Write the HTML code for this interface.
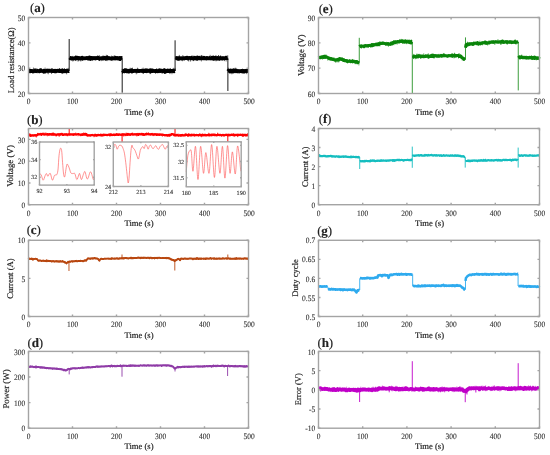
<!DOCTYPE html>
<html><head><meta charset="utf-8"><style>
html,body{margin:0;padding:0;background:#fff;}
svg{display:block;}
text{text-rendering:geometricPrecision;}
</style></head><body>
<svg width="550" height="455" viewBox="0 0 550 455">
<rect width="550" height="455" fill="#fff" stroke="none"/>
<path d="M28.50 71.12 29.00 71.29 29.50 71.12 30.00 70.54 30.50 71.32 31.00 71.16 31.50 70.81 32.00 71.20 32.50 71.13 33.00 71.10 33.50 71.01 34.00 71.19 34.50 70.74 35.00 70.94 35.50 70.83 36.00 71.21 36.50 71.01 37.00 70.90 37.50 70.73 38.00 70.91 38.50 71.00 39.00 70.90 39.50 71.45 40.00 71.35 40.50 70.05 41.00 70.34 41.50 70.94 42.00 70.85 42.50 71.07 43.00 71.08 43.50 71.74 44.00 70.61 44.50 70.87 45.00 71.71 45.50 71.23 46.00 71.23 46.50 70.82 47.00 70.42 47.50 71.06 48.00 71.04 48.50 70.57 49.00 70.76 49.50 70.97 50.00 70.67 50.50 70.97 51.00 71.03 51.50 71.01 52.00 70.82 52.50 71.21 53.00 71.31 53.50 71.11 54.00 70.71 54.50 71.26 55.00 70.82 55.50 71.31 56.00 70.62 56.50 71.32 57.00 70.99 57.50 70.56 58.00 70.89 58.50 71.02 59.00 71.10 59.50 70.66 60.00 70.61 60.50 71.07 61.00 70.84 61.50 71.08 62.00 71.27 62.50 70.42 63.00 71.09 63.50 71.43 64.00 70.90 64.50 70.72 65.00 71.26 65.50 71.09 66.00 71.31 66.50 70.88 67.00 70.48 67.50 70.96 68.00 70.84 68.50 71.27 69.00 71.07M69.50 57.63 70.00 57.78 70.50 58.51 71.00 58.44 71.50 57.98 72.00 58.20 72.50 58.36 73.00 58.36 73.50 58.51 74.00 58.29 74.50 58.17 75.00 58.11 75.50 58.57 76.00 57.41 76.50 58.15 77.00 58.21 77.50 57.70 78.00 58.32 78.50 57.97 79.00 58.50 79.50 58.16 80.00 58.43 80.50 58.63 81.00 58.33 81.50 57.89 82.00 57.67 82.50 58.81 83.00 58.16 83.50 57.96 84.00 58.25 84.50 58.13 85.00 58.50 85.50 58.21 86.00 58.20 86.50 57.95 87.00 58.36 87.50 57.84 88.00 58.43 88.50 58.73 89.00 57.67 89.50 57.34 90.00 58.42 90.50 59.09 91.00 57.85 91.50 57.76 92.00 58.41 92.50 57.91 93.00 58.02 93.50 58.08 94.00 58.39 94.50 58.06 95.00 58.30 95.50 58.14 96.00 57.90 96.50 58.09 97.00 57.87 97.50 58.20 98.00 57.81 98.50 57.82 99.00 58.71 99.50 58.18 100.00 58.18 100.50 58.38 101.00 58.05 101.50 58.12 102.00 58.35 102.50 58.30 103.00 57.79 103.50 58.49 104.00 57.99 104.50 57.83 105.00 57.88 105.50 58.06 106.00 58.77 106.50 57.79 107.00 58.26 107.50 57.45 108.00 58.20 108.50 58.51 109.00 58.12 109.50 57.98 110.00 58.28 110.50 58.45 111.00 58.43 111.50 58.89 112.00 58.27 112.50 57.99 113.00 58.16 113.50 58.17 114.00 58.24 114.50 58.19 115.00 58.26 115.50 57.62 116.00 58.49 116.50 58.00 117.00 57.79 117.50 58.42 118.00 58.66 118.50 58.37 119.00 58.26 119.50 57.87 120.00 59.21 120.50 58.51 121.00 57.80 121.50 57.93 122.00 58.23M122.50 70.46 123.00 71.06 123.50 70.84 124.00 71.43 124.50 71.34 125.00 70.05 125.50 71.01 126.00 70.43 126.50 71.39 127.00 71.06 127.50 71.19 128.00 70.63 128.50 71.64 129.00 71.71 129.50 70.63 130.00 71.13 130.50 70.76 131.00 70.99 131.50 70.56 132.00 71.65 132.50 70.66 133.00 70.90 133.50 71.18 134.00 70.77 134.50 70.92 135.00 70.80 135.50 70.95 136.00 70.59 136.50 70.85 137.00 70.93 137.50 70.88 138.00 71.02 138.50 70.90 139.00 71.26 139.50 70.89 140.00 70.95 140.50 70.77 141.00 70.82 141.50 70.56 142.00 71.18 142.50 70.60 143.00 70.74 143.50 71.13 144.00 71.14 144.50 70.86 145.00 70.29 145.50 71.15 146.00 71.09 146.50 70.51 147.00 71.27 147.50 70.75 148.00 70.61 148.50 71.03 149.00 70.94 149.50 71.07 150.00 70.44 150.50 71.63 151.00 70.79 151.50 70.46 152.00 71.22 152.50 70.88 153.00 71.11 153.50 70.88 154.00 70.98 154.50 71.09 155.00 70.74 155.50 71.24 156.00 70.84 156.50 70.70 157.00 71.03 157.50 71.16 158.00 70.92 158.50 70.70 159.00 71.22 159.50 70.38 160.00 70.64 160.50 71.01 161.00 70.52 161.50 71.01 162.00 70.98 162.50 71.31 163.00 70.68 163.50 70.78 164.00 71.12 164.50 70.14 165.00 72.09 165.50 70.76 166.00 70.74 166.50 71.30 167.00 70.99 167.50 70.38 168.00 71.22 168.50 71.30 169.00 70.84 169.50 70.90 170.00 71.17 170.50 70.68 171.00 71.15 171.50 71.07 172.00 70.76 172.50 70.51 173.00 70.92 173.50 70.69 174.00 71.35 174.50 71.05 175.00 71.27M175.50 58.25 176.00 58.29 176.50 57.93 177.00 58.43 177.50 58.82 178.00 58.09 178.50 57.99 179.00 58.14 179.50 58.03 180.00 57.95 180.50 58.25 181.00 58.10 181.50 58.70 182.00 58.20 182.50 58.31 183.00 58.53 183.50 58.09 184.00 58.70 184.50 57.98 185.00 57.92 185.50 58.07 186.00 58.16 186.50 57.71 187.00 58.19 187.50 57.62 188.00 58.69 188.50 58.17 189.00 57.98 189.50 57.88 190.00 58.07 190.50 58.12 191.00 57.83 191.50 57.88 192.00 58.13 192.50 58.02 193.00 58.53 193.50 58.60 194.00 58.21 194.50 58.37 195.00 57.73 195.50 58.42 196.00 58.19 196.50 58.37 197.00 58.76 197.50 57.40 198.00 58.29 198.50 57.82 199.00 58.41 199.50 57.74 200.00 58.03 200.50 58.27 201.00 58.41 201.50 58.23 202.00 57.92 202.50 58.01 203.00 58.51 203.50 58.20 204.00 57.61 204.50 58.50 205.00 58.35 205.50 58.51 206.00 58.08 206.50 58.49 207.00 57.83 207.50 58.40 208.00 58.03 208.50 58.44 209.00 58.55 209.50 57.94 210.00 58.18 210.50 58.21 211.00 58.62 211.50 58.45 212.00 57.77 212.50 58.36 213.00 58.46 213.50 58.94 214.00 57.61 214.50 58.01 215.00 58.67 215.50 57.73 216.00 57.78 216.50 58.38 217.00 58.56 217.50 57.97 218.00 58.39 218.50 58.24 219.00 58.73 219.50 58.20 220.00 58.55 220.50 57.88 221.00 58.14 221.50 58.17 222.00 58.60 222.50 58.40 223.00 57.94 223.50 58.44 224.00 58.47 224.50 58.16 225.00 58.11 225.50 58.13 226.00 57.61 226.50 58.27 227.00 58.28 227.50 57.90M228.00 71.26 228.50 70.52 229.00 70.81 229.50 70.83 230.00 71.70 230.50 70.44 231.00 71.20 231.50 71.33 232.00 71.13 232.50 71.41 233.00 70.65 233.50 70.20 234.00 71.27 234.50 70.58 235.00 70.89 235.50 70.59 236.00 71.37 236.50 71.30 237.00 70.75 237.50 71.32 238.00 71.04 238.50 70.95 239.00 71.02 239.50 70.93 240.00 71.22 240.50 71.11 241.00 70.88 241.50 71.35 242.00 70.79 242.50 71.10 243.00 71.15 243.50 71.52 244.00 70.82 244.50 71.61 245.00 71.06 245.50 70.93 246.00 70.76 246.50 71.21 247.00 71.02 247.50 70.61 248.00 70.61 248.50 70.81" fill="none" stroke="#000" stroke-width="3.6" stroke-linejoin="round"/>
<path d="M28.50 72.50 28.80 72.28 29.10 70.00 29.40 69.80 29.70 72.50 30.00 69.77 30.30 71.93 30.60 70.33 30.90 70.50 31.20 71.19 31.50 72.53 31.80 69.21 32.10 69.78 32.40 71.79 32.70 70.62 33.00 70.24 33.30 72.67 33.60 70.15 33.90 71.77 34.20 72.67 34.50 71.95 34.80 71.75 35.10 71.80 35.40 72.10 35.70 70.18 36.00 71.46 36.30 72.09 36.60 72.40 36.90 72.46 37.20 72.45 37.50 69.55 37.80 70.56 38.10 70.84 38.40 72.41 38.70 70.71 39.00 70.15 39.30 69.27 39.60 70.24 39.90 72.01 40.20 69.27 40.50 69.79 40.80 70.32 41.10 71.12 41.40 70.51 41.70 72.38 42.00 69.95 42.30 71.22 42.60 72.00 42.90 72.55 43.20 72.34 43.50 69.69 43.80 72.05 44.10 71.63 44.40 70.72 44.70 69.29 45.00 69.80 45.30 71.90 45.60 69.50 45.90 70.33 46.20 70.12 46.50 71.89 46.80 70.49 47.10 69.51 47.40 70.53 47.70 70.38 48.00 71.78 48.30 70.35 48.60 71.70 48.90 71.14 49.20 72.40 49.50 71.84 49.80 70.67 50.10 70.95 50.40 70.90 50.70 72.34 51.00 69.70 51.30 70.73 51.60 71.13 51.90 70.77 52.20 71.35 52.50 71.00 52.80 70.69 53.10 71.67 53.40 70.39 53.70 71.38 54.00 71.82 54.30 69.67 54.60 70.38 54.90 72.60 55.20 72.68 55.50 72.77 55.80 69.35 56.10 72.18 56.40 72.57 56.70 72.45 57.00 71.77 57.30 71.63 57.60 71.79 57.90 71.27 58.20 72.04 58.50 71.01 58.80 70.01 59.10 69.54 59.40 72.47 59.70 71.92 60.00 69.84 60.30 72.16 60.60 70.28 60.90 71.49 61.20 70.48 61.50 69.97 61.80 69.83 62.10 69.46 62.40 69.47 62.70 69.45 63.00 69.52 63.30 72.20 63.60 71.06 63.90 69.66 64.20 71.09 64.50 71.15 64.80 70.99 65.10 69.94 65.40 70.76 65.70 72.34 66.00 70.58 66.30 71.01 66.60 72.55 66.90 70.04 67.20 71.81 67.50 70.94 67.80 72.03 68.10 70.49 68.40 71.15 68.70 70.53 69.00 72.32M69.30 59.69 69.60 58.67 69.90 59.93 70.20 59.04 70.50 59.39 70.80 59.62 71.10 57.38 71.40 59.95 71.70 57.81 72.00 58.19 72.30 57.05 72.60 59.36 72.90 57.61 73.20 58.88 73.50 57.19 73.80 57.66 74.10 57.78 74.40 57.25 74.70 56.53 75.00 59.17 75.30 59.82 75.60 57.21 75.90 56.99 76.20 57.65 76.50 56.70 76.80 58.74 77.10 57.73 77.40 58.42 77.70 59.66 78.00 59.50 78.30 59.72 78.60 59.77 78.90 58.52 79.20 58.21 79.50 56.54 79.80 56.77 80.10 58.29 80.40 59.48 80.70 57.96 81.00 56.41 81.30 57.16 81.60 59.14 81.90 56.97 82.20 57.12 82.50 57.43 82.80 58.59 83.10 59.41 83.40 57.19 83.70 58.56 84.00 58.31 84.30 58.00 84.60 58.49 84.90 59.33 85.20 57.18 85.50 58.19 85.80 56.75 86.10 58.25 86.40 59.25 86.70 59.99 87.00 58.11 87.30 57.47 87.60 58.49 87.90 57.74 88.20 56.82 88.50 58.29 88.80 59.28 89.10 59.61 89.40 59.92 89.70 57.72 90.00 57.31 90.30 56.80 90.60 57.97 90.90 59.31 91.20 57.24 91.50 59.46 91.80 58.96 92.10 57.12 92.40 58.67 92.70 59.35 93.00 59.76 93.30 56.98 93.60 59.36 93.90 59.19 94.20 57.28 94.50 57.46 94.80 59.85 95.10 57.70 95.40 57.44 95.70 58.99 96.00 56.88 96.30 58.14 96.60 57.69 96.90 58.36 97.20 58.57 97.50 58.70 97.80 57.96 98.10 59.59 98.40 59.41 98.70 59.76 99.00 58.01 99.30 59.03 99.60 57.95 99.90 57.40 100.20 58.75 100.50 59.81 100.80 59.30 101.10 57.43 101.40 57.22 101.70 59.18 102.00 58.94 102.30 59.51 102.60 56.93 102.90 59.50 103.20 57.96 103.50 57.38 103.80 57.64 104.10 59.98 104.40 59.84 104.70 56.70 105.00 57.53 105.30 58.99 105.60 56.53 105.90 56.53 106.20 56.56 106.50 59.53 106.80 57.60 107.10 57.55 107.40 59.26 107.70 57.55 108.00 59.06 108.30 57.73 108.60 57.47 108.90 57.79 109.20 57.00 109.50 56.67 109.80 59.54 110.10 59.53 110.40 58.06 110.70 58.88 111.00 59.51 111.30 57.81 111.60 58.96 111.90 59.12 112.20 56.68 112.50 56.90 112.80 59.10 113.10 58.94 113.40 57.07 113.70 59.38 114.00 59.28 114.30 57.60 114.60 57.63 114.90 56.80 115.20 58.00 115.50 56.80 115.80 58.36 116.10 58.65 116.40 58.49 116.70 56.66 117.00 58.64 117.30 59.11 117.60 56.91 117.90 58.54 118.20 59.35 118.50 57.10 118.80 59.69 119.10 59.90 119.40 58.96 119.70 59.54 120.00 57.38 120.30 58.79 120.60 59.73 120.90 56.56 121.20 59.35 121.50 57.25 121.80 59.28 122.10 58.71M122.40 72.09 122.70 70.64 123.00 70.82 123.30 72.53 123.60 69.46 123.90 69.76 124.20 72.70 124.50 72.49 124.80 69.73 125.10 72.70 125.40 70.16 125.70 72.41 126.00 72.46 126.30 69.29 126.60 69.23 126.90 70.38 127.20 72.55 127.50 72.05 127.80 70.59 128.10 72.29 128.40 70.31 128.70 70.45 129.00 69.89 129.30 72.65 129.60 72.09 129.90 70.86 130.20 70.15 130.50 72.68 130.80 70.63 131.10 69.96 131.40 70.73 131.70 71.79 132.00 71.97 132.30 69.59 132.60 72.61 132.90 71.63 133.20 69.42 133.50 72.21 133.80 72.70 134.10 72.22 134.40 69.24 134.70 70.90 135.00 71.32 135.30 72.40 135.60 71.01 135.90 69.48 136.20 72.56 136.50 72.63 136.80 70.95 137.10 69.39 137.40 72.22 137.70 71.87 138.00 72.70 138.30 69.23 138.60 70.77 138.90 70.22 139.20 69.59 139.50 71.85 139.80 70.43 140.10 69.34 140.40 69.68 140.70 72.10 141.00 71.38 141.30 69.97 141.60 71.71 141.90 69.67 142.20 71.62 142.50 71.56 142.80 69.22 143.10 71.04 143.40 71.81 143.70 71.93 144.00 71.74 144.30 72.39 144.60 71.92 144.90 72.52 145.20 70.69 145.50 69.32 145.80 69.85 146.10 70.24 146.40 69.35 146.70 69.59 147.00 71.07 147.30 70.11 147.60 70.23 147.90 71.87 148.20 72.28 148.50 72.30 148.80 70.53 149.10 71.75 149.40 72.27 149.70 69.74 150.00 69.92 150.30 71.53 150.60 70.16 150.90 69.89 151.20 70.52 151.50 69.26 151.80 70.78 152.10 69.37 152.40 70.08 152.70 69.98 153.00 70.39 153.30 69.65 153.60 70.90 153.90 71.68 154.20 70.42 154.50 72.54 154.80 72.30 155.10 70.30 155.40 69.34 155.70 71.97 156.00 70.06 156.30 70.40 156.60 71.29 156.90 72.80 157.20 70.28 157.50 70.89 157.80 71.46 158.10 71.66 158.40 69.96 158.70 71.34 159.00 71.16 159.30 71.57 159.60 69.61 159.90 69.65 160.20 72.71 160.50 72.16 160.80 72.18 161.10 72.56 161.40 72.66 161.70 70.62 162.00 71.91 162.30 71.51 162.60 71.22 162.90 71.65 163.20 70.35 163.50 72.30 163.80 70.67 164.10 69.73 164.40 69.24 164.70 71.50 165.00 70.03 165.30 72.64 165.60 69.90 165.90 70.34 166.20 72.74 166.50 71.07 166.80 72.52 167.10 72.01 167.40 69.63 167.70 69.98 168.00 70.59 168.30 72.37 168.60 70.40 168.90 70.87 169.20 70.93 169.50 70.37 169.80 72.03 170.10 69.40 170.40 70.01 170.70 72.17 171.00 71.42 171.30 71.04 171.60 70.53 171.90 69.67 172.20 70.84 172.50 72.75 172.80 71.34 173.10 71.28 173.40 72.76 173.70 72.39 174.00 72.80 174.30 72.63 174.60 71.60 174.90 70.30M175.20 58.66 175.50 57.65 175.80 59.32 176.10 56.89 176.40 58.07 176.70 59.43 177.00 58.04 177.30 58.56 177.60 56.75 177.90 57.43 178.20 59.84 178.50 58.76 178.80 57.71 179.10 58.26 179.40 59.19 179.70 59.23 180.00 59.38 180.30 57.44 180.60 57.26 180.90 58.70 181.20 58.30 181.50 58.43 181.80 57.17 182.10 57.55 182.40 59.11 182.70 57.69 183.00 59.13 183.30 56.57 183.60 59.82 183.90 57.15 184.20 58.12 184.50 59.72 184.80 57.31 185.10 57.22 185.40 59.95 185.70 59.66 186.00 58.32 186.30 56.62 186.60 58.58 186.90 57.31 187.20 57.17 187.50 59.76 187.80 58.63 188.10 58.00 188.40 56.63 188.70 57.74 189.00 59.51 189.30 57.49 189.60 57.56 189.90 58.58 190.20 57.31 190.50 58.40 190.80 59.17 191.10 57.43 191.40 58.10 191.70 58.47 192.00 57.71 192.30 57.21 192.60 56.81 192.90 58.44 193.20 59.77 193.50 56.47 193.80 59.52 194.10 59.86 194.40 58.35 194.70 59.88 195.00 58.94 195.30 58.36 195.60 58.07 195.90 58.08 196.20 58.86 196.50 57.24 196.80 58.98 197.10 58.17 197.40 58.83 197.70 59.79 198.00 57.24 198.30 57.85 198.60 57.39 198.90 56.59 199.20 58.64 199.50 58.66 199.80 60.00 200.10 58.56 200.40 57.83 200.70 59.64 201.00 56.46 201.30 57.49 201.60 59.11 201.90 56.98 202.20 57.70 202.50 59.46 202.80 57.64 203.10 57.27 203.40 59.61 203.70 56.68 204.00 59.48 204.30 57.54 204.60 57.15 204.90 58.16 205.20 58.14 205.50 59.87 205.80 59.11 206.10 58.06 206.40 58.41 206.70 57.55 207.00 59.94 207.30 57.79 207.60 59.59 207.90 58.76 208.20 59.70 208.50 57.68 208.80 57.90 209.10 57.73 209.40 59.38 209.70 59.83 210.00 59.37 210.30 58.03 210.60 59.38 210.90 59.03 211.20 58.27 211.50 57.06 211.80 57.26 212.10 58.93 212.40 57.12 212.70 58.42 213.00 59.30 213.30 58.75 213.60 58.60 213.90 57.33 214.20 56.83 214.50 56.52 214.80 56.57 215.10 57.23 215.40 58.41 215.70 57.93 216.00 57.13 216.30 57.49 216.60 58.06 216.90 59.28 217.20 58.76 217.50 56.55 217.80 58.13 218.10 57.07 218.40 59.48 218.70 59.59 219.00 58.40 219.30 59.05 219.60 58.87 219.90 59.34 220.20 57.40 220.50 57.23 220.80 59.09 221.10 59.85 221.40 57.23 221.70 58.44 222.00 58.36 222.30 57.74 222.60 59.10 222.90 56.87 223.20 57.74 223.50 57.95 223.80 59.83 224.10 58.86 224.40 58.96 224.70 60.00 225.00 57.22 225.30 58.57 225.60 56.79 225.90 56.98 226.20 58.91 226.50 59.37 226.80 58.69 227.10 58.49 227.40 59.25 227.70 59.84M228.00 72.53 228.30 72.11 228.60 70.76 228.90 71.96 229.20 70.04 229.50 72.45 229.80 70.21 230.10 72.73 230.40 70.29 230.70 70.15 231.00 70.41 231.30 70.95 231.60 69.92 231.90 70.15 232.20 72.38 232.50 72.55 232.80 69.76 233.10 70.79 233.40 70.71 233.70 72.18 234.00 71.58 234.30 70.67 234.60 72.04 234.90 71.38 235.20 69.95 235.50 72.05 235.80 70.88 236.10 72.39 236.40 71.59 236.70 69.74 237.00 71.92 237.30 71.29 237.60 71.15 237.90 70.71 238.20 71.59 238.50 69.43 238.80 71.01 239.10 72.57 239.40 69.94 239.70 69.69 240.00 70.68 240.30 71.07 240.60 70.56 240.90 70.94 241.20 71.63 241.50 72.05 241.80 69.39 242.10 70.57 242.40 71.43 242.70 69.28 243.00 72.62 243.30 71.51 243.60 70.95 243.90 70.81 244.20 69.73 244.50 69.44 244.80 71.65 245.10 72.53 245.40 72.05 245.70 69.28 246.00 69.34 246.30 71.05 246.60 71.26 246.90 71.38 247.20 72.35 247.50 72.43 247.80 72.76 248.10 70.40 248.40 70.89" fill="none" stroke="#000" stroke-width="0.5" stroke-linejoin="round"/>
<path d="M246.60 71.00v-2.24M182.38 58.20v3.02M41.58 71.00v-2.37M228.19 71.00v-3.33M164.05 71.00v-2.75M71.42 58.20v2.69M105.15 58.20v2.42M155.51 71.00v2.79M171.96 71.00v3.22M118.95 58.20v-2.19M192.01 58.20v-2.96M145.69 71.00v-2.29M242.47 71.00v-2.39M215.92 58.20v-3.21M61.87 71.00v2.19M51.58 71.00v3.05M215.92 58.20v2.18M162.09 71.00v2.76M242.79 71.00v2.91M124.45 71.00v2.29M68.27 71.00v-3.14M37.10 71.00v2.39M197.32 58.20v2.72M47.29 71.00v2.41M170.01 71.00v3.09M152.42 71.00v-2.43M190.97 58.20v2.44M235.71 71.00v2.12M80.80 58.20v3.27M134.69 71.00v-2.14M193.59 58.20v-2.51M73.32 58.20v2.94M49.15 71.00v-2.53M59.23 71.00v-2.88M233.04 71.00v2.57M201.88 58.20v-3.24M72.89 58.20v-2.31M32.48 71.00v2.12M168.68 71.00v-2.23M99.50 58.20v2.78M78.92 58.20v2.87M72.70 58.20v3.18M132.42 71.00v-3.34M103.95 58.20v-2.62M234.91 71.00v-3.17M152.93 71.00v-2.63M226.13 58.20v-2.58M231.50 71.00v-2.27M226.13 58.20v3.23M138.14 71.00v-2.54M156.74 71.00v-2.94M146.00 71.00v-2.77M33.44 71.00v-3.40M236.26 71.00v-2.43M62.09 71.00v-2.82M150.21 71.00v3.13M178.50 58.20v2.35M201.20 58.20v-3.17M147.75 71.00v-2.83M168.97 71.00v-2.23M210.14 58.20v-3.36M169.93 71.00v-2.64M175.04 71.00v-2.72M216.04 58.20v3.12M45.08 71.00v-3.35M142.56 71.00v2.42M34.81 71.00v2.28M62.15 71.00v3.07M35.24 71.00v-2.98M218.71 58.20v-2.68M101.21 58.20v2.94M143.13 71.00v-3.33M201.41 58.20v3.19M179.87 58.20v2.84M231.86 71.00v3.28M136.27 71.00v3.29M182.83 58.20v-3.10M219.04 58.20v2.25M52.48 71.00v-2.83M131.90 71.00v-2.89M48.27 71.00v3.24M150.98 71.00v-2.77M97.62 58.20v-2.90M213.07 58.20v-3.03M131.58 71.00v-2.21M64.67 71.00v2.17M220.27 58.20v-2.14M122.26 71.00v-2.24M33.32 71.00v2.43M87.84 58.20v2.16M112.90 58.20v2.88M34.75 71.00v-2.84M59.68 71.00v-2.69M93.94 58.20v-2.11M102.93 58.20v-2.77M124.83 71.00v-2.26M94.18 58.20v-2.11M99.23 58.20v-3.14M130.20 71.00v-3.28M106.07 58.20v-2.19M193.20 58.20v2.96M200.05 58.20v2.17M32.87 71.00v2.86M64.50 71.00v-2.91M51.30 71.00v-2.86M106.28 58.20v-3.39M107.02 58.20v2.90M193.10 58.20v2.32M188.76 58.20v3.31M222.25 58.20v2.49M178.58 58.20v2.80M159.42 71.00v-2.66M246.76 71.00v3.15M169.59 71.00v2.21M114.29 58.20v2.58M95.74 58.20v2.68M36.83 71.00v-2.88M235.77 71.00v-3.28M193.83 58.20v2.49M111.58 58.20v-2.55M220.63 58.20v-2.97M196.08 58.20v2.37M130.87 71.00v-2.76M238.32 71.00v2.52M224.44 58.20v2.91M126.68 71.00v-2.85M122.52 71.00v2.99M62.22 71.00v2.66M51.43 71.00v-2.40M107.23 58.20v-2.12M76.00 58.20v2.88M44.02 71.00v2.39M190.07 58.20v-2.11M239.50 71.00v2.59M179.54 58.20v2.46M227.73 58.20v-2.99M219.61 58.20v2.49M170.49 71.00v-2.58M143.45 71.00v3.04M107.38 58.20v-2.98M137.40 71.00v2.31M99.35 58.20v2.86M66.68 71.00v3.31M137.48 71.00v-3.28M173.79 71.00v-3.20M157.18 71.00v2.47M190.58 58.20v3.35M102.58 58.20v2.36M29.02 71.00v2.62M75.57 58.20v2.25M92.44 58.20v2.84M150.13 71.00v-3.04M114.29 58.20v-2.99M173.03 71.00v2.11M78.04 58.20v3.38M131.50 71.00v-2.50M29.49 71.00v-3.06M179.30 58.20v-3.30M218.51 58.20v-3.11M217.05 58.20v2.78" fill="none" stroke="#000" stroke-width="0.6"/>
<path d="M69.18 71.00V39.03M122.20 58.20V92.74M175.09 71.00V40.30M227.89 58.20V90.97" fill="none" stroke="#000" stroke-width="0.9"/>
<path d="M28.50 135.45 29.00 135.27 29.50 135.30 30.00 134.79 30.50 135.85 31.00 135.69 31.50 135.32 32.00 135.59 32.50 135.47 33.00 135.26 33.50 135.64 34.00 135.32 34.50 135.32 35.00 135.20 35.50 135.51 36.00 135.38 36.50 135.54 37.00 135.25 37.50 135.07 38.00 133.98 38.50 134.42 39.00 134.26 39.50 134.30 40.00 134.33 40.50 133.98 41.00 134.43 41.50 134.75 42.00 133.84 42.50 133.82 43.00 133.88 43.50 134.47 44.00 134.30 44.50 134.54 45.00 134.46 45.50 134.34 46.00 134.36 46.50 134.25 47.00 134.52 47.50 134.02 48.00 134.21 48.50 134.38 49.00 134.77 49.50 134.14 50.00 134.06 50.50 134.20 51.00 134.59 51.50 134.29 52.00 134.69 52.50 133.89 53.00 134.65 53.50 134.63 54.00 134.02 54.50 134.42 55.00 134.69 55.50 134.42 56.00 134.65 56.50 135.00 57.00 134.48 57.50 134.35 58.00 134.23 58.50 134.59 59.00 134.38 59.50 134.39 60.00 134.42 60.50 134.61 61.00 134.19 61.50 134.08 62.00 133.86 62.50 134.77 63.00 134.50 63.50 134.86 64.00 134.49 64.50 134.31 65.00 134.62 65.50 134.48 66.00 134.18 66.50 134.27 67.00 134.93 67.50 134.58 68.00 134.59 68.50 134.41 69.00 134.31 69.50 134.70 70.00 134.45 70.50 134.28 71.00 134.44 71.50 134.24 72.00 134.52 72.50 134.75 73.00 134.25 73.50 134.82 74.00 134.29 74.50 134.49 75.00 134.24 75.50 134.40 76.00 134.46 76.50 134.34 77.00 134.27 77.50 134.27 78.00 134.23 78.50 134.04 79.00 134.37 79.50 134.53 80.00 134.66 80.50 134.59 81.00 135.04 81.50 134.50 82.00 134.31 82.50 134.89 83.00 134.15 83.50 134.66 84.00 134.17 84.50 134.50 85.00 133.92 85.50 134.63 86.00 134.36 86.50 134.16 87.00 135.30 87.50 135.59 88.00 135.40 88.50 135.19 89.00 135.35 89.50 135.31 90.00 135.52 90.50 135.53 91.00 135.15 91.50 135.17 92.00 135.16 92.50 134.95 93.00 135.13 93.50 135.24 94.00 135.42 94.50 135.57 95.00 135.03 95.50 135.36 96.00 135.09 96.50 135.71 97.00 135.17 97.50 135.30 98.00 134.93 98.50 134.95 99.00 135.19 99.50 135.03 100.00 135.20 100.50 134.71 101.00 135.26 101.50 134.86 102.00 135.50 102.50 134.99 103.00 135.32 103.50 134.69 104.00 135.13 104.50 134.79 105.00 134.88 105.50 134.99 106.00 134.90 106.50 135.03 107.00 135.14 107.50 135.10 108.00 134.90 108.50 134.57 109.00 134.70 109.50 134.84 110.00 134.34 110.50 135.05 111.00 134.79 111.50 134.77 112.00 135.06 112.50 134.97 113.00 134.85 113.50 134.53 114.00 134.85 114.50 134.84 115.00 134.52 115.50 134.99 116.00 134.84 116.50 134.21 117.00 134.72 117.50 134.36 118.00 134.95 118.50 134.85 119.00 134.36 119.50 134.40 120.00 134.64 120.50 134.54 121.00 134.97 121.50 134.77 122.00 134.50 122.50 134.71 123.00 134.05 123.50 134.63 124.00 134.76 124.50 134.49 125.00 134.35 125.50 134.66 126.00 135.00 126.50 134.55 127.00 134.21 127.50 134.85 128.00 134.01 128.50 134.60 129.00 134.32 129.50 134.69 130.00 134.23 130.50 134.77 131.00 134.50 131.50 133.99 132.00 133.92 132.50 134.33 133.00 134.72 133.50 134.42 134.00 134.40 134.50 134.31 135.00 134.55 135.50 134.45 136.00 134.42 136.50 134.09 137.00 134.63 137.50 134.66 138.00 133.99 138.50 134.88 139.00 134.48 139.50 134.17 140.00 133.81 140.50 134.44 141.00 134.41 141.50 134.11 142.00 133.80 142.50 134.52 143.00 134.09 143.50 134.11 144.00 134.93 144.50 134.74 145.00 134.44 145.50 134.10 146.00 134.39 146.50 133.67 147.00 134.28 147.50 134.08 148.00 133.96 148.50 133.90 149.00 134.44 149.50 134.34 150.00 134.37 150.50 134.56 151.00 134.15 151.50 134.07 152.00 133.94 152.50 134.32 153.00 134.61 153.50 134.39 154.00 134.60 154.50 134.16 155.00 134.35 155.50 134.29 156.00 134.19 156.50 134.99 157.00 134.77 157.50 134.40 158.00 134.43 158.50 134.64 159.00 134.33 159.50 134.83 160.00 134.43 160.50 134.69 161.00 134.56 161.50 134.73 162.00 134.55 162.50 134.52 163.00 134.71 163.50 134.81 164.00 134.94 164.50 135.06 165.00 135.46 165.50 135.31 166.00 135.08 166.50 135.36 167.00 135.04 167.50 135.60 168.00 135.41 168.50 134.97 169.00 135.52 169.50 135.57 170.00 134.72 170.50 135.01 171.00 134.77 171.50 134.09 172.00 134.03 172.50 134.06 173.00 134.43 173.50 134.38 174.00 135.13 174.50 134.66 175.00 135.33 175.50 135.32 176.00 135.37 176.50 135.01 177.00 134.82 177.50 135.11 178.00 135.49 178.50 135.70 179.00 135.45 179.50 135.42 180.00 135.08 180.50 135.67 181.00 135.61 181.50 135.13 182.00 135.25 182.50 135.00 183.00 135.61 183.50 135.34 184.00 135.20 184.50 135.32 185.00 135.32 185.50 135.10 186.00 134.89 186.50 134.87 187.00 134.75 187.50 135.29 188.00 135.72 188.50 134.73 189.00 135.18 189.50 135.24 190.00 134.89 190.50 135.18 191.00 134.84 191.50 135.41 192.00 134.95 192.50 135.12 193.00 135.27 193.50 134.99 194.00 134.65 194.50 134.96 195.00 135.28 195.50 135.07 196.00 135.15 196.50 134.82 197.00 135.12 197.50 135.27 198.00 135.09 198.50 135.56 199.00 135.03 199.50 134.82 200.00 134.67 200.50 135.36 201.00 135.06 201.50 135.32 202.00 135.18 202.50 135.47 203.00 135.38 203.50 134.97 204.00 135.13 204.50 135.33 205.00 134.75 205.50 135.42 206.00 135.36 206.50 135.30 207.00 135.00 207.50 135.13 208.00 134.77 208.50 135.07 209.00 134.90 209.50 135.07 210.00 134.92 210.50 135.12 211.00 135.34 211.50 134.71 212.00 135.27 212.50 134.54 213.00 134.50 213.50 135.01 214.00 135.04 214.50 135.14 215.00 134.62 215.50 135.01 216.00 135.06 216.50 135.34 217.00 135.00 217.50 135.16 218.00 134.78 218.50 134.97 219.00 134.91 219.50 135.19 220.00 134.77 220.50 134.81 221.00 135.16 221.50 135.46 222.00 135.11 222.50 135.08 223.00 134.92 223.50 135.28 224.00 135.14 224.50 135.44 225.00 135.08 225.50 134.76 226.00 134.86 226.50 134.75 227.00 134.69 227.50 135.32 228.00 135.20 228.50 134.69 229.00 135.45 229.50 135.06 230.00 134.76 230.50 135.10 231.00 134.98 231.50 134.81 232.00 134.51 232.50 135.01 233.00 135.07 233.50 134.36 234.00 135.14 234.50 135.15 235.00 134.88 235.50 135.03 236.00 134.93 236.50 134.79 237.00 134.91 237.50 135.34 238.00 134.64 238.50 135.06 239.00 135.05 239.50 134.82 240.00 134.89 240.50 134.65 241.00 134.79 241.50 135.00 242.00 135.08 242.50 134.78 243.00 135.76 243.50 134.86 244.00 135.03 244.50 134.94 245.00 134.90 245.50 135.33 246.00 134.88 246.50 135.33 247.00 135.29 247.50 134.74 248.00 135.26 248.50 134.84" fill="none" stroke="#ff0000" stroke-width="2.2" stroke-linejoin="round"/>
<path d="M28.50 136.40 28.80 134.47 29.10 135.25 29.40 135.82 29.70 135.86 30.00 134.96 30.30 136.02 30.60 135.14 30.90 134.80 31.20 135.44 31.50 135.62 31.80 136.08 32.10 135.73 32.40 134.57 32.70 135.55 33.00 135.09 33.30 135.81 33.60 134.49 33.90 135.71 34.20 135.98 34.50 134.48 34.80 134.43 35.10 136.18 35.40 136.19 35.70 134.75 36.00 136.24 36.30 135.21 36.60 135.44 36.90 135.34 37.20 135.07 37.50 135.80 37.80 134.71 38.10 135.07 38.40 134.45 38.70 135.06 39.00 134.24 39.30 134.16 39.60 134.36 39.90 133.23 40.20 134.76 40.50 133.51 40.80 135.12 41.10 133.32 41.40 134.65 41.70 134.78 42.00 134.33 42.30 133.44 42.60 134.87 42.90 133.90 43.20 133.83 43.50 134.65 43.80 135.21 44.10 133.46 44.40 134.14 44.70 134.62 45.00 133.83 45.30 135.13 45.60 134.49 45.90 133.44 46.20 133.60 46.50 133.58 46.80 134.21 47.10 135.12 47.40 133.53 47.70 133.61 48.00 133.73 48.30 134.46 48.60 134.18 48.90 134.16 49.20 133.61 49.50 134.98 49.80 134.29 50.10 135.07 50.40 133.40 50.70 134.26 51.00 134.08 51.30 135.03 51.60 134.74 51.90 134.40 52.20 133.68 52.50 134.73 52.80 135.16 53.10 134.92 53.40 135.31 53.70 134.56 54.00 134.01 54.30 133.82 54.60 134.98 54.90 135.01 55.20 134.66 55.50 134.96 55.80 134.37 56.10 135.10 56.40 134.79 56.70 133.89 57.00 134.59 57.30 134.73 57.60 133.82 57.90 135.29 58.20 135.04 58.50 133.72 58.80 133.87 59.10 133.44 59.40 135.32 59.70 133.79 60.00 135.11 60.30 134.47 60.60 133.57 60.90 133.88 61.20 133.97 61.50 134.99 61.80 134.20 62.10 133.75 62.40 135.36 62.70 134.50 63.00 133.61 63.30 135.43 63.60 134.83 63.90 134.37 64.20 133.78 64.50 134.88 64.80 133.69 65.10 135.38 65.40 135.00 65.70 134.92 66.00 135.04 66.30 135.22 66.60 134.43 66.90 135.11 67.20 133.71 67.50 134.89 67.80 134.99 68.10 133.91 68.40 133.71 68.70 135.32 69.00 135.26 69.30 133.70 69.60 134.66 69.90 133.84 70.20 133.89 70.50 135.33 70.80 134.80 71.10 134.99 71.40 134.03 71.70 135.02 72.00 134.81 72.30 134.16 72.60 134.46 72.90 133.96 73.20 134.65 73.50 133.83 73.80 134.36 74.10 135.17 74.40 134.77 74.70 134.66 75.00 133.68 75.30 135.10 75.60 134.69 75.90 135.35 76.20 135.32 76.50 135.31 76.80 134.51 77.10 134.98 77.40 133.65 77.70 133.53 78.00 135.01 78.30 134.78 78.60 135.33 78.90 134.04 79.20 134.42 79.50 135.01 79.80 134.65 80.10 135.13 80.40 134.22 80.70 135.12 81.00 135.15 81.30 135.23 81.60 134.22 81.90 135.24 82.20 134.04 82.50 134.61 82.80 135.38 83.10 134.71 83.40 134.60 83.70 134.14 84.00 134.44 84.30 134.39 84.60 134.76 84.90 134.49 85.20 134.04 85.50 133.79 85.80 135.38 86.10 134.64 86.40 133.75 86.70 134.21 87.00 135.18 87.30 134.70 87.60 136.19 87.90 135.47 88.20 135.74 88.50 135.70 88.80 134.69 89.10 136.23 89.40 136.05 89.70 134.64 90.00 135.48 90.30 135.39 90.60 134.95 90.90 135.07 91.20 134.83 91.50 135.57 91.80 135.16 92.10 134.50 92.40 134.74 92.70 134.58 93.00 135.53 93.30 135.38 93.60 135.05 93.90 135.35 94.20 135.50 94.50 134.67 94.80 134.34 95.10 136.15 95.40 134.59 95.70 134.70 96.00 135.61 96.30 136.17 96.60 134.44 96.90 134.99 97.20 135.89 97.50 134.34 97.80 134.67 98.10 135.39 98.40 135.81 98.70 134.35 99.00 134.97 99.30 135.32 99.60 135.22 99.90 135.19 100.20 136.10 100.50 136.07 100.80 134.52 101.10 134.60 101.40 134.88 101.70 134.28 102.00 134.36 102.30 135.19 102.60 136.03 102.90 134.64 103.20 134.44 103.50 135.27 103.80 134.62 104.10 134.05 104.40 134.20 104.70 135.76 105.00 134.22 105.30 135.28 105.60 134.82 105.90 135.52 106.20 134.99 106.50 134.42 106.80 134.38 107.10 134.42 107.40 134.41 107.70 134.43 108.00 134.52 108.30 135.11 108.60 134.96 108.90 134.04 109.20 134.73 109.50 135.74 109.80 135.76 110.10 134.51 110.40 134.17 110.70 134.44 111.00 134.11 111.30 134.36 111.60 135.68 111.90 135.58 112.20 134.72 112.50 134.91 112.80 135.20 113.10 135.19 113.40 135.17 113.70 135.25 114.00 134.95 114.30 134.03 114.60 135.13 114.90 135.08 115.20 134.06 115.50 134.12 115.80 134.99 116.10 134.48 116.40 135.33 116.70 134.25 117.00 135.02 117.30 134.91 117.60 133.90 117.90 134.22 118.20 134.37 118.50 134.25 118.80 133.83 119.10 134.11 119.40 134.70 119.70 134.07 120.00 134.88 120.30 134.43 120.60 134.51 120.90 134.01 121.20 135.16 121.50 133.74 121.80 135.47 122.10 134.75 122.40 135.46 122.70 134.66 123.00 134.26 123.30 134.29 123.60 135.41 123.90 134.59 124.20 134.33 124.50 133.85 124.80 133.83 125.10 134.36 125.40 134.42 125.70 135.12 126.00 133.75 126.30 134.41 126.60 133.77 126.90 134.00 127.20 134.48 127.50 135.24 127.80 133.75 128.10 133.82 128.40 134.88 128.70 134.52 129.00 133.64 129.30 134.82 129.60 135.37 129.90 134.92 130.20 135.43 130.50 134.92 130.80 134.09 131.10 135.03 131.40 134.56 131.70 133.60 132.00 134.14 132.30 135.30 132.60 134.71 132.90 134.14 133.20 134.81 133.50 134.75 133.80 133.70 134.10 134.30 134.40 134.99 134.70 133.60 135.00 134.46 135.30 133.60 135.60 133.90 135.90 134.88 136.20 134.06 136.50 134.98 136.80 134.79 137.10 134.60 137.40 133.63 137.70 134.22 138.00 135.07 138.30 134.58 138.60 133.44 138.90 134.30 139.20 134.23 139.50 134.27 139.80 134.12 140.10 134.91 140.40 134.34 140.70 134.99 141.00 135.17 141.30 135.05 141.60 134.80 141.90 133.29 142.20 133.25 142.50 133.59 142.80 134.27 143.10 133.83 143.40 133.49 143.70 135.08 144.00 134.08 144.30 133.61 144.60 134.23 144.90 135.17 145.20 134.65 145.50 135.06 145.80 133.45 146.10 134.71 146.40 133.91 146.70 133.96 147.00 134.17 147.30 134.19 147.60 134.85 147.90 133.87 148.20 134.21 148.50 134.16 148.80 134.55 149.10 134.43 149.40 133.41 149.70 135.03 150.00 134.62 150.30 133.65 150.60 134.34 150.90 135.16 151.20 135.13 151.50 134.18 151.80 133.86 152.10 135.29 152.40 134.87 152.70 134.73 153.00 134.23 153.30 135.15 153.60 133.82 153.90 135.10 154.20 135.05 154.50 134.50 154.80 134.19 155.10 134.85 155.40 134.26 155.70 134.32 156.00 134.04 156.30 135.08 156.60 133.84 156.90 134.54 157.20 134.46 157.50 135.56 157.80 133.83 158.10 134.76 158.40 134.09 158.70 135.57 159.00 133.94 159.30 135.54 159.60 135.02 159.90 134.13 160.20 134.60 160.50 134.34 160.80 134.76 161.10 135.47 161.40 134.81 161.70 135.83 162.00 135.71 162.30 134.34 162.60 134.19 162.90 135.31 163.20 134.68 163.50 134.51 163.80 135.85 164.10 135.18 164.40 134.58 164.70 135.19 165.00 135.18 165.30 135.70 165.60 134.94 165.90 135.14 166.20 134.46 166.50 135.87 166.80 136.03 167.10 134.22 167.40 135.74 167.70 136.20 168.00 135.99 168.30 135.89 168.60 134.74 168.90 136.31 169.20 135.09 169.50 136.08 169.80 135.94 170.10 135.61 170.40 136.19 170.70 135.99 171.00 134.77 171.30 134.64 171.60 135.32 171.90 134.23 172.20 135.04 172.50 133.75 172.80 133.80 173.10 134.08 173.40 133.92 173.70 134.21 174.00 133.91 174.30 133.97 174.60 134.57 174.90 134.34 175.20 134.84 175.50 135.09 175.80 136.18 176.10 135.13 176.40 135.48 176.70 136.15 177.00 135.19 177.30 134.85 177.60 135.43 177.90 135.95 178.20 134.87 178.50 135.77 178.80 135.26 179.10 135.36 179.40 135.59 179.70 135.23 180.00 134.66 180.30 134.75 180.60 134.38 180.90 136.04 181.20 135.58 181.50 136.15 181.80 134.90 182.10 135.38 182.40 135.39 182.70 134.53 183.00 135.36 183.30 135.45 183.60 135.10 183.90 134.93 184.20 134.70 184.50 134.37 184.80 135.41 185.10 134.60 185.40 134.37 185.70 136.17 186.00 135.98 186.30 134.91 186.60 135.13 186.90 134.59 187.20 136.15 187.50 134.77 187.80 135.84 188.10 135.66 188.40 134.19 188.70 134.23 189.00 135.03 189.30 134.21 189.60 135.98 189.90 136.08 190.20 135.36 190.50 134.74 190.80 134.55 191.10 134.39 191.40 135.25 191.70 134.42 192.00 134.54 192.30 135.54 192.60 135.84 192.90 135.36 193.20 136.01 193.50 135.73 193.80 134.96 194.10 134.81 194.40 134.49 194.70 135.70 195.00 135.10 195.30 135.84 195.60 135.08 195.90 135.84 196.20 135.53 196.50 135.23 196.80 135.56 197.10 135.56 197.40 134.18 197.70 135.70 198.00 134.30 198.30 135.16 198.60 135.05 198.90 135.60 199.20 134.52 199.50 135.47 199.80 135.66 200.10 134.76 200.40 135.23 200.70 134.90 201.00 135.58 201.30 135.84 201.60 135.09 201.90 134.09 202.20 135.91 202.50 135.24 202.80 134.43 203.10 135.53 203.40 134.97 203.70 134.41 204.00 134.75 204.30 135.28 204.60 134.73 204.90 134.34 205.20 134.17 205.50 134.83 205.80 135.52 206.10 134.75 206.40 134.88 206.70 135.66 207.00 135.33 207.30 136.02 207.60 135.72 207.90 135.93 208.20 135.07 208.50 135.60 208.80 136.05 209.10 134.07 209.40 134.99 209.70 135.53 210.00 134.51 210.30 134.19 210.60 135.05 210.90 134.17 211.20 134.36 211.50 134.14 211.80 135.50 212.10 134.14 212.40 135.88 212.70 135.15 213.00 134.84 213.30 134.33 213.60 134.82 213.90 134.54 214.20 135.76 214.50 135.05 214.80 134.07 215.10 135.90 215.40 136.00 215.70 136.01 216.00 134.57 216.30 135.03 216.60 135.46 216.90 134.25 217.20 134.88 217.50 134.67 217.80 135.74 218.10 134.07 218.40 135.87 218.70 134.06 219.00 135.87 219.30 134.93 219.60 134.39 219.90 134.64 220.20 135.89 220.50 134.39 220.80 135.64 221.10 135.79 221.40 134.61 221.70 135.18 222.00 135.05 222.30 135.88 222.60 134.38 222.90 134.76 223.20 135.34 223.50 134.29 223.80 134.53 224.10 135.54 224.40 135.29 224.70 135.13 225.00 135.74 225.30 134.49 225.60 135.83 225.90 134.65 226.20 135.83 226.50 135.45 226.80 135.45 227.10 135.22 227.40 135.55 227.70 134.62 228.00 135.47 228.30 134.23 228.60 135.31 228.90 135.95 229.20 135.93 229.50 134.49 229.80 135.80 230.10 135.19 230.40 134.88 230.70 134.77 231.00 134.90 231.30 134.91 231.60 135.90 231.90 135.52 232.20 134.32 232.50 135.56 232.80 135.20 233.10 135.98 233.40 134.57 233.70 135.48 234.00 135.04 234.30 134.45 234.60 134.24 234.90 135.79 235.20 134.03 235.50 134.51 235.80 134.95 236.10 134.58 236.40 135.11 236.70 134.36 237.00 135.56 237.30 135.17 237.60 135.29 237.90 135.95 238.20 134.34 238.50 134.93 238.80 134.31 239.10 134.60 239.40 135.01 239.70 135.52 240.00 134.37 240.30 135.62 240.60 135.46 240.90 134.95 241.20 135.75 241.50 134.85 241.80 135.96 242.10 135.93 242.40 134.84 242.70 135.91 243.00 135.54 243.30 135.06 243.60 135.23 243.90 135.60 244.20 135.92 244.50 135.81 244.80 135.91 245.10 134.80 245.40 134.02 245.70 134.27 246.00 134.76 246.30 134.19 246.60 135.09 246.90 134.24 247.20 134.61 247.50 134.61 247.80 135.82 248.10 134.94 248.40 134.23" fill="none" stroke="#ff0000" stroke-width="0.5" stroke-linejoin="round"/>
<path d="M194.59 135.09v1.63M234.24 135.00v2.02M185.17 135.21v-2.18M30.04 135.40v-1.52M213.97 135.03v-1.81M75.70 134.45v-1.96M208.66 135.05v-2.29M209.11 135.05v2.04M178.78 135.30v-1.79M45.84 134.29v-2.03M109.78 134.88v1.86M56.75 134.41v1.50M199.77 135.08v-1.60M43.95 134.27v-1.96M126.18 134.51v-2.01M192.01 135.10v-1.79M209.75 135.05v-1.63M122.23 134.57v-1.45M47.37 134.30v2.07M221.45 135.01v1.58M94.01 135.25v2.04M136.84 134.33v2.25M29.51 135.40v-2.14M95.10 135.23v-1.93M235.13 135.00v1.45M188.81 135.15v-2.03M185.95 135.20v-2.28M153.05 134.42v1.67M59.16 134.44v2.15M77.95 134.44v1.88M237.61 135.00v2.10M53.31 134.37v-2.06M174.65 134.84v1.67M110.77 134.85v-1.83M189.19 135.15v-1.49M60.79 134.45v-1.51M52.12 134.36v-1.66M148.36 134.29v-2.04M85.42 134.41v-1.75M201.53 135.07v2.18M247.71 135.00v-2.00M59.20 134.44v2.23M83.69 134.41v-2.11M67.18 134.49v1.80M114.50 134.75v1.49M80.29 134.43v1.84M162.56 134.92v1.86M111.48 134.83v-1.50M143.10 134.23v1.53M217.55 135.02v-2.28M217.69 135.02v-2.15M67.82 134.49v1.72M86.40 134.40v-1.43M153.80 134.44v1.64M132.61 134.40v-1.90M36.30 135.40v2.27M190.41 135.13v1.42M202.28 135.07v-2.05M123.79 134.55v2.26M56.00 134.40v2.27" fill="none" stroke="#ff0000" stroke-width="0.6"/>
<path d="M69.20 134.48V128.60M122.09 134.58V150.00M175.02 134.98V128.60M227.82 135.00V150.00" fill="none" stroke="#ff0000" stroke-width="1.0"/>
<path d="M28.50 259.45 29.00 258.44 29.50 259.09 30.00 258.88 30.50 258.90 31.00 258.95 31.50 258.56 32.00 258.95 32.50 258.81 33.00 259.73 33.50 259.05 34.00 258.92 34.50 258.94 35.00 258.85 35.50 258.77 36.00 258.91 36.50 259.11 37.00 258.95 37.50 259.67 38.00 260.46 38.50 260.53 39.00 260.89 39.50 260.69 40.00 260.49 40.50 260.58 41.00 260.77 41.50 261.10 42.00 260.64 42.50 260.67 43.00 260.96 43.50 260.57 44.00 260.73 44.50 261.01 45.00 260.97 45.50 260.88 46.00 261.04 46.50 260.29 47.00 261.16 47.50 260.75 48.00 260.62 48.50 261.07 49.00 261.19 49.50 260.96 50.00 260.85 50.50 261.12 51.00 261.13 51.50 261.47 52.00 261.36 52.50 261.26 53.00 261.49 53.50 261.22 54.00 261.09 54.50 261.45 55.00 261.47 55.50 261.32 56.00 261.23 56.50 261.47 57.00 260.90 57.50 261.63 58.00 261.61 58.50 261.14 59.00 261.51 59.50 261.29 60.00 261.67 60.50 261.05 61.00 261.30 61.50 261.66 62.00 261.75 62.50 261.03 63.00 261.39 63.50 261.69 64.00 261.73 64.50 262.46 65.00 262.09 65.50 262.68 66.00 262.62 66.50 263.40 67.00 262.79 67.50 262.40 68.00 261.79 68.50 262.22 69.00 261.76 69.50 261.73 70.00 261.79 70.50 261.58 71.00 261.34 71.50 261.27 72.00 261.24 72.50 261.69 73.00 261.04 73.50 261.20 74.00 261.23 74.50 261.32 75.00 261.37 75.50 260.94 76.00 260.81 76.50 261.16 77.00 261.40 77.50 261.27 78.00 261.12 78.50 260.97 79.00 261.08 79.50 260.93 80.00 261.14 80.50 260.75 81.00 260.93 81.50 260.84 82.00 260.96 82.50 260.86 83.00 261.34 83.50 261.08 84.00 261.05 84.50 260.25 85.00 260.59 85.50 260.50 86.00 260.73 86.50 259.63 87.00 259.74 87.50 259.07 88.00 258.30 88.50 258.34 89.00 258.35 89.50 258.51 90.00 258.61 90.50 258.90 91.00 258.37 91.50 258.56 92.00 258.40 92.50 258.72 93.00 258.47 93.50 258.58 94.00 258.01 94.50 258.18 95.00 258.03 95.50 258.62 96.00 258.51 96.50 258.37 97.00 258.41 97.50 258.69 98.00 258.91 98.50 259.41 99.00 260.28 99.50 260.66 100.00 259.58 100.50 259.03 101.00 258.73 101.50 258.67 102.00 259.06 102.50 259.12 103.00 258.91 103.50 258.97 104.00 258.90 104.50 258.89 105.00 258.50 105.50 258.72 106.00 258.82 106.50 258.61 107.00 258.66 107.50 258.56 108.00 258.65 108.50 258.89 109.00 258.59 109.50 258.63 110.00 258.83 110.50 258.77 111.00 258.98 111.50 258.13 112.00 258.76 112.50 258.45 113.00 258.56 113.50 258.70 114.00 258.73 114.50 258.70 115.00 258.49 115.50 258.79 116.00 258.36 116.50 258.37 117.00 258.57 117.50 258.26 118.00 258.84 118.50 258.58 119.00 258.83 119.50 258.33 120.00 258.24 120.50 258.35 121.00 258.47 121.50 258.17 122.00 258.37 122.50 258.27 123.00 258.62 123.50 258.11 124.00 258.48 124.50 258.09 125.00 258.01 125.50 258.06 126.00 257.94 126.50 258.23 127.00 258.41 127.50 258.21 128.00 258.30 128.50 258.51 129.00 258.20 129.50 258.17 130.00 258.06 130.50 257.76 131.00 258.27 131.50 257.70 132.00 258.22 132.50 258.07 133.00 258.31 133.50 258.03 134.00 257.86 134.50 258.11 135.00 257.89 135.50 257.97 136.00 258.01 136.50 257.96 137.00 257.93 137.50 257.78 138.00 257.91 138.50 257.48 139.00 257.90 139.50 257.66 140.00 258.16 140.50 258.18 141.00 257.47 141.50 257.93 142.00 257.87 142.50 257.67 143.00 258.02 143.50 257.80 144.00 257.51 144.50 257.84 145.00 257.87 145.50 257.92 146.00 257.63 146.50 258.04 147.00 258.06 147.50 257.65 148.00 257.76 148.50 257.88 149.00 257.78 149.50 258.28 150.00 257.95 150.50 257.68 151.00 257.73 151.50 257.89 152.00 258.41 152.50 257.86 153.00 257.93 153.50 258.01 154.00 257.89 154.50 258.40 155.00 257.78 155.50 258.06 156.00 257.94 156.50 258.04 157.00 257.64 157.50 258.29 158.00 257.87 158.50 257.91 159.00 257.69 159.50 257.74 160.00 258.02 160.50 258.12 161.00 258.07 161.50 258.17 162.00 258.06 162.50 257.91 163.00 258.08 163.50 258.03 164.00 257.88 164.50 258.06 165.00 258.18 165.50 257.95 166.00 257.82 166.50 258.06 167.00 258.32 167.50 257.85 168.00 257.89 168.50 258.09 169.00 258.61 169.50 258.15 170.00 258.85 170.50 259.25 171.00 259.02 171.50 259.74 172.00 259.75 172.50 259.72 173.00 260.10 173.50 259.94 174.00 260.36 174.50 261.10 175.00 260.30 175.50 260.70 176.00 260.07 176.50 260.10 177.00 259.69 177.50 258.96 178.00 258.97 178.50 258.77 179.00 259.00 179.50 259.57 180.00 260.21 180.50 259.38 181.00 258.55 181.50 258.55 182.00 258.89 182.50 258.60 183.00 258.91 183.50 259.04 184.00 258.71 184.50 258.45 185.00 258.41 185.50 258.69 186.00 258.89 186.50 258.76 187.00 258.82 187.50 258.60 188.00 258.76 188.50 258.59 189.00 258.62 189.50 258.40 190.00 258.34 190.50 258.58 191.00 258.44 191.50 258.47 192.00 258.82 192.50 258.65 193.00 259.31 193.50 258.87 194.00 258.52 194.50 258.83 195.00 258.74 195.50 258.51 196.00 258.90 196.50 258.48 197.00 257.98 197.50 258.82 198.00 258.51 198.50 258.97 199.00 258.50 199.50 258.38 200.00 258.97 200.50 258.39 201.00 258.67 201.50 258.95 202.00 258.65 202.50 258.60 203.00 258.64 203.50 258.80 204.00 258.44 204.50 258.75 205.00 258.74 205.50 259.12 206.00 258.53 206.50 258.40 207.00 258.76 207.50 258.51 208.00 258.66 208.50 258.62 209.00 258.85 209.50 258.44 210.00 258.56 210.50 258.02 211.00 258.38 211.50 258.91 212.00 258.42 212.50 258.42 213.00 258.30 213.50 258.69 214.00 258.60 214.50 258.30 215.00 258.70 215.50 258.61 216.00 258.72 216.50 258.41 217.00 258.93 217.50 258.64 218.00 258.52 218.50 258.43 219.00 258.48 219.50 258.72 220.00 258.47 220.50 258.77 221.00 258.66 221.50 258.82 222.00 258.70 222.50 258.51 223.00 258.10 223.50 258.58 224.00 258.69 224.50 258.55 225.00 258.63 225.50 258.40 226.00 258.42 226.50 258.29 227.00 258.80 227.50 258.54 228.00 258.40 228.50 258.22 229.00 258.48 229.50 258.83 230.00 258.62 230.50 258.36 231.00 258.83 231.50 258.84 232.00 258.74 232.50 258.70 233.00 258.78 233.50 258.65 234.00 258.70 234.50 258.36 235.00 258.87 235.50 258.59 236.00 258.99 236.50 258.10 237.00 258.70 237.50 258.77 238.00 258.48 238.50 258.65 239.00 258.72 239.50 258.69 240.00 258.44 240.50 258.53 241.00 258.79 241.50 258.85 242.00 258.59 242.50 258.59 243.00 258.62 243.50 258.81 244.00 258.35 244.50 258.29 245.00 258.61 245.50 258.34 246.00 258.46 246.50 258.61 247.00 258.70 247.50 258.36 248.00 258.77 248.50 258.21" fill="none" stroke="#b8460f" stroke-width="1.9" stroke-linejoin="round"/>
<path d="M28.50 259.56 28.80 259.20 29.10 258.64 29.40 259.51 29.70 258.17 30.00 258.44 30.30 259.52 30.60 258.18 30.90 258.34 31.20 259.00 31.50 259.38 31.80 259.16 32.10 258.17 32.40 258.59 32.70 259.37 33.00 258.73 33.30 258.45 33.60 258.10 33.90 258.57 34.20 259.78 34.50 258.19 34.80 259.10 35.10 259.74 35.40 259.36 35.70 258.61 36.00 259.27 36.30 258.31 36.60 259.00 36.90 258.57 37.20 259.68 37.50 260.11 37.80 260.61 38.10 260.28 38.40 261.06 38.70 261.40 39.00 260.32 39.30 260.61 39.60 259.97 39.90 259.89 40.20 261.00 40.50 259.83 40.80 260.82 41.10 259.96 41.40 260.97 41.70 261.14 42.00 261.49 42.30 260.51 42.60 260.53 42.90 260.56 43.20 261.12 43.50 261.29 43.80 260.09 44.10 260.48 44.40 260.01 44.70 260.35 45.00 261.26 45.30 261.64 45.60 261.73 45.90 260.11 46.20 260.72 46.50 261.58 46.80 260.94 47.10 260.67 47.40 261.46 47.70 261.63 48.00 260.35 48.30 261.03 48.60 260.38 48.90 260.46 49.20 261.10 49.50 260.62 49.80 261.63 50.10 260.85 50.40 260.53 50.70 261.36 51.00 260.71 51.30 260.37 51.60 262.07 51.90 260.62 52.20 260.54 52.50 261.18 52.80 260.34 53.10 261.77 53.40 260.50 53.70 260.45 54.00 262.13 54.30 261.34 54.60 262.10 54.90 262.06 55.20 261.78 55.50 260.53 55.80 261.65 56.10 260.62 56.40 260.54 56.70 262.05 57.00 261.10 57.30 261.91 57.60 261.53 57.90 262.01 58.20 261.75 58.50 262.35 58.80 261.45 59.10 262.14 59.40 262.08 59.70 261.66 60.00 261.51 60.30 261.37 60.60 261.76 60.90 260.95 61.20 261.39 61.50 261.76 61.80 261.15 62.10 260.99 62.40 260.79 62.70 262.05 63.00 262.18 63.30 262.12 63.60 262.04 63.90 262.00 64.20 261.17 64.50 262.79 64.80 262.21 65.10 262.74 65.40 261.87 65.70 263.14 66.00 262.21 66.30 263.82 66.60 263.43 66.90 262.91 67.20 262.94 67.50 261.99 67.80 262.29 68.10 261.35 68.40 261.51 68.70 261.34 69.00 260.99 69.30 261.43 69.60 260.77 69.90 260.69 70.20 261.22 70.50 262.39 70.80 261.90 71.10 261.34 71.40 260.91 71.70 260.76 72.00 261.27 72.30 261.68 72.60 261.97 72.90 261.30 73.20 261.98 73.50 261.89 73.80 261.94 74.10 261.00 74.40 261.22 74.70 260.65 75.00 261.40 75.30 260.40 75.60 261.16 75.90 260.59 76.20 261.14 76.50 260.59 76.80 260.24 77.10 260.98 77.40 260.98 77.70 261.16 78.00 260.40 78.30 261.05 78.60 260.68 78.90 260.27 79.20 260.84 79.50 261.29 79.80 260.61 80.10 261.33 80.40 261.45 80.70 260.04 81.00 260.39 81.30 260.49 81.60 261.03 81.90 260.82 82.20 260.95 82.50 260.04 82.80 260.41 83.10 260.17 83.40 261.20 83.70 261.07 84.00 260.37 84.30 261.38 84.60 260.03 84.90 259.80 85.20 260.43 85.50 260.94 85.80 261.42 86.10 260.62 86.40 259.61 86.70 260.05 87.00 258.61 87.30 259.67 87.60 258.38 87.90 257.87 88.20 257.94 88.50 259.15 88.80 259.27 89.10 257.95 89.40 259.40 89.70 259.14 90.00 258.17 90.30 257.65 90.60 257.81 90.90 258.31 91.20 257.88 91.50 257.82 91.80 257.96 92.10 259.04 92.40 257.51 92.70 259.08 93.00 258.22 93.30 258.72 93.60 258.30 93.90 259.06 94.20 257.67 94.50 257.78 94.80 258.22 95.10 258.24 95.40 257.97 95.70 257.96 96.00 257.62 96.30 258.41 96.60 259.05 96.90 259.16 97.20 258.39 97.50 259.45 97.80 259.68 98.10 258.85 98.40 258.82 98.70 260.44 99.00 260.96 99.30 260.58 99.60 260.86 99.90 259.69 100.20 259.49 100.50 258.39 100.80 258.76 101.10 259.75 101.40 258.26 101.70 258.31 102.00 258.11 102.30 258.93 102.60 259.11 102.90 258.97 103.20 259.59 103.50 259.22 103.80 259.13 104.10 259.05 104.40 258.87 104.70 258.08 105.00 258.11 105.30 259.08 105.60 258.29 105.90 258.65 106.20 259.06 106.50 258.96 106.80 258.31 107.10 258.34 107.40 258.10 107.70 259.03 108.00 259.12 108.30 258.05 108.60 258.29 108.90 258.06 109.20 258.88 109.50 258.30 109.80 259.32 110.10 258.22 110.40 258.89 110.70 258.86 111.00 259.40 111.30 259.00 111.60 259.37 111.90 258.73 112.20 257.67 112.50 258.24 112.80 258.97 113.10 258.25 113.40 258.80 113.70 257.82 114.00 258.76 114.30 258.28 114.60 259.27 114.90 257.69 115.20 258.20 115.50 258.92 115.80 258.23 116.10 258.35 116.40 258.11 116.70 257.67 117.00 258.07 117.30 259.06 117.60 258.86 117.90 258.03 118.20 258.67 118.50 258.89 118.80 258.89 119.10 257.55 119.40 257.74 119.70 259.16 120.00 257.93 120.30 258.82 120.60 258.55 120.90 258.98 121.20 257.54 121.50 259.08 121.80 258.97 122.10 257.81 122.40 258.66 122.70 257.38 123.00 258.92 123.30 258.11 123.60 258.69 123.90 258.78 124.20 257.39 124.50 258.92 124.80 257.52 125.10 257.60 125.40 258.14 125.70 257.77 126.00 258.47 126.30 257.64 126.60 258.41 126.90 258.66 127.20 259.01 127.50 257.99 127.80 257.78 128.10 258.30 128.40 258.43 128.70 258.91 129.00 258.30 129.30 258.02 129.60 257.77 129.90 258.53 130.20 258.36 130.50 257.34 130.80 257.74 131.10 257.50 131.40 258.08 131.70 257.87 132.00 257.47 132.30 258.13 132.60 258.35 132.90 257.78 133.20 258.66 133.50 257.33 133.80 257.25 134.10 258.41 134.40 258.14 134.70 258.48 135.00 258.80 135.30 258.03 135.60 258.58 135.90 258.27 136.20 258.02 136.50 257.99 136.80 258.87 137.10 257.70 137.40 257.83 137.70 257.92 138.00 258.21 138.30 257.16 138.60 258.22 138.90 257.11 139.20 257.71 139.50 257.82 139.80 258.04 140.10 258.04 140.40 258.09 140.70 257.04 141.00 257.59 141.30 258.33 141.60 257.75 141.90 258.49 142.20 257.98 142.50 258.02 142.80 258.22 143.10 258.77 143.40 257.01 143.70 257.21 144.00 257.16 144.30 257.37 144.60 257.04 144.90 258.78 145.20 257.27 145.50 257.85 145.80 258.59 146.10 257.85 146.40 257.44 146.70 257.53 147.00 257.76 147.30 257.55 147.60 257.85 147.90 257.74 148.20 257.15 148.50 258.57 148.80 258.74 149.10 258.01 149.40 257.17 149.70 258.64 150.00 257.65 150.30 257.69 150.60 257.46 150.90 258.67 151.20 258.25 151.50 257.54 151.80 257.66 152.10 257.76 152.40 257.69 152.70 258.21 153.00 258.71 153.30 257.08 153.60 258.53 153.90 258.53 154.20 257.39 154.50 258.76 154.80 258.58 155.10 258.30 155.40 257.19 155.70 257.81 156.00 258.36 156.30 258.00 156.60 257.11 156.90 258.37 157.20 257.74 157.50 257.40 157.80 257.63 158.10 257.19 158.40 257.65 158.70 257.03 159.00 258.80 159.30 257.25 159.60 257.61 159.90 257.54 160.20 257.83 160.50 257.61 160.80 258.60 161.10 257.34 161.40 258.79 161.70 257.71 162.00 258.77 162.30 257.60 162.60 257.15 162.90 258.50 163.20 257.29 163.50 258.34 163.80 258.58 164.10 257.39 164.40 257.57 164.70 258.02 165.00 258.56 165.30 258.54 165.60 257.88 165.90 258.02 166.20 258.45 166.50 257.28 166.80 258.68 167.10 258.55 167.40 257.42 167.70 258.13 168.00 258.33 168.30 258.30 168.60 257.40 168.90 257.51 169.20 257.93 169.50 257.84 169.80 258.66 170.10 259.24 170.40 259.08 170.70 259.80 171.00 259.18 171.30 259.24 171.60 258.79 171.90 260.40 172.20 260.03 172.50 260.71 172.80 260.75 173.10 259.35 173.40 260.42 173.70 260.34 174.00 260.95 174.30 259.80 174.60 260.94 174.90 260.73 175.20 260.18 175.50 259.62 175.80 260.50 176.10 259.23 176.40 259.63 176.70 258.95 177.00 259.33 177.30 259.11 177.60 259.60 177.90 259.50 178.20 259.32 178.50 258.57 178.80 259.47 179.10 259.67 179.40 259.80 179.70 260.61 180.00 260.98 180.30 259.73 180.60 260.23 180.90 259.26 181.20 258.50 181.50 258.66 181.80 258.98 182.10 258.37 182.40 259.46 182.70 258.49 183.00 258.92 183.30 259.35 183.60 259.29 183.90 259.01 184.20 259.09 184.50 259.16 184.80 258.86 185.10 258.58 185.40 259.42 185.70 258.09 186.00 258.03 186.30 258.36 186.60 258.22 186.90 259.55 187.20 258.75 187.50 259.39 187.80 258.79 188.10 258.18 188.40 259.37 188.70 259.38 189.00 258.01 189.30 259.17 189.60 258.81 189.90 258.11 190.20 258.39 190.50 259.10 190.80 258.12 191.10 258.87 191.40 258.74 191.70 258.73 192.00 258.10 192.30 259.26 192.60 258.74 192.90 259.01 193.20 258.90 193.50 258.34 193.80 259.09 194.10 258.48 194.40 259.42 194.70 258.58 195.00 258.11 195.30 258.59 195.60 258.47 195.90 259.47 196.20 258.31 196.50 259.35 196.80 257.80 197.10 257.99 197.40 258.28 197.70 259.08 198.00 258.83 198.30 258.49 198.60 258.49 198.90 259.25 199.20 258.13 199.50 259.15 199.80 258.41 200.10 258.98 200.40 259.20 200.70 258.50 201.00 258.08 201.30 258.16 201.60 258.17 201.90 257.90 202.20 258.49 202.50 258.88 202.80 258.42 203.10 259.44 203.40 259.41 203.70 259.11 204.00 259.14 204.30 258.28 204.60 259.08 204.90 257.80 205.20 257.74 205.50 257.83 205.80 258.28 206.10 259.01 206.40 257.76 206.70 258.39 207.00 258.77 207.30 259.22 207.60 258.71 207.90 258.14 208.20 257.85 208.50 258.60 208.80 259.14 209.10 259.19 209.40 258.80 209.70 258.01 210.00 257.82 210.30 257.77 210.60 258.17 210.90 258.64 211.20 257.95 211.50 258.79 211.80 258.24 212.10 259.09 212.40 258.63 212.70 259.05 213.00 258.13 213.30 258.69 213.60 259.26 213.90 257.69 214.20 259.34 214.50 258.73 214.80 259.45 215.10 258.17 215.40 258.54 215.70 258.89 216.00 258.72 216.30 258.77 216.60 259.21 216.90 257.94 217.20 258.94 217.50 258.45 217.80 259.29 218.10 259.35 218.40 258.44 218.70 258.28 219.00 259.26 219.30 259.33 219.60 259.03 219.90 259.26 220.20 259.34 220.50 258.50 220.80 258.28 221.10 257.73 221.40 258.42 221.70 258.02 222.00 258.93 222.30 258.72 222.60 259.31 222.90 258.86 223.20 258.07 223.50 258.29 223.80 258.51 224.10 258.58 224.40 259.30 224.70 258.75 225.00 258.19 225.30 258.10 225.60 258.64 225.90 257.76 226.20 258.43 226.50 259.21 226.80 259.25 227.10 258.61 227.40 258.58 227.70 258.20 228.00 258.67 228.30 258.43 228.60 258.78 228.90 259.33 229.20 258.97 229.50 257.86 229.80 257.93 230.10 258.86 230.40 259.37 230.70 258.70 231.00 259.13 231.30 258.12 231.60 258.06 231.90 259.39 232.20 259.21 232.50 258.44 232.80 259.10 233.10 258.79 233.40 259.04 233.70 258.69 234.00 258.86 234.30 259.33 234.60 258.41 234.90 258.96 235.20 259.37 235.50 257.71 235.80 258.10 236.10 258.29 236.40 258.68 236.70 258.47 237.00 259.34 237.30 257.99 237.60 258.20 237.90 257.79 238.20 257.97 238.50 258.73 238.80 257.75 239.10 259.35 239.40 259.03 239.70 257.81 240.00 259.08 240.30 257.88 240.60 258.59 240.90 258.05 241.20 257.98 241.50 258.63 241.80 259.26 242.10 257.82 242.40 258.05 242.70 258.55 243.00 259.39 243.30 258.33 243.60 259.24 243.90 258.65 244.20 258.49 244.50 259.06 244.80 258.03 245.10 258.63 245.40 257.75 245.70 258.63 246.00 259.48 246.30 257.82 246.60 257.87 246.90 258.72 247.20 259.37 247.50 258.70 247.80 259.43 248.10 258.27 248.40 259.48" fill="none" stroke="#b8460f" stroke-width="0.5" stroke-linejoin="round"/>
<path d="M68.98 261.63V271.00M122.00 258.29V254.50M174.80 260.63V270.50M227.82 258.51V254.50" fill="none" stroke="#b8460f" stroke-width="0.9"/>
<path d="M28.50 366.46 29.00 366.58 29.50 367.01 30.00 366.81 30.50 366.33 31.00 366.71 31.50 366.60 32.00 366.79 32.50 366.43 33.00 366.86 33.50 366.88 34.00 367.20 34.50 366.94 35.00 367.01 35.50 366.59 36.00 367.44 36.50 366.54 37.00 367.23 37.50 366.95 38.00 366.88 38.50 366.99 39.00 367.04 39.50 367.32 40.00 367.27 40.50 367.68 41.00 367.00 41.50 367.46 42.00 367.32 42.50 367.74 43.00 367.16 43.50 367.60 44.00 367.78 44.50 367.46 45.00 368.06 45.50 367.93 46.00 368.17 46.50 368.21 47.00 367.84 47.50 367.94 48.00 368.12 48.50 368.38 49.00 368.43 49.50 368.12 50.00 368.18 50.50 368.17 51.00 368.25 51.50 368.36 52.00 368.42 52.50 368.94 53.00 368.41 53.50 368.49 54.00 368.68 54.50 368.41 55.00 368.57 55.50 368.69 56.00 368.89 56.50 368.46 57.00 369.09 57.50 368.74 58.00 368.89 58.50 369.07 59.00 369.07 59.50 369.19 60.00 369.03 60.50 369.07 61.00 369.26 61.50 369.08 62.00 369.68 62.50 369.36 63.00 369.36 63.50 370.21 64.00 369.84 64.50 369.72 65.00 370.50 65.50 370.14 66.00 370.56 66.50 370.12 67.00 369.93 67.50 369.29 68.00 368.92 68.50 368.81 69.00 368.94 69.50 369.08 70.00 369.39 70.50 368.58 71.00 368.97 71.50 368.57 72.00 368.62 72.50 368.27 73.00 368.23 73.50 368.34 74.00 368.21 74.50 368.43 75.00 368.23 75.50 368.62 76.00 368.34 76.50 368.30 77.00 368.47 77.50 368.29 78.00 368.12 78.50 368.07 79.00 368.02 79.50 368.24 80.00 368.13 80.50 368.00 81.00 368.05 81.50 367.71 82.00 367.90 82.50 367.44 83.00 368.00 83.50 367.68 84.00 367.66 84.50 367.71 85.00 367.53 85.50 367.44 86.00 367.71 86.50 367.43 87.00 367.16 87.50 367.42 88.00 366.90 88.50 367.60 89.00 367.16 89.50 367.16 90.00 367.61 90.50 367.55 91.00 367.08 91.50 367.16 92.00 367.24 92.50 367.34 93.00 366.92 93.50 366.95 94.00 367.16 94.50 366.93 95.00 367.01 95.50 366.95 96.00 366.54 96.50 366.57 97.00 366.15 97.50 366.65 98.00 366.98 98.50 366.41 99.00 366.90 99.50 366.82 100.00 366.56 100.50 366.55 101.00 366.54 101.50 366.31 102.00 366.41 102.50 366.43 103.00 366.55 103.50 366.57 104.00 366.20 104.50 366.52 105.00 366.14 105.50 366.25 106.00 366.34 106.50 366.23 107.00 366.18 107.50 366.24 108.00 366.03 108.50 365.98 109.00 366.06 109.50 366.30 110.00 366.06 110.50 366.49 111.00 366.11 111.50 365.40 112.00 365.95 112.50 366.40 113.00 366.02 113.50 365.92 114.00 365.81 114.50 366.28 115.00 366.20 115.50 366.12 116.00 366.06 116.50 366.27 117.00 366.13 117.50 365.66 118.00 366.09 118.50 365.95 119.00 365.88 119.50 366.06 120.00 365.89 120.50 365.23 121.00 366.21 121.50 366.09 122.00 365.82 122.50 365.76 123.00 365.88 123.50 365.54 124.00 365.88 124.50 365.75 125.00 365.71 125.50 365.58 126.00 365.62 126.50 366.00 127.00 366.04 127.50 365.85 128.00 365.72 128.50 365.53 129.00 365.87 129.50 366.06 130.00 365.34 130.50 365.94 131.00 365.20 131.50 365.59 132.00 365.74 132.50 365.34 133.00 365.30 133.50 365.66 134.00 365.81 134.50 365.50 135.00 365.89 135.50 365.41 136.00 365.96 136.50 365.59 137.00 365.61 137.50 365.68 138.00 365.61 138.50 365.93 139.00 366.00 139.50 365.63 140.00 365.46 140.50 365.24 141.00 365.33 141.50 365.50 142.00 365.47 142.50 365.48 143.00 365.49 143.50 365.60 144.00 365.19 144.50 365.26 145.00 365.73 145.50 365.67 146.00 365.36 146.50 365.76 147.00 365.33 147.50 365.42 148.00 365.07 148.50 365.66 149.00 365.47 149.50 365.70 150.00 365.62 150.50 365.49 151.00 365.50 151.50 365.72 152.00 365.42 152.50 365.43 153.00 365.47 153.50 365.63 154.00 365.66 154.50 365.88 155.00 365.44 155.50 365.73 156.00 365.31 156.50 365.58 157.00 365.48 157.50 365.83 158.00 365.58 158.50 365.35 159.00 365.57 159.50 365.52 160.00 365.37 160.50 365.38 161.00 365.23 161.50 366.04 162.00 365.47 162.50 365.65 163.00 365.18 163.50 365.19 164.00 365.40 164.50 365.39 165.00 365.60 165.50 365.20 166.00 365.54 166.50 365.75 167.00 365.22 167.50 365.62 168.00 365.20 168.50 365.49 169.00 365.49 169.50 365.86 170.00 365.48 170.50 365.82 171.00 366.17 171.50 365.84 172.00 366.25 172.50 366.22 173.00 366.51 173.50 367.25 174.00 367.68 174.50 368.53 175.00 368.70 175.50 368.45 176.00 367.88 176.50 367.60 177.00 367.45 177.50 366.78 178.00 367.59 178.50 367.02 179.00 366.87 179.50 366.95 180.00 367.20 180.50 367.26 181.00 366.89 181.50 367.06 182.00 366.93 182.50 366.71 183.00 366.95 183.50 366.91 184.00 366.55 184.50 367.11 185.00 366.51 185.50 366.89 186.00 366.59 186.50 366.63 187.00 366.64 187.50 366.93 188.00 366.49 188.50 366.71 189.00 367.08 189.50 366.57 190.00 366.70 190.50 366.84 191.00 366.55 191.50 366.76 192.00 366.50 192.50 366.78 193.00 366.63 193.50 366.39 194.00 366.89 194.50 366.55 195.00 366.49 195.50 366.34 196.00 366.42 196.50 366.49 197.00 366.53 197.50 366.72 198.00 366.18 198.50 366.37 199.00 366.70 199.50 366.46 200.00 366.50 200.50 366.75 201.00 366.46 201.50 366.48 202.00 366.36 202.50 366.74 203.00 366.58 203.50 366.18 204.00 366.44 204.50 366.06 205.00 366.54 205.50 366.44 206.00 366.25 206.50 366.18 207.00 365.87 207.50 366.42 208.00 366.22 208.50 366.16 209.00 366.38 209.50 366.06 210.00 366.07 210.50 366.04 211.00 365.88 211.50 366.70 212.00 366.12 212.50 366.07 213.00 366.34 213.50 365.44 214.00 366.11 214.50 366.11 215.00 365.88 215.50 366.19 216.00 365.63 216.50 366.07 217.00 366.25 217.50 365.55 218.00 365.71 218.50 365.98 219.00 366.00 219.50 365.85 220.00 366.06 220.50 366.04 221.00 365.69 221.50 365.97 222.00 365.72 222.50 365.55 223.00 365.48 223.50 366.24 224.00 365.99 224.50 366.46 225.00 365.71 225.50 365.96 226.00 366.12 226.50 366.02 227.00 366.17 227.50 366.10 228.00 365.94 228.50 365.57 229.00 365.88 229.50 366.48 230.00 366.28 230.50 366.42 231.00 365.99 231.50 366.09 232.00 365.94 232.50 366.23 233.00 366.17 233.50 366.26 234.00 366.56 234.50 365.99 235.00 366.35 235.50 365.88 236.00 366.44 236.50 366.11 237.00 366.20 237.50 366.25 238.00 366.59 238.50 366.23 239.00 366.13 239.50 365.99 240.00 366.32 240.50 366.07 241.00 366.16 241.50 366.27 242.00 366.43 242.50 366.13 243.00 366.44 243.50 366.69 244.00 365.98 244.50 366.62 245.00 366.80 245.50 366.20 246.00 366.47 246.50 366.04 247.00 366.43 247.50 366.29 248.00 366.43 248.50 366.17" fill="none" stroke="#8e3aa6" stroke-width="1.9" stroke-linejoin="round"/>
<path d="M28.50 366.52 28.80 366.88 29.10 366.55 29.40 366.96 29.70 367.38 30.00 365.94 30.30 367.39 30.60 367.42 30.90 366.46 31.20 365.83 31.50 366.66 31.80 367.07 32.10 366.22 32.40 366.21 32.70 366.55 33.00 367.52 33.30 367.00 33.60 367.19 33.90 367.00 34.20 367.17 34.50 366.76 34.80 366.88 35.10 366.19 35.40 367.81 35.70 366.33 36.00 367.51 36.30 367.20 36.60 367.42 36.90 367.04 37.20 367.09 37.50 366.74 37.80 366.30 38.10 367.32 38.40 367.33 38.70 366.85 39.00 367.94 39.30 367.99 39.60 367.01 39.90 367.22 40.20 366.80 40.50 367.75 40.80 366.83 41.10 367.09 41.40 368.27 41.70 366.86 42.00 368.22 42.30 367.65 42.60 367.04 42.90 368.17 43.20 367.80 43.50 368.18 43.80 367.49 44.10 367.40 44.40 367.07 44.70 367.14 45.00 367.87 45.30 367.69 45.60 367.11 45.90 367.38 46.20 367.95 46.50 367.19 46.80 367.15 47.10 368.37 47.40 367.37 47.70 367.98 48.00 368.95 48.30 367.46 48.60 368.03 48.90 367.69 49.20 368.78 49.50 368.31 49.80 367.55 50.10 368.79 50.40 369.10 50.70 368.88 51.00 367.88 51.30 369.28 51.60 368.74 51.90 368.22 52.20 367.72 52.50 368.54 52.80 367.75 53.10 367.86 53.40 368.82 53.70 369.01 54.00 368.79 54.30 368.51 54.60 369.23 54.90 369.29 55.20 367.83 55.50 369.11 55.80 369.26 56.10 368.92 56.40 368.62 56.70 369.26 57.00 367.94 57.30 369.53 57.60 368.89 57.90 369.00 58.20 369.16 58.50 368.83 58.80 368.54 59.10 368.47 59.40 368.35 59.70 368.09 60.00 369.63 60.30 369.88 60.60 369.44 60.90 368.81 61.20 369.05 61.50 369.86 61.80 369.33 62.10 369.24 62.40 370.01 62.70 369.16 63.00 368.94 63.30 369.52 63.60 370.47 63.90 370.74 64.20 369.41 64.50 370.49 64.80 369.34 65.10 370.41 65.40 369.51 65.70 369.75 66.00 370.83 66.30 369.69 66.60 370.26 66.90 369.76 67.20 370.74 67.50 370.14 67.80 369.08 68.10 370.15 68.40 369.33 68.70 368.37 69.00 368.57 69.30 369.48 69.60 369.72 69.90 368.03 70.20 368.96 70.50 368.26 70.80 369.14 71.10 367.85 71.40 369.14 71.70 368.75 72.00 368.90 72.30 368.59 72.60 368.91 72.90 369.17 73.20 367.77 73.50 368.23 73.80 367.95 74.10 368.39 74.40 368.63 74.70 368.24 75.00 368.90 75.30 367.48 75.60 367.73 75.90 367.66 76.20 367.55 76.50 368.45 76.80 368.57 77.10 367.96 77.40 368.55 77.70 367.91 78.00 368.29 78.30 367.28 78.60 367.80 78.90 367.26 79.20 368.49 79.50 368.30 79.80 368.62 80.10 368.63 80.40 368.01 80.70 367.26 81.00 367.52 81.30 368.10 81.60 368.16 81.90 368.17 82.20 367.05 82.50 367.07 82.80 368.13 83.10 366.95 83.40 367.69 83.70 367.53 84.00 368.20 84.30 366.85 84.60 368.00 84.90 367.25 85.20 367.84 85.50 366.89 85.80 367.68 86.10 367.89 86.40 367.76 86.70 367.87 87.00 367.57 87.30 367.37 87.60 367.62 87.90 366.60 88.20 367.56 88.50 366.60 88.80 367.15 89.10 367.12 89.40 366.47 89.70 366.63 90.00 367.51 90.30 367.34 90.60 367.04 90.90 367.39 91.20 366.84 91.50 366.98 91.80 366.87 92.10 367.46 92.40 366.20 92.70 367.53 93.00 366.07 93.30 366.62 93.60 367.77 93.90 366.41 94.20 366.63 94.50 366.27 94.80 367.47 95.10 366.25 95.40 366.63 95.70 366.52 96.00 366.27 96.30 366.87 96.60 366.51 96.90 367.54 97.20 366.65 97.50 367.10 97.80 365.84 98.10 367.29 98.40 366.83 98.70 366.28 99.00 366.72 99.30 365.74 99.60 365.98 99.90 366.96 100.20 366.51 100.50 367.27 100.80 366.91 101.10 367.31 101.40 367.14 101.70 365.80 102.00 367.09 102.30 366.81 102.60 365.87 102.90 365.78 103.20 366.06 103.50 366.95 103.80 366.17 104.10 366.43 104.40 366.35 104.70 366.56 105.00 366.19 105.30 365.52 105.60 367.11 105.90 366.40 106.20 365.41 106.50 365.69 106.80 367.01 107.10 367.03 107.40 366.21 107.70 365.92 108.00 366.04 108.30 365.84 108.60 366.12 108.90 366.33 109.20 365.45 109.50 366.94 109.80 365.57 110.10 365.34 110.40 366.30 110.70 365.81 111.00 366.52 111.30 365.49 111.60 366.14 111.90 365.38 112.20 366.64 112.50 365.57 112.80 366.86 113.10 365.53 113.40 366.18 113.70 365.89 114.00 366.84 114.30 365.75 114.60 366.16 114.90 366.70 115.20 365.26 115.50 365.98 115.80 366.65 116.10 365.55 116.40 365.30 116.70 366.12 117.00 366.53 117.30 366.65 117.60 365.93 117.90 365.40 118.20 365.05 118.50 365.73 118.80 365.27 119.10 366.09 119.40 366.26 119.70 366.24 120.00 365.38 120.30 366.77 120.60 366.39 120.90 366.15 121.20 366.43 121.50 366.68 121.80 365.60 122.10 366.39 122.40 365.72 122.70 365.68 123.00 366.72 123.30 365.20 123.60 365.84 123.90 366.37 124.20 366.09 124.50 365.63 124.80 366.32 125.10 365.34 125.40 365.84 125.70 365.81 126.00 365.18 126.30 365.21 126.60 366.42 126.90 365.08 127.20 366.62 127.50 365.47 127.80 366.60 128.10 366.15 128.40 365.73 128.70 366.42 129.00 365.03 129.30 365.84 129.60 366.14 129.90 366.13 130.20 365.37 130.50 364.91 130.80 366.51 131.10 366.44 131.40 365.36 131.70 366.29 132.00 365.04 132.30 365.28 132.60 366.52 132.90 364.96 133.20 365.82 133.50 366.07 133.80 366.20 134.10 366.41 134.40 364.86 134.70 366.03 135.00 365.91 135.30 365.62 135.60 365.18 135.90 366.23 136.20 365.34 136.50 365.89 136.80 365.28 137.10 365.47 137.40 366.42 137.70 365.04 138.00 366.17 138.30 364.77 138.60 366.36 138.90 365.78 139.20 365.25 139.50 366.06 139.80 365.97 140.10 366.35 140.40 365.88 140.70 366.01 141.00 365.31 141.30 366.09 141.60 366.01 141.90 365.50 142.20 365.07 142.50 366.37 142.80 365.46 143.10 366.07 143.40 364.73 143.70 365.18 144.00 364.97 144.30 365.94 144.60 365.31 144.90 366.06 145.20 365.23 145.50 365.19 145.80 365.20 146.10 365.05 146.40 365.64 146.70 365.53 147.00 366.23 147.30 365.24 147.60 364.84 147.90 366.17 148.20 366.30 148.50 365.59 148.80 364.72 149.10 365.50 149.40 364.94 149.70 365.22 150.00 365.35 150.30 364.68 150.60 365.51 150.90 365.51 151.20 365.05 151.50 364.76 151.80 365.66 152.10 365.78 152.40 366.33 152.70 365.68 153.00 364.94 153.30 364.93 153.60 364.58 153.90 364.72 154.20 366.04 154.50 364.62 154.80 365.39 155.10 364.92 155.40 365.72 155.70 365.97 156.00 365.56 156.30 365.82 156.60 364.62 156.90 364.73 157.20 364.65 157.50 365.01 157.80 364.58 158.10 365.89 158.40 366.07 158.70 365.92 159.00 365.02 159.30 365.29 159.60 365.72 159.90 364.85 160.20 365.12 160.50 365.79 160.80 365.43 161.10 365.23 161.40 364.94 161.70 365.96 162.00 365.10 162.30 365.29 162.60 365.53 162.90 364.87 163.20 366.15 163.50 365.09 163.80 365.89 164.10 365.69 164.40 364.81 164.70 364.53 165.00 365.35 165.30 365.87 165.60 364.75 165.90 365.96 166.20 364.86 166.50 365.18 166.80 364.73 167.10 364.79 167.40 365.62 167.70 365.84 168.00 364.60 168.30 366.01 168.60 365.49 168.90 365.51 169.20 365.42 169.50 364.79 169.80 366.37 170.10 366.32 170.40 365.05 170.70 365.48 171.00 365.37 171.30 365.90 171.60 366.01 171.90 367.02 172.20 366.61 172.50 367.20 172.80 367.12 173.10 366.14 173.40 367.47 173.70 367.44 174.00 366.88 174.30 367.89 174.60 368.42 174.90 367.67 175.20 369.02 175.50 368.97 175.80 368.90 176.10 366.99 176.40 367.47 176.70 366.97 177.00 366.76 177.30 367.47 177.60 367.17 177.90 367.49 178.20 367.68 178.50 367.01 178.80 367.72 179.10 367.74 179.40 367.95 179.70 366.12 180.00 366.70 180.30 367.79 180.60 367.64 180.90 366.47 181.20 367.59 181.50 367.72 181.80 367.49 182.10 366.25 182.40 367.35 182.70 366.02 183.00 367.04 183.30 367.04 183.60 367.38 183.90 366.52 184.20 366.83 184.50 366.67 184.80 366.12 185.10 366.62 185.40 367.19 185.70 367.16 186.00 366.23 186.30 365.95 186.60 367.48 186.90 367.08 187.20 366.06 187.50 366.93 187.80 366.29 188.10 367.12 188.40 367.38 188.70 366.48 189.00 367.29 189.30 365.90 189.60 366.23 189.90 366.49 190.20 366.63 190.50 366.58 190.80 367.39 191.10 366.23 191.40 366.08 191.70 367.30 192.00 366.80 192.30 366.87 192.60 366.49 192.90 366.76 193.20 367.22 193.50 366.09 193.80 366.54 194.10 366.19 194.40 366.70 194.70 366.27 195.00 366.27 195.30 366.28 195.60 366.25 195.90 366.72 196.20 365.82 196.50 366.22 196.80 365.62 197.10 366.31 197.40 365.83 197.70 366.63 198.00 365.91 198.30 367.34 198.60 366.84 198.90 365.95 199.20 367.28 199.50 367.03 199.80 365.73 200.10 366.70 200.40 367.06 200.70 365.49 201.00 365.70 201.30 365.82 201.60 366.60 201.90 366.53 202.20 365.64 202.50 365.67 202.80 365.61 203.10 366.21 203.40 365.94 203.70 366.22 204.00 367.10 204.30 366.33 204.60 366.07 204.90 366.13 205.20 366.52 205.50 367.06 205.80 366.21 206.10 366.84 206.40 366.71 206.70 366.58 207.00 366.45 207.30 366.47 207.60 366.25 207.90 365.57 208.20 366.50 208.50 365.53 208.80 366.70 209.10 365.77 209.40 366.59 209.70 366.38 210.00 365.98 210.30 366.56 210.60 367.08 210.90 366.29 211.20 366.28 211.50 366.29 211.80 365.31 212.10 365.69 212.40 366.68 212.70 365.46 213.00 365.73 213.30 366.97 213.60 367.03 213.90 366.03 214.20 365.47 214.50 366.63 214.80 366.96 215.10 366.10 215.40 366.62 215.70 365.64 216.00 366.63 216.30 365.19 216.60 366.88 216.90 365.99 217.20 366.20 217.50 366.34 217.80 365.96 218.10 365.82 218.40 365.60 218.70 366.17 219.00 366.79 219.30 366.62 219.60 365.46 219.90 366.32 220.20 366.65 220.50 365.44 220.80 365.98 221.10 365.99 221.40 366.23 221.70 365.33 222.00 366.05 222.30 366.02 222.60 366.58 222.90 366.33 223.20 366.63 223.50 365.90 223.80 366.25 224.10 365.44 224.40 366.50 224.70 366.90 225.00 366.52 225.30 366.50 225.60 366.08 225.90 366.85 226.20 366.46 226.50 366.87 226.80 365.36 227.10 366.41 227.40 365.76 227.70 365.47 228.00 365.83 228.30 366.39 228.60 365.38 228.90 365.33 229.20 366.57 229.50 366.06 229.80 366.11 230.10 365.40 230.40 365.28 230.70 365.91 231.00 366.64 231.30 365.78 231.60 366.28 231.90 365.90 232.20 365.63 232.50 366.34 232.80 365.68 233.10 366.20 233.40 365.74 233.70 365.73 234.00 365.41 234.30 365.75 234.60 366.54 234.90 366.35 235.20 366.52 235.50 366.66 235.80 367.08 236.10 366.18 236.40 366.20 236.70 366.72 237.00 365.36 237.30 366.13 237.60 365.94 237.90 366.57 238.20 365.36 238.50 365.98 238.80 367.05 239.10 365.66 239.40 366.77 239.70 366.76 240.00 365.72 240.30 365.53 240.60 366.70 240.90 365.53 241.20 365.48 241.50 366.94 241.80 365.90 242.10 366.29 242.40 365.77 242.70 365.95 243.00 367.17 243.30 366.26 243.60 366.36 243.90 365.98 244.20 365.46 244.50 366.73 244.80 367.22 245.10 365.80 245.40 366.61 245.70 366.47 246.00 366.62 246.30 366.47 246.60 366.71 246.90 366.47 247.20 366.63 247.50 366.04 247.80 367.02 248.10 367.21 248.40 366.49" fill="none" stroke="#8e3aa6" stroke-width="0.5" stroke-linejoin="round"/>
<path d="M69.20 368.95V374.40M122.00 365.85V376.70M175.02 368.29V371.50M227.60 366.11V376.00" fill="none" stroke="#8e3aa6" stroke-width="0.9"/>
<path d="M318.50 57.52 319.00 57.24 319.50 57.51 320.00 57.65 320.50 57.80 321.00 57.34 321.50 57.01 322.00 56.83 322.50 57.26 323.00 57.47 323.50 56.90 324.00 56.27 324.50 56.27 325.00 57.33 325.50 57.02 326.00 56.52 326.50 57.28 327.00 57.08 327.50 57.45 328.00 57.67 328.50 57.77 329.00 58.39 329.50 58.36 330.00 58.35 330.50 58.88 331.00 59.20 331.50 58.52 332.00 59.18 332.50 59.11 333.00 59.52 333.50 59.24 334.00 59.81 334.50 59.91 335.00 59.93 335.50 59.78 336.00 60.12 336.50 59.81 337.00 59.56 337.50 59.95 338.00 59.32 338.50 59.95 339.00 59.63 339.50 58.52 340.00 59.15 340.50 58.73 341.00 59.31 341.50 59.48 342.00 58.95 342.50 59.74 343.00 59.90 343.50 60.51 344.00 59.93 344.50 60.78 345.00 60.31 345.50 60.62 346.00 60.47 346.50 61.31 347.00 61.04 347.50 61.72 348.00 61.13 348.50 61.24 349.00 61.27 349.50 60.80 350.00 61.02 350.50 61.55 351.00 61.00 351.50 61.29 352.00 61.30 352.50 61.60 353.00 61.34 353.50 61.49 354.00 61.71 354.50 61.73 355.00 61.47 355.50 62.16 356.00 61.47 356.50 61.58 357.00 61.77 357.50 62.77 358.00 62.53 358.50 62.43 359.00 62.46M359.50 46.54 360.00 46.01 360.50 45.91 361.00 46.55 361.50 45.90 362.00 46.19 362.50 46.28 363.00 46.11 363.50 46.23 364.00 46.70 364.50 46.03 365.00 45.75 365.50 45.47 366.00 45.96 366.50 45.83 367.00 45.97 367.50 45.64 368.00 45.56 368.50 45.40 369.00 45.39 369.50 45.55 370.00 45.28 370.50 45.38 371.00 45.93 371.50 45.35 372.00 44.56 372.50 45.64 373.00 45.08 373.50 44.55 374.00 45.12 374.50 44.73 375.00 44.43 375.50 44.35 376.00 44.14 376.50 44.42 377.00 44.68 377.50 44.10 378.00 44.27 378.50 44.68 379.00 43.51 379.50 43.93 380.00 43.64 380.50 43.28 381.00 43.20 381.50 43.46 382.00 43.53 382.50 43.10 383.00 43.21 383.50 43.36 384.00 43.30 384.50 43.58 385.00 43.53 385.50 43.62 386.00 44.18 386.50 43.84 387.00 43.76 387.50 44.05 388.00 43.57 388.50 43.86 389.00 44.34 389.50 44.23 390.00 44.39 390.50 43.70 391.00 43.02 391.50 44.06 392.00 43.60 392.50 42.69 393.00 43.38 393.50 42.76 394.00 41.95 394.50 42.28 395.00 42.09 395.50 42.67 396.00 41.71 396.50 41.85 397.00 41.79 397.50 41.71 398.00 41.47 398.50 41.82 399.00 42.07 399.50 41.86 400.00 41.27 400.50 41.15 401.00 41.54 401.50 41.20 402.00 41.18 402.50 40.84 403.00 42.14 403.50 41.81 404.00 41.18 404.50 41.87 405.00 42.06 405.50 40.78 406.00 41.46 406.50 41.54 407.00 41.94 407.50 41.70 408.00 41.69 408.50 41.79 409.00 42.49 409.50 42.62 410.00 41.72 410.50 41.58 411.00 42.84 411.50 41.56 412.00 41.70M412.50 56.60 413.00 56.72 413.50 56.87 414.00 56.60 414.50 56.12 415.00 56.57 415.50 56.47 416.00 57.03 416.50 56.36 417.00 55.89 417.50 55.98 418.00 56.84 418.50 56.13 419.00 55.57 419.50 56.10 420.00 56.29 420.50 56.69 421.00 55.91 421.50 56.49 422.00 56.52 422.50 55.99 423.00 56.16 423.50 56.83 424.00 56.80 424.50 56.49 425.00 56.30 425.50 56.57 426.00 56.11 426.50 56.11 427.00 55.83 427.50 56.13 428.00 56.09 428.50 57.07 429.00 56.02 429.50 56.53 430.00 56.53 430.50 55.99 431.00 56.46 431.50 55.28 432.00 56.06 432.50 56.32 433.00 55.17 433.50 55.59 434.00 56.35 434.50 55.88 435.00 55.58 435.50 55.82 436.00 55.75 436.50 56.18 437.00 56.08 437.50 55.81 438.00 55.66 438.50 55.87 439.00 56.34 439.50 55.99 440.00 56.08 440.50 55.79 441.00 55.38 441.50 55.58 442.00 56.04 442.50 55.84 443.00 55.48 443.50 55.22 444.00 55.81 444.50 55.65 445.00 55.63 445.50 55.63 446.00 55.84 446.50 55.83 447.00 56.05 447.50 56.03 448.00 56.16 448.50 55.97 449.00 55.56 449.50 55.65 450.00 55.83 450.50 55.54 451.00 55.83 451.50 56.03 452.00 55.33 452.50 54.99 453.00 56.01 453.50 55.59 454.00 55.82 454.50 55.10 455.00 56.16 455.50 55.80 456.00 55.49 456.50 55.40 457.00 55.55 457.50 55.45 458.00 55.52 458.50 55.43 459.00 56.48 459.50 56.23 460.00 56.48 460.50 56.70 461.00 56.09 461.50 57.44 462.00 57.47 462.50 57.82 463.00 58.28 463.50 58.24 464.00 59.21 464.50 59.01 465.00 59.27M465.50 47.78 466.00 44.86 466.50 44.96 467.00 44.39 467.50 43.97 468.00 44.77 468.50 43.93 469.00 44.62 469.50 44.08 470.00 43.75 470.50 43.67 471.00 43.96 471.50 44.09 472.00 43.68 472.50 44.06 473.00 44.44 473.50 43.61 474.00 43.26 474.50 43.27 475.00 43.13 475.50 43.37 476.00 43.32 476.50 43.09 477.00 43.71 477.50 42.59 478.00 43.01 478.50 44.13 479.00 43.75 479.50 43.53 480.00 43.47 480.50 43.89 481.00 43.41 481.50 43.21 482.00 42.72 482.50 43.08 483.00 42.81 483.50 42.78 484.00 42.73 484.50 42.93 485.00 42.79 485.50 43.17 486.00 42.36 486.50 42.72 487.00 43.39 487.50 42.72 488.00 43.08 488.50 43.02 489.00 43.04 489.50 42.80 490.00 42.02 490.50 42.37 491.00 42.29 491.50 41.84 492.00 42.18 492.50 41.86 493.00 41.67 493.50 42.29 494.00 42.16 494.50 41.90 495.00 41.76 495.50 41.87 496.00 41.88 496.50 41.86 497.00 41.98 497.50 41.85 498.00 42.14 498.50 42.18 499.00 42.13 499.50 41.77 500.00 41.78 500.50 42.15 501.00 41.93 501.50 41.98 502.00 41.13 502.50 41.05 503.00 42.12 503.50 42.12 504.00 42.49 504.50 42.25 505.00 42.08 505.50 42.01 506.00 41.50 506.50 42.31 507.00 41.79 507.50 42.18 508.00 42.07 508.50 42.10 509.00 42.31 509.50 41.83 510.00 41.86 510.50 41.70 511.00 41.87 511.50 42.58 512.00 41.87 512.50 42.41 513.00 42.29 513.50 42.26 514.00 42.28 514.50 41.65 515.00 42.13 515.50 42.56 516.00 41.76 516.50 41.98 517.00 41.76 517.50 42.11 518.00 41.62M518.50 57.82 519.00 57.15 519.50 56.76 520.00 57.95 520.50 57.68 521.00 57.54 521.50 57.57 522.00 57.27 522.50 57.34 523.00 57.69 523.50 57.78 524.00 57.81 524.50 57.57 525.00 57.36 525.50 57.47 526.00 57.95 526.50 58.08 527.00 57.48 527.50 57.45 528.00 58.08 528.50 57.91 529.00 57.92 529.50 57.24 530.00 57.59 530.50 57.56 531.00 57.83 531.50 57.19 532.00 58.24 532.50 57.92 533.00 57.99 533.50 57.45 534.00 57.87 534.50 58.37 535.00 57.37 535.50 58.05 536.00 58.20 536.50 57.74 537.00 58.28 537.50 57.90 538.00 58.47 538.50 58.24 539.00 58.16 539.50 58.80" fill="none" stroke="#0a850a" stroke-width="3.0" stroke-linejoin="round"/>
<path d="M318.50 58.03 318.80 59.40 319.10 58.46 319.40 57.51 319.70 57.37 320.00 58.76 320.30 55.76 320.60 56.36 320.90 58.88 321.20 57.78 321.50 58.32 321.80 57.26 322.10 55.52 322.40 57.14 322.70 57.40 323.00 55.50 323.30 56.78 323.60 58.29 323.90 55.23 324.20 55.12 324.50 55.25 324.80 57.32 325.10 58.15 325.40 55.75 325.70 58.20 326.00 56.19 326.30 57.37 326.60 58.24 326.90 56.15 327.20 57.48 327.50 58.91 327.80 57.28 328.10 58.89 328.40 57.83 328.70 59.60 329.00 57.86 329.30 59.40 329.60 56.97 329.90 57.97 330.20 57.42 330.50 58.41 330.80 58.52 331.10 58.07 331.40 58.78 331.70 59.78 332.00 59.53 332.30 58.50 332.60 60.20 332.90 60.27 333.20 59.36 333.50 59.56 333.80 58.65 334.10 60.97 334.40 59.41 334.70 59.26 335.00 61.49 335.30 59.44 335.60 59.14 335.90 59.84 336.20 60.35 336.50 60.58 336.80 59.75 337.10 60.63 337.40 58.28 337.70 61.25 338.00 59.57 338.30 59.43 338.60 59.33 338.90 58.65 339.20 60.38 339.50 59.05 339.80 57.74 340.10 58.51 340.40 59.03 340.70 58.71 341.00 57.94 341.30 60.72 341.60 58.32 341.90 60.39 342.20 59.46 342.50 59.80 342.80 60.53 343.10 58.39 343.40 60.10 343.70 60.10 344.00 60.10 344.30 58.75 344.60 58.89 344.90 60.62 345.20 60.56 345.50 60.17 345.80 59.45 346.10 60.31 346.40 61.38 346.70 61.90 347.00 61.74 347.30 59.16 347.60 60.33 347.90 60.86 348.20 61.99 348.50 61.16 348.80 61.99 349.10 61.63 349.40 59.55 349.70 62.66 350.00 61.24 350.30 61.42 350.60 60.27 350.90 62.49 351.20 62.87 351.50 60.69 351.80 61.23 352.10 59.83 352.40 62.26 352.70 61.91 353.00 60.56 353.30 62.64 353.60 61.72 353.90 63.06 354.20 62.74 354.50 60.34 354.80 60.85 355.10 62.97 355.40 60.24 355.70 60.62 356.00 63.35 356.30 63.02 356.60 61.21 356.90 61.62 357.20 60.73 357.50 61.17 357.80 60.90 358.10 62.99 358.40 63.13 358.70 61.59 359.00 63.99M359.30 46.36 359.60 46.73 359.90 46.93 360.20 45.37 360.50 47.39 360.80 46.04 361.10 46.33 361.40 45.05 361.70 45.48 362.00 46.15 362.30 47.06 362.60 46.14 362.90 46.48 363.20 47.13 363.50 45.92 363.80 44.59 364.10 46.44 364.40 47.73 364.70 44.64 365.00 46.06 365.30 46.67 365.60 46.06 365.90 44.70 366.20 46.05 366.50 44.53 366.80 44.45 367.10 45.31 367.40 44.72 367.70 45.79 368.00 47.24 368.30 44.71 368.60 47.29 368.90 45.07 369.20 46.68 369.50 45.57 369.80 46.40 370.10 46.64 370.40 46.52 370.70 44.11 371.00 46.59 371.30 43.92 371.60 45.97 371.90 43.58 372.20 44.40 372.50 43.78 372.80 45.40 373.10 44.31 373.40 45.12 373.70 43.89 374.00 44.46 374.30 46.12 374.60 45.04 374.90 44.62 375.20 45.38 375.50 46.25 375.80 43.96 376.10 43.15 376.40 43.54 376.70 43.19 377.00 43.98 377.30 45.07 377.60 45.10 377.90 42.81 378.20 42.93 378.50 43.55 378.80 45.14 379.10 43.86 379.40 43.99 379.70 43.09 380.00 43.92 380.30 44.05 380.60 43.08 380.90 43.92 381.20 44.39 381.50 42.97 381.80 43.26 382.10 42.10 382.40 42.48 382.70 41.68 383.00 41.68 383.30 41.72 383.60 44.47 383.90 43.96 384.20 43.52 384.50 44.29 384.80 42.23 385.10 42.88 385.40 43.71 385.70 44.69 386.00 43.68 386.30 42.32 386.60 42.09 386.90 42.12 387.20 44.62 387.50 45.14 387.80 42.65 388.10 44.96 388.40 42.40 388.70 45.15 389.00 44.75 389.30 43.98 389.60 43.90 389.90 42.93 390.20 45.25 390.50 42.92 390.80 42.80 391.10 44.43 391.40 43.67 391.70 43.37 392.00 43.46 392.30 41.80 392.60 41.70 392.90 44.56 393.20 43.53 393.50 43.13 393.80 42.86 394.10 41.65 394.40 41.29 394.70 42.65 395.00 40.60 395.30 40.57 395.60 41.55 395.90 42.29 396.20 43.43 396.50 41.78 396.80 41.25 397.10 43.42 397.40 41.16 397.70 41.76 398.00 41.72 398.30 40.21 398.60 40.39 398.90 40.03 399.20 42.67 399.50 41.24 399.80 42.23 400.10 41.41 400.40 41.54 400.70 42.77 401.00 41.14 401.30 40.12 401.60 42.02 401.90 39.81 402.20 41.46 402.50 40.98 402.80 41.20 403.10 42.24 403.40 42.64 403.70 43.08 404.00 42.47 404.30 42.63 404.60 43.05 404.90 41.19 405.20 41.07 405.50 40.01 405.80 41.48 406.10 40.15 406.40 40.70 406.70 41.40 407.00 41.41 407.30 42.63 407.60 41.63 407.90 42.47 408.20 40.16 408.50 42.56 408.80 42.71 409.10 40.19 409.40 41.36 409.70 42.35 410.00 40.67 410.30 42.94 410.60 43.51 410.90 42.86 411.20 42.31 411.50 42.86 411.80 43.39 412.10 43.45M412.40 56.03 412.70 57.07 413.00 55.17 413.30 57.94 413.60 55.00 413.90 55.75 414.20 56.70 414.50 55.49 414.80 56.14 415.10 55.89 415.40 56.95 415.70 56.44 416.00 57.50 416.30 56.78 416.60 57.11 416.90 54.71 417.20 56.95 417.50 57.74 417.80 55.10 418.10 57.29 418.40 57.29 418.70 54.90 419.00 56.70 419.30 55.66 419.60 55.85 419.90 57.97 420.20 56.52 420.50 56.20 420.80 57.28 421.10 55.89 421.40 55.00 421.70 57.88 422.00 55.09 422.30 57.60 422.60 57.85 422.90 56.12 423.20 54.93 423.50 56.08 423.80 56.35 424.10 57.17 424.40 57.89 424.70 55.32 425.00 54.60 425.30 57.81 425.60 54.47 425.90 57.73 426.20 57.49 426.50 57.51 426.80 55.81 427.10 55.12 427.40 56.46 427.70 55.89 428.00 56.83 428.30 55.06 428.60 56.00 428.90 57.50 429.20 56.39 429.50 57.54 429.80 56.93 430.10 54.83 430.40 56.56 430.70 54.98 431.00 54.59 431.30 56.39 431.60 54.37 431.90 54.51 432.20 55.65 432.50 54.93 432.80 56.57 433.10 55.25 433.40 55.12 433.70 56.17 434.00 56.07 434.30 57.15 434.60 57.06 434.90 57.44 435.20 54.64 435.50 54.44 435.80 56.80 436.10 55.60 436.40 54.41 436.70 56.03 437.00 55.31 437.30 54.94 437.60 56.47 437.90 56.70 438.20 55.08 438.50 56.45 438.80 54.95 439.10 57.19 439.40 55.52 439.70 55.77 440.00 54.73 440.30 55.73 440.60 55.09 440.90 56.80 441.20 54.59 441.50 55.94 441.80 55.49 442.10 57.22 442.40 56.33 442.70 56.02 443.00 54.59 443.30 54.44 443.60 56.14 443.90 57.21 444.20 54.35 444.50 55.50 444.80 55.32 445.10 54.13 445.40 56.17 445.70 55.62 446.00 55.68 446.30 56.85 446.60 56.14 446.90 54.83 447.20 57.28 447.50 57.15 447.80 56.35 448.10 54.41 448.40 56.14 448.70 53.99 449.00 54.95 449.30 55.45 449.60 55.53 449.90 56.64 450.20 55.85 450.50 56.15 450.80 55.47 451.10 56.42 451.40 54.56 451.70 56.97 452.00 56.77 452.30 57.01 452.60 57.14 452.90 56.56 453.20 54.88 453.50 56.99 453.80 56.64 454.10 55.48 454.40 54.20 454.70 57.17 455.00 54.58 455.30 54.44 455.60 55.73 455.90 56.76 456.20 54.75 456.50 54.53 456.80 56.49 457.10 55.74 457.40 55.74 457.70 55.82 458.00 56.66 458.30 56.69 458.60 55.07 458.90 55.53 459.20 57.81 459.50 57.39 459.80 56.51 460.10 55.88 460.40 57.98 460.70 56.01 461.00 56.79 461.30 57.44 461.60 58.23 461.90 58.22 462.20 58.35 462.50 56.92 462.80 57.57 463.10 59.17 463.40 58.78 463.70 60.12 464.00 57.46 464.30 60.76 464.60 59.30 464.90 58.82 465.20 58.48M465.50 46.62 465.80 46.51 466.10 45.76 466.40 46.35 466.70 45.84 467.00 44.37 467.30 43.49 467.60 44.61 467.90 43.53 468.20 43.20 468.50 44.49 468.80 44.48 469.10 45.83 469.40 45.15 469.70 42.42 470.00 42.88 470.30 44.14 470.60 44.58 470.90 45.48 471.20 43.96 471.50 43.67 471.80 42.10 472.10 43.53 472.40 44.97 472.70 42.22 473.00 43.79 473.30 45.23 473.60 45.25 473.90 42.02 474.20 43.00 474.50 42.60 474.80 45.27 475.10 44.63 475.40 42.81 475.70 43.20 476.00 44.17 476.30 41.94 476.60 42.41 476.90 44.52 477.20 42.86 477.50 42.61 477.80 44.88 478.10 44.21 478.40 44.65 478.70 44.37 479.00 43.43 479.30 42.29 479.60 44.00 479.90 43.48 480.20 44.07 480.50 43.86 480.80 44.23 481.10 41.71 481.40 42.05 481.70 44.47 482.00 43.78 482.30 44.37 482.60 41.59 482.90 43.15 483.20 41.39 483.50 41.86 483.80 41.46 484.10 41.92 484.40 42.13 484.70 41.47 485.00 43.41 485.30 43.17 485.60 43.49 485.90 44.45 486.20 42.06 486.50 41.91 486.80 42.09 487.10 43.80 487.40 43.23 487.70 43.54 488.00 41.76 488.30 41.39 488.60 42.52 488.90 43.96 489.20 41.75 489.50 43.43 489.80 43.20 490.10 42.04 490.40 43.15 490.70 43.87 491.00 41.44 491.30 41.58 491.60 42.00 491.90 41.32 492.20 41.98 492.50 43.09 492.80 43.48 493.10 42.81 493.40 42.37 493.70 43.63 494.00 41.11 494.30 42.82 494.60 41.72 494.90 43.59 495.20 41.04 495.50 41.22 495.80 40.72 496.10 41.85 496.40 42.64 496.70 41.29 497.00 43.35 497.30 43.02 497.60 41.22 497.90 42.35 498.20 42.53 498.50 40.76 498.80 42.51 499.10 42.43 499.40 43.26 499.70 41.31 500.00 40.77 500.30 42.15 500.60 43.22 500.90 40.71 501.20 41.00 501.50 40.66 501.80 43.66 502.10 42.89 502.40 40.62 502.70 43.18 503.00 41.79 503.30 40.38 503.60 40.51 503.90 41.14 504.20 40.43 504.50 40.87 504.80 40.52 505.10 40.78 505.40 40.64 505.70 41.74 506.00 43.11 506.30 42.96 506.60 42.10 506.90 40.51 507.20 43.52 507.50 40.52 507.80 40.34 508.10 42.85 508.40 42.43 508.70 42.88 509.00 41.23 509.30 43.34 509.60 43.26 509.90 40.45 510.20 43.55 510.50 42.91 510.80 43.20 511.10 41.93 511.40 43.00 511.70 43.40 512.00 43.35 512.30 41.24 512.60 40.88 512.90 42.50 513.20 41.81 513.50 43.22 513.80 41.83 514.10 40.84 514.40 41.58 514.70 43.57 515.00 42.67 515.30 40.87 515.60 40.94 515.90 41.61 516.20 43.50 516.50 42.06 516.80 41.22 517.10 41.02 517.40 41.14 517.70 42.12 518.00 41.02M518.30 55.91 518.60 58.36 518.90 57.80 519.20 57.61 519.50 56.47 519.80 57.04 520.10 58.61 520.40 56.53 520.70 57.12 521.00 55.99 521.30 57.00 521.60 55.97 521.90 58.31 522.20 59.10 522.50 55.98 522.80 56.96 523.10 58.98 523.40 56.17 523.70 58.52 524.00 56.15 524.30 57.36 524.60 58.47 524.90 58.50 525.20 58.56 525.50 56.94 525.80 57.69 526.10 56.30 526.40 59.25 526.70 58.38 527.00 57.24 527.30 57.59 527.60 57.91 527.90 57.15 528.20 57.07 528.50 59.04 528.80 56.51 529.10 59.21 529.40 57.86 529.70 57.57 530.00 57.62 530.30 56.08 530.60 57.15 530.90 57.62 531.20 56.23 531.50 56.12 531.80 56.11 532.10 58.21 532.40 56.14 532.70 59.37 533.00 58.27 533.30 58.59 533.60 56.31 533.90 57.90 534.20 56.89 534.50 59.33 534.80 57.42 535.10 56.90 535.40 57.70 535.70 57.35 536.00 56.75 536.30 58.92 536.60 57.02 536.90 59.38 537.20 58.81 537.50 59.25 537.80 58.81 538.10 59.35 538.40 59.61 538.70 56.40 539.00 57.26 539.30 59.47" fill="none" stroke="#0a850a" stroke-width="0.5" stroke-linejoin="round"/>
<path d="M438.97 55.88v-2.05M521.73 57.39v-2.86M420.69 56.27v2.49M394.16 42.54v-2.35M502.19 42.00v-1.93M376.90 44.33v2.10M408.60 41.81v-2.11M500.82 42.00v2.82M404.88 41.58v2.37M463.23 58.40v2.36M352.36 61.36v2.32M365.18 46.16v-2.19M534.65 57.91v-2.54M361.53 46.32v2.31M355.22 61.81v2.42M322.55 56.99v2.58M335.91 60.24v2.51M406.88 41.70v-1.99M454.52 55.56v-2.80M512.96 42.00v1.99M536.30 57.97v2.42M397.12 41.88v2.81M428.25 56.11v-2.88M407.54 41.75v-2.19M420.86 56.27v2.41M507.06 42.00v2.51M409.98 41.90v2.06M482.55 43.10v2.26M507.41 42.00v2.46M408.87 41.83v-2.03M393.93 42.61v2.63M338.99 59.38v2.90M467.19 44.56v1.80M494.82 42.11v2.90M458.48 55.82v2.34M379.72 43.80v-2.67M473.74 43.68v-2.35M368.21 45.69v2.31M495.97 42.02v-1.89M526.18 57.57v-2.10M390.63 43.65v1.84M451.90 55.62v-2.40M419.04 56.31v-2.53M392.17 43.17v2.24M515.11 42.00v-2.79M388.43 43.96v2.85M493.39 42.23v-2.07M484.69 42.93v-2.16M343.56 60.19v-2.02M501.28 42.00v-2.04M401.56 41.45v-2.55M400.06 41.59v-2.64M416.94 56.35v-2.87M406.98 41.71v2.37M411.70 41.90v2.25M485.02 42.90v-2.84M387.42 43.79v1.86M353.90 61.61v-2.38M485.35 42.88v-2.13M413.44 56.51v-2.60M437.38 55.91v2.16M357.01 62.22v-1.94M467.49 44.50v-2.85M454.00 55.58v2.86M458.91 56.00v-2.82M523.86 57.47v-1.98M335.43 60.13v2.15M433.34 56.00v2.22M329.20 58.27v2.25M399.80 41.62v-2.38M460.51 56.67v-2.70M497.96 42.00v-2.90M379.95 43.76v2.63M516.14 42.00v2.64M521.64 57.38v-2.32M521.59 57.38v-2.13M415.30 56.39v2.87M456.59 55.52v2.23M423.73 56.21v-2.86M333.97 59.80v-2.62M379.25 43.89v2.16M503.26 42.00v-2.03M358.89 62.84v2.59M416.88 56.36v2.54M467.40 44.52v2.43M409.72 41.88v-2.40M447.37 55.71v2.10M443.34 55.79v-2.81M347.33 60.86v2.36M327.61 57.70v2.81M434.14 55.98v2.69M458.51 55.83v2.62M441.58 55.82v1.98M533.53 57.86v1.95M352.59 61.40v-2.20M338.02 59.70v2.85M502.71 42.00v1.94M515.21 42.00v-1.87M532.23 57.81v2.02M515.41 42.00v-2.08M406.46 41.68v2.45M443.86 55.78v-1.94M459.22 56.13v-2.64M444.56 55.76v-2.44M411.43 41.90v-2.46M500.95 42.00v2.71M488.68 42.61v-2.17M325.92 57.10v-2.84M520.27 57.33v-2.31M411.65 41.90v2.52M479.75 43.33v-2.67M532.41 57.82v2.21M462.14 57.68v2.71M377.08 44.29v-1.85M452.43 55.61v2.39M413.75 56.49v2.38M359.08 62.87v-1.90M352.63 61.41v-2.43M487.67 42.69v2.88M413.60 56.50v2.56" fill="none" stroke="#0a850a" stroke-width="0.6"/>
<path d="M359.27 62.88V37.80M412.31 41.90V93.40M465.49 60.05V37.40M518.26 42.00V90.40" fill="none" stroke="#0a850a" stroke-width="0.8"/>
<path d="M318.50 156.06 319.00 156.26 319.50 155.20 320.00 155.82 320.50 156.12 321.00 156.23 321.50 156.07 322.00 156.30 322.50 156.01 323.00 156.10 323.50 156.02 324.00 155.73 324.50 155.80 325.00 156.12 325.50 155.90 326.00 156.38 326.50 156.40 327.00 156.55 327.50 156.11 328.00 156.48 328.50 155.93 329.00 155.97 329.50 156.21 330.00 156.28 330.50 155.82 331.00 155.81 331.50 156.35 332.00 156.06 332.50 156.59 333.00 156.41 333.50 156.40 334.00 156.40 334.50 156.59 335.00 156.34 335.50 156.67 336.00 156.28 336.50 156.38 337.00 156.28 337.50 156.62 338.00 156.50 338.50 156.29 339.00 157.02 339.50 156.45 340.00 156.53 340.50 156.67 341.00 157.03 341.50 156.57 342.00 156.80 342.50 156.67 343.00 156.30 343.50 156.88 344.00 156.95 344.50 156.66 345.00 156.73 345.50 156.37 346.00 156.39 346.50 156.69 347.00 156.96 347.50 156.70 348.00 156.91 348.50 157.10 349.00 156.90 349.50 157.03 350.00 157.27 350.50 156.61 351.00 157.13 351.50 156.49 352.00 157.09 352.50 157.05 353.00 156.88 353.50 156.76 354.00 157.03 354.50 156.96 355.00 157.11 355.50 156.88 356.00 157.26 356.50 156.88 357.00 157.08 357.50 157.07 358.00 157.51 358.50 156.89 359.00 157.30 359.50 157.84M360.00 161.13 360.50 160.97 361.00 161.33 361.50 161.18 362.00 161.44 362.50 160.99 363.00 161.25 363.50 161.35 364.00 161.43 364.50 160.88 365.00 161.50 365.50 160.90 366.00 160.74 366.50 160.86 367.00 161.12 367.50 160.99 368.00 161.16 368.50 161.16 369.00 161.10 369.50 160.95 370.00 161.45 370.50 160.43 371.00 160.53 371.50 160.82 372.00 160.62 372.50 160.28 373.00 160.71 373.50 160.70 374.00 160.26 374.50 161.08 375.00 161.17 375.50 161.14 376.00 160.69 376.50 160.84 377.00 160.51 377.50 160.82 378.00 160.59 378.50 160.85 379.00 160.64 379.50 160.97 380.00 160.91 380.50 160.99 381.00 160.27 381.50 160.20 382.00 160.74 382.50 160.48 383.00 160.71 383.50 160.67 384.00 160.62 384.50 160.79 385.00 160.69 385.50 160.65 386.00 160.30 386.50 160.94 387.00 160.52 387.50 160.75 388.00 160.54 388.50 160.76 389.00 160.47 389.50 160.47 390.00 160.44 390.50 160.21 391.00 160.23 391.50 160.32 392.00 160.31 392.50 160.08 393.00 160.90 393.50 160.05 394.00 160.21 394.50 160.88 395.00 160.09 395.50 160.43 396.00 160.39 396.50 160.16 397.00 159.84 397.50 159.79 398.00 160.16 398.50 160.25 399.00 159.60 399.50 160.16 400.00 159.94 400.50 160.31 401.00 160.12 401.50 159.86 402.00 159.94 402.50 160.04 403.00 160.35 403.50 160.76 404.00 160.08 404.50 160.00 405.00 160.13 405.50 159.95 406.00 160.10 406.50 160.03 407.00 159.92 407.50 159.71 408.00 159.94 408.50 160.12 409.00 159.90 409.50 160.25 410.00 160.10 410.50 159.82 411.00 160.28 411.50 159.56 412.00 160.12M412.50 156.09 413.00 155.55 413.50 155.58 414.00 155.83 414.50 155.94 415.00 155.69 415.50 155.63 416.00 155.79 416.50 155.61 417.00 155.24 417.50 155.48 418.00 155.52 418.50 155.14 419.00 155.60 419.50 155.31 420.00 155.67 420.50 155.10 421.00 155.24 421.50 155.09 422.00 155.76 422.50 155.75 423.00 155.79 423.50 155.78 424.00 155.63 424.50 155.62 425.00 154.96 425.50 155.46 426.00 155.24 426.50 155.28 427.00 155.04 427.50 155.67 428.00 155.37 428.50 154.96 429.00 155.47 429.50 155.33 430.00 155.09 430.50 155.28 431.00 155.16 431.50 154.79 432.00 154.98 432.50 155.50 433.00 155.46 433.50 155.44 434.00 155.09 434.50 155.24 435.00 155.41 435.50 155.57 436.00 155.19 436.50 155.15 437.00 155.70 437.50 155.44 438.00 155.34 438.50 155.25 439.00 155.28 439.50 155.85 440.00 155.70 440.50 155.36 441.00 155.16 441.50 155.89 442.00 155.88 442.50 155.79 443.00 155.71 443.50 155.03 444.00 155.19 444.50 155.66 445.00 155.45 445.50 155.59 446.00 155.40 446.50 155.38 447.00 155.69 447.50 155.45 448.00 155.56 448.50 155.63 449.00 155.63 449.50 155.87 450.00 155.93 450.50 155.25 451.00 155.53 451.50 155.44 452.00 155.80 452.50 155.35 453.00 155.82 453.50 155.81 454.00 155.78 454.50 155.40 455.00 155.60 455.50 155.39 456.00 155.76 456.50 155.91 457.00 155.30 457.50 155.48 458.00 155.65 458.50 155.56 459.00 156.14 459.50 155.83 460.00 156.02 460.50 155.77 461.00 156.53 461.50 156.27 462.00 156.52 462.50 156.44 463.00 155.98 463.50 156.21 464.00 156.40 464.50 156.95 465.00 156.83M465.50 161.00 466.00 160.96 466.50 160.94 467.00 161.09 467.50 160.90 468.00 160.43 468.50 160.66 469.00 161.24 469.50 160.54 470.00 161.14 470.50 161.20 471.00 160.63 471.50 160.86 472.00 160.41 472.50 160.94 473.00 160.54 473.50 160.40 474.00 160.62 474.50 160.59 475.00 160.55 475.50 160.73 476.00 160.63 476.50 160.50 477.00 160.89 477.50 161.25 478.00 160.65 478.50 160.45 479.00 160.36 479.50 160.75 480.00 160.53 480.50 160.58 481.00 160.07 481.50 160.28 482.00 160.26 482.50 160.77 483.00 160.46 483.50 159.90 484.00 160.63 484.50 160.78 485.00 160.81 485.50 159.78 486.00 160.50 486.50 160.66 487.00 160.60 487.50 160.37 488.00 159.97 488.50 160.30 489.00 160.32 489.50 160.54 490.00 160.54 490.50 160.31 491.00 160.57 491.50 160.09 492.00 160.17 492.50 160.32 493.00 160.46 493.50 160.23 494.00 160.61 494.50 160.39 495.00 160.04 495.50 160.29 496.00 160.03 496.50 160.00 497.00 159.88 497.50 160.57 498.00 160.44 498.50 159.80 499.00 160.47 499.50 160.42 500.00 160.08 500.50 160.29 501.00 160.71 501.50 160.21 502.00 160.24 502.50 160.40 503.00 159.85 503.50 159.78 504.00 159.74 504.50 160.06 505.00 160.29 505.50 159.84 506.00 159.70 506.50 160.09 507.00 159.94 507.50 160.17 508.00 159.98 508.50 159.96 509.00 159.97 509.50 159.99 510.00 159.73 510.50 159.68 511.00 160.35 511.50 160.71 512.00 160.21 512.50 159.51 513.00 159.92 513.50 160.20 514.00 159.49 514.50 159.76 515.00 159.77 515.50 159.64 516.00 159.65 516.50 160.10 517.00 159.72 517.50 159.77 518.00 160.25M518.50 155.30 519.00 155.04 519.50 155.68 520.00 156.03 520.50 155.58 521.00 155.60 521.50 155.21 522.00 155.30 522.50 155.90 523.00 155.85 523.50 155.69 524.00 155.38 524.50 155.24 525.00 155.28 525.50 155.25 526.00 155.70 526.50 155.35 527.00 155.43 527.50 155.72 528.00 155.72 528.50 155.57 529.00 155.68 529.50 155.56 530.00 155.07 530.50 155.54 531.00 155.46 531.50 155.47 532.00 155.63 532.50 155.43 533.00 155.88 533.50 155.53 534.00 155.62 534.50 155.66 535.00 155.54 535.50 155.74 536.00 155.77 536.50 155.74 537.00 155.41 537.50 155.36 538.00 155.44 538.50 155.59 539.00 155.13 539.50 155.38" fill="none" stroke="#14bdbf" stroke-width="2.1" stroke-linejoin="round"/>
<path d="M318.50 156.74 318.80 155.95 319.10 156.01 319.40 155.96 319.70 155.16 320.00 156.84 320.30 156.05 320.60 156.23 320.90 156.51 321.20 155.88 321.50 155.40 321.80 156.79 322.10 155.28 322.40 155.67 322.70 156.35 323.00 155.84 323.30 156.16 323.60 155.42 323.90 156.68 324.20 156.73 324.50 155.89 324.80 156.85 325.10 156.77 325.40 156.34 325.70 155.51 326.00 155.13 326.30 156.94 326.60 156.94 326.90 156.32 327.20 156.18 327.50 156.58 327.80 155.92 328.10 155.78 328.40 155.84 328.70 155.85 329.00 156.25 329.30 155.21 329.60 155.64 329.90 156.33 330.20 156.98 330.50 156.27 330.80 155.79 331.10 157.13 331.40 156.96 331.70 155.80 332.00 157.26 332.30 156.68 332.60 155.81 332.90 156.53 333.20 155.97 333.50 157.18 333.80 156.57 334.10 155.45 334.40 156.39 334.70 156.46 335.00 157.02 335.30 157.28 335.60 156.76 335.90 156.57 336.20 156.49 336.50 155.78 336.80 156.92 337.10 156.46 337.40 156.26 337.70 156.98 338.00 156.20 338.30 156.91 338.60 156.16 338.90 155.90 339.20 156.65 339.50 157.37 339.80 155.93 340.10 155.86 340.40 156.21 340.70 157.30 341.00 156.51 341.30 156.36 341.60 156.35 341.90 156.28 342.20 156.73 342.50 156.46 342.80 155.95 343.10 157.14 343.40 155.98 343.70 156.78 344.00 156.67 344.30 155.74 344.60 156.21 344.90 157.33 345.20 157.42 345.50 157.47 345.80 156.04 346.10 157.26 346.40 156.48 346.70 156.25 347.00 156.19 347.30 157.57 347.60 157.78 347.90 156.94 348.20 157.73 348.50 156.13 348.80 155.88 349.10 156.80 349.40 157.67 349.70 156.92 350.00 156.43 350.30 157.76 350.60 157.22 350.90 156.63 351.20 157.11 351.50 157.26 351.80 156.13 352.10 157.08 352.40 157.20 352.70 156.17 353.00 156.37 353.30 156.09 353.60 156.48 353.90 156.11 354.20 157.23 354.50 157.70 354.80 156.29 355.10 157.84 355.40 156.58 355.70 156.11 356.00 156.96 356.30 156.73 356.60 156.85 356.90 156.79 357.20 157.72 357.50 156.91 357.80 157.86 358.10 157.54 358.40 157.60 358.70 157.86 359.00 156.75 359.30 158.34 359.60 157.72M359.90 160.33 360.20 160.68 360.50 162.10 360.80 161.54 361.10 160.27 361.40 160.45 361.70 162.16 362.00 160.66 362.30 161.12 362.60 161.34 362.90 160.23 363.20 161.04 363.50 161.34 363.80 160.26 364.10 161.15 364.40 161.71 364.70 161.47 365.00 160.56 365.30 161.02 365.60 160.49 365.90 160.92 366.20 160.81 366.50 160.96 366.80 161.54 367.10 160.45 367.40 161.94 367.70 161.60 368.00 161.96 368.30 160.77 368.60 161.29 368.90 161.37 369.20 161.95 369.50 161.40 369.80 161.03 370.10 160.30 370.40 161.56 370.70 161.81 371.00 161.26 371.30 161.02 371.60 159.98 371.90 161.92 372.20 161.61 372.50 161.19 372.80 160.92 373.10 161.33 373.40 161.61 373.70 160.58 374.00 160.18 374.30 160.59 374.60 160.12 374.90 160.77 375.20 161.34 375.50 160.59 375.80 160.75 376.10 160.17 376.40 161.75 376.70 160.18 377.00 161.59 377.30 160.30 377.60 161.56 377.90 160.07 378.20 160.98 378.50 160.91 378.80 160.05 379.10 160.93 379.40 160.78 379.70 161.48 380.00 159.88 380.30 160.67 380.60 159.73 380.90 161.34 381.20 159.78 381.50 161.37 381.80 161.10 382.10 161.50 382.40 160.72 382.70 159.83 383.00 161.07 383.30 159.68 383.60 159.83 383.90 160.20 384.20 160.65 384.50 159.76 384.80 160.59 385.10 159.95 385.40 160.10 385.70 161.39 386.00 160.63 386.30 161.50 386.60 160.92 386.90 160.27 387.20 161.15 387.50 160.83 387.80 160.00 388.10 160.06 388.40 160.14 388.70 160.22 389.00 161.28 389.30 161.24 389.60 159.53 389.90 160.27 390.20 159.72 390.50 161.02 390.80 160.40 391.10 160.25 391.40 160.87 391.70 161.06 392.00 159.36 392.30 159.65 392.60 159.48 392.90 161.20 393.20 160.01 393.50 159.95 393.80 159.91 394.10 159.61 394.40 159.66 394.70 159.99 395.00 161.06 395.30 160.04 395.60 159.38 395.90 159.94 396.20 160.05 396.50 160.80 396.80 160.60 397.10 160.27 397.40 159.80 397.70 159.40 398.00 159.55 398.30 159.86 398.60 160.89 398.90 159.17 399.20 159.94 399.50 160.44 399.80 159.31 400.10 160.08 400.40 160.69 400.70 160.20 401.00 159.77 401.30 160.88 401.60 160.08 401.90 160.20 402.20 159.71 402.50 160.58 402.80 159.71 403.10 160.15 403.40 159.85 403.70 159.83 404.00 159.43 404.30 159.54 404.60 160.01 404.90 160.06 405.20 159.39 405.50 160.25 405.80 160.73 406.10 160.20 406.40 160.13 406.70 160.56 407.00 160.11 407.30 159.40 407.60 159.13 407.90 159.45 408.20 159.82 408.50 159.49 408.80 159.20 409.10 160.73 409.40 160.60 409.70 159.11 410.00 159.77 410.30 160.82 410.60 160.66 410.90 159.36 411.20 159.21 411.50 159.24 411.80 158.82 412.10 160.43M412.40 156.36 412.70 154.64 413.00 156.39 413.30 155.16 413.60 155.28 413.90 155.94 414.20 154.72 414.50 156.14 414.80 154.92 415.10 154.69 415.40 155.22 415.70 154.96 416.00 155.26 416.30 154.66 416.60 155.33 416.90 155.95 417.20 155.23 417.50 155.41 417.80 155.13 418.10 154.87 418.40 156.18 418.70 155.69 419.00 155.91 419.30 155.51 419.60 155.69 419.90 155.28 420.20 155.44 420.50 155.66 420.80 155.09 421.10 155.14 421.40 154.58 421.70 156.00 422.00 154.68 422.30 155.38 422.60 155.09 422.90 154.58 423.20 155.24 423.50 155.46 423.80 155.82 424.10 154.57 424.40 155.14 424.70 156.28 425.00 155.38 425.30 155.26 425.60 155.36 425.90 154.54 426.20 156.23 426.50 154.72 426.80 155.68 427.10 154.70 427.40 155.45 427.70 154.48 428.00 154.63 428.30 155.69 428.60 154.55 428.90 155.39 429.20 155.53 429.50 155.75 429.80 155.96 430.10 155.79 430.40 155.57 430.70 155.10 431.00 155.72 431.30 154.78 431.60 154.90 431.90 154.89 432.20 154.92 432.50 155.01 432.80 155.72 433.10 156.30 433.40 155.52 433.70 156.21 434.00 155.45 434.30 155.52 434.60 155.32 434.90 154.63 435.20 155.89 435.50 154.87 435.80 155.06 436.10 154.41 436.40 155.12 436.70 155.39 437.00 154.97 437.30 154.84 437.60 155.66 437.90 155.61 438.20 155.56 438.50 155.14 438.80 154.96 439.10 155.42 439.40 155.00 439.70 154.86 440.00 155.73 440.30 155.21 440.60 154.63 440.90 156.27 441.20 155.12 441.50 155.16 441.80 155.45 442.10 156.00 442.40 155.86 442.70 154.84 443.00 155.78 443.30 155.28 443.60 156.13 443.90 156.47 444.20 156.45 444.50 155.89 444.80 155.43 445.10 156.08 445.40 156.33 445.70 155.38 446.00 154.90 446.30 155.07 446.60 155.27 446.90 155.26 447.20 155.47 447.50 155.10 447.80 155.70 448.10 154.83 448.40 155.72 448.70 155.11 449.00 155.70 449.30 155.03 449.60 155.75 449.90 155.42 450.20 156.37 450.50 154.94 450.80 155.35 451.10 155.40 451.40 155.35 451.70 155.32 452.00 155.83 452.30 154.64 452.60 155.40 452.90 155.43 453.20 156.36 453.50 156.55 453.80 156.27 454.10 156.33 454.40 156.62 454.70 156.64 455.00 155.93 455.30 154.78 455.60 156.39 455.90 155.65 456.20 154.73 456.50 154.99 456.80 155.77 457.10 156.10 457.40 156.61 457.70 156.32 458.00 156.47 458.30 154.81 458.60 155.57 458.90 156.36 459.20 156.43 459.50 155.27 459.80 156.08 460.10 155.46 460.40 155.32 460.70 156.75 461.00 155.90 461.30 156.99 461.60 155.33 461.90 157.16 462.20 156.98 462.50 156.37 462.80 156.53 463.10 156.09 463.40 156.62 463.70 157.11 464.00 157.11 464.30 156.94 464.60 156.13 464.90 156.49M465.20 157.96 465.50 160.65 465.80 160.67 466.10 160.69 466.40 161.58 466.70 160.65 467.00 161.00 467.30 160.65 467.60 160.28 467.90 160.45 468.20 160.29 468.50 161.43 468.80 161.82 469.10 161.36 469.40 160.83 469.70 161.00 470.00 160.81 470.30 161.50 470.60 160.06 470.90 159.87 471.20 161.21 471.50 160.69 471.80 161.26 472.10 161.60 472.40 160.13 472.70 161.26 473.00 161.20 473.30 160.99 473.60 160.50 473.90 160.92 474.20 160.77 474.50 159.88 474.80 160.84 475.10 159.70 475.40 160.33 475.70 161.03 476.00 161.49 476.30 161.44 476.60 160.32 476.90 159.66 477.20 161.47 477.50 159.86 477.80 161.01 478.10 160.05 478.40 161.30 478.70 159.81 479.00 161.50 479.30 159.83 479.60 160.82 479.90 161.31 480.20 159.91 480.50 160.41 480.80 160.16 481.10 161.44 481.40 160.77 481.70 161.36 482.00 161.52 482.30 160.67 482.60 161.14 482.90 160.54 483.20 160.37 483.50 161.47 483.80 160.25 484.10 160.28 484.40 160.18 484.70 159.94 485.00 160.18 485.30 160.03 485.60 161.20 485.90 160.97 486.20 160.58 486.50 161.08 486.80 160.94 487.10 161.33 487.40 159.75 487.70 160.03 488.00 161.15 488.30 160.12 488.60 159.42 488.90 159.89 489.20 159.74 489.50 160.68 489.80 161.15 490.10 160.24 490.40 160.43 490.70 160.09 491.00 159.87 491.30 159.49 491.60 161.32 491.90 160.24 492.20 160.78 492.50 160.54 492.80 161.26 493.10 161.04 493.40 160.83 493.70 159.99 494.00 161.28 494.30 159.60 494.60 160.47 494.90 160.27 495.20 159.37 495.50 160.90 495.80 159.67 496.10 160.25 496.40 160.21 496.70 159.92 497.00 159.97 497.30 160.78 497.60 161.08 497.90 160.56 498.20 160.27 498.50 159.58 498.80 159.25 499.10 160.45 499.40 160.67 499.70 160.87 500.00 159.80 500.30 160.35 500.60 159.89 500.90 159.38 501.20 160.65 501.50 161.00 501.80 160.02 502.10 160.63 502.40 160.82 502.70 159.24 503.00 160.40 503.30 159.76 503.60 159.88 503.90 160.67 504.20 159.66 504.50 160.82 504.80 160.70 505.10 159.11 505.40 159.44 505.70 161.01 506.00 159.70 506.30 160.92 506.60 160.43 506.90 160.03 507.20 159.73 507.50 160.13 507.80 160.07 508.10 159.41 508.40 160.60 508.70 160.92 509.00 159.00 509.30 160.65 509.60 160.92 509.90 160.22 510.20 159.80 510.50 159.34 510.80 159.40 511.10 160.89 511.40 159.17 511.70 160.33 512.00 160.10 512.30 159.91 512.60 160.02 512.90 160.82 513.20 160.02 513.50 159.98 513.80 160.14 514.10 160.24 514.40 159.98 514.70 160.42 515.00 160.79 515.30 160.26 515.60 160.65 515.90 159.16 516.20 159.81 516.50 159.75 516.80 160.46 517.10 159.48 517.40 159.48 517.70 159.78 518.00 159.24M518.30 155.44 518.60 155.71 518.90 155.01 519.20 154.90 519.50 156.00 519.80 156.23 520.10 155.74 520.40 155.93 520.70 154.71 521.00 155.82 521.30 155.61 521.60 154.53 521.90 155.08 522.20 156.29 522.50 155.04 522.80 154.94 523.10 155.65 523.40 154.79 523.70 155.35 524.00 155.97 524.30 154.91 524.60 155.47 524.90 154.67 525.20 155.24 525.50 156.33 525.80 155.59 526.10 156.22 526.40 155.79 526.70 155.31 527.00 155.87 527.30 156.14 527.60 155.59 527.90 155.80 528.20 156.37 528.50 155.07 528.80 155.88 529.10 155.99 529.40 156.35 529.70 155.49 530.00 156.22 530.30 156.07 530.60 155.61 530.90 155.06 531.20 155.35 531.50 155.79 531.80 155.60 532.10 156.14 532.40 155.98 532.70 155.63 533.00 156.38 533.30 155.32 533.60 155.80 533.90 155.14 534.20 156.45 534.50 156.20 534.80 154.91 535.10 156.49 535.40 155.91 535.70 155.36 536.00 154.99 536.30 155.28 536.60 155.76 536.90 156.08 537.20 155.84 537.50 155.43 537.80 156.15 538.10 155.85 538.40 155.93 538.70 155.15 539.00 155.44 539.30 154.95" fill="none" stroke="#14bdbf" stroke-width="0.5" stroke-linejoin="round"/>
<path d="M359.72 157.57V169.00M412.27 159.80V146.60M412.27 159.80V167.80M465.22 156.97V167.60M518.17 159.80V147.60M518.17 159.80V167.60" fill="none" stroke="#14bdbf" stroke-width="0.9"/>
<path d="M318.50 286.50 319.00 286.57 319.50 286.43 320.00 286.28 320.50 286.39 321.00 286.25 321.50 286.52 322.00 286.84 322.50 286.38 323.00 286.34 323.50 286.62 324.00 286.59 324.50 286.53 325.00 286.27 325.50 286.49 326.00 286.67 326.50 286.16 327.00 286.39 327.50 286.02M328.00 288.98 328.50 288.85 329.00 289.27 329.50 289.02 330.00 289.42 330.50 289.40 331.00 289.33 331.50 288.75 332.00 289.26 332.50 289.39 333.00 289.45 333.50 289.05 334.00 289.32 334.50 289.21 335.00 289.26 335.50 289.74 336.00 289.29 336.50 289.49 337.00 289.73 337.50 289.38 338.00 289.51 338.50 289.57 339.00 289.57 339.50 289.26 340.00 289.60 340.50 289.93 341.00 289.22 341.50 289.83 342.00 289.66 342.50 289.48 343.00 290.15 343.50 289.85 344.00 289.37 344.50 289.70 345.00 289.84 345.50 289.66 346.00 289.89 346.50 289.71 347.00 289.91 347.50 290.11 348.00 289.60 348.50 289.83 349.00 289.67 349.50 289.83 350.00 289.51 350.50 289.68 351.00 289.78 351.50 290.07 352.00 290.14 352.50 289.54 353.00 289.68 353.50 290.05 354.00 289.49 354.50 290.18 355.00 290.58 355.50 291.23 356.00 291.85 356.50 292.50 357.00 291.35 357.50 290.40 358.00 290.65 358.50 289.98 359.00 289.92 359.50 290.09M360.00 278.27 360.50 278.24 361.00 278.00 361.50 278.27 362.00 278.16 362.50 278.55 363.00 278.42 363.50 278.24 364.00 278.40 364.50 278.14 365.00 278.49 365.50 278.21 366.00 278.35 366.50 277.88 367.00 278.28 367.50 277.76 368.00 277.67 368.50 278.09 369.00 277.94 369.50 278.20 370.00 278.71 370.50 277.93 371.00 277.98 371.50 278.18 372.00 278.24 372.50 278.07 373.00 278.05 373.50 278.24 374.00 278.11 374.50 277.63 375.00 277.78 375.50 277.72 376.00 277.36 376.50 277.60 377.00 277.24 377.50 277.61 378.00 275.45 378.50 275.42 379.00 275.25 379.50 275.37 380.00 274.90 380.50 275.12 381.00 275.65 381.50 275.48 382.00 276.19 382.50 275.16 383.00 275.41 383.50 274.99 384.00 275.39 384.50 275.23 385.00 274.82 385.50 275.51 386.00 275.56 386.50 275.18 387.00 275.13 387.50 275.27 388.00 276.20 388.50 277.85 389.00 276.91 389.50 275.49 390.00 274.76 390.50 274.74 391.00 274.52 391.50 275.09 392.00 274.68 392.50 274.90 393.00 274.60 393.50 274.36 394.00 274.39 394.50 274.27 395.00 274.35 395.50 274.21 396.00 274.23 396.50 273.96 397.00 274.11 397.50 274.73 398.00 274.15 398.50 274.05 399.00 274.41 399.50 274.68 400.00 273.96 400.50 274.28 401.00 274.17 401.50 273.90 402.00 274.52 402.50 274.34 403.00 274.36 403.50 274.16 404.00 274.46 404.50 274.22 405.00 274.32 405.50 274.08 406.00 274.06 406.50 274.70 407.00 274.24 407.50 274.44 408.00 274.36 408.50 274.27 409.00 274.25 409.50 274.54 410.00 274.31 410.50 274.35 411.00 274.40 411.50 274.69 412.00 274.57 412.50 274.49M413.00 285.86 413.50 285.65 414.00 286.23 414.50 286.22 415.00 285.94 415.50 286.11 416.00 286.16 416.50 286.17 417.00 286.19 417.50 285.84 418.00 286.33 418.50 285.63 419.00 286.16 419.50 286.06 420.00 286.15 420.50 286.40 421.00 286.29 421.50 285.63 422.00 285.49 422.50 286.11 423.00 285.65 423.50 285.90 424.00 286.11 424.50 285.48 425.00 285.36 425.50 285.95 426.00 285.89 426.50 285.81 427.00 285.88 427.50 285.65 428.00 285.48 428.50 285.81 429.00 285.61 429.50 285.43 430.00 285.97 430.50 285.82 431.00 285.93 431.50 285.58 432.00 285.66 432.50 285.57 433.00 285.59 433.50 285.86 434.00 285.61 434.50 285.89 435.00 285.88 435.50 286.30 436.00 285.44 436.50 286.00 437.00 285.75 437.50 285.77 438.00 285.41 438.50 285.65 439.00 285.94 439.50 285.73 440.00 285.77 440.50 285.67 441.00 286.03 441.50 285.73 442.00 285.18 442.50 285.55 443.00 285.23 443.50 284.90 444.00 285.58 444.50 286.04 445.00 285.72 445.50 285.41 446.00 285.46 446.50 285.98 447.00 285.74 447.50 285.71 448.00 285.69 448.50 285.71 449.00 285.90 449.50 285.84 450.00 285.75 450.50 285.44 451.00 285.83 451.50 285.53 452.00 285.97 452.50 285.38 453.00 285.67 453.50 285.70 454.00 285.37 454.50 286.13 455.00 286.07 455.50 285.58 456.00 285.89 456.50 285.79 457.00 285.05 457.50 285.76 458.00 285.68 458.50 285.72 459.00 285.43 459.50 285.63 460.00 285.66 460.50 286.10 461.00 286.34 461.50 286.71 462.00 287.55 462.50 287.48 463.00 287.97 463.50 288.07 464.00 289.37 464.50 289.67 465.00 289.82M465.50 280.84 466.00 277.82 466.50 277.33 467.00 276.69 467.50 276.18 468.00 275.73 468.50 275.58 469.00 275.11 469.50 274.91 470.00 274.73 470.50 274.66 471.00 275.18 471.50 274.85 472.00 274.69 472.50 274.54 473.00 274.30 473.50 274.51 474.00 274.70 474.50 274.33 475.00 274.33 475.50 274.28 476.00 274.33 476.50 273.90 477.00 274.24 477.50 274.08 478.00 274.52 478.50 274.10 479.00 274.44 479.50 274.67 480.00 274.21 480.50 274.14 481.00 274.34 481.50 274.29 482.00 274.04 482.50 274.40 483.00 274.79 483.50 274.22 484.00 274.23 484.50 274.02 485.00 274.36 485.50 273.97 486.00 274.00 486.50 274.59 487.00 274.05 487.50 274.54 488.00 274.65 488.50 274.33 489.00 274.41 489.50 274.76 490.00 274.22 490.50 274.12 491.00 273.93 491.50 274.27 492.00 274.63 492.50 274.50 493.00 274.02 493.50 274.04 494.00 274.13 494.50 274.33 495.00 274.20 495.50 274.31 496.00 274.33 496.50 274.18 497.00 274.24 497.50 274.30 498.00 274.23 498.50 274.37 499.00 274.71 499.50 274.39 500.00 274.26 500.50 273.82 501.00 274.34 501.50 273.75 502.00 273.89 502.50 274.45 503.00 274.41 503.50 274.20 504.00 273.81 504.50 274.14 505.00 274.06 505.50 274.39 506.00 274.79 506.50 274.28 507.00 274.03 507.50 273.93 508.00 274.21 508.50 274.18 509.00 273.93 509.50 274.25 510.00 273.93 510.50 274.50 511.00 274.48 511.50 274.49 512.00 274.10 512.50 274.34 513.00 274.18 513.50 274.11 514.00 274.12 514.50 273.88 515.00 273.85 515.50 274.40 516.00 274.16 516.50 274.26 517.00 274.45 517.50 273.77 518.00 274.00M518.50 286.06 519.00 286.14 519.50 285.96 520.00 286.34 520.50 286.15 521.00 285.82 521.50 285.91 522.00 286.37 522.50 286.30 523.00 285.73 523.50 286.56 524.00 286.40 524.50 286.60 525.00 286.19 525.50 286.24 526.00 286.05 526.50 286.99 527.00 286.33 527.50 286.79 528.00 286.25 528.50 286.48 529.00 286.04 529.50 286.38 530.00 286.75 530.50 286.21 531.00 286.81 531.50 286.65 532.00 286.32 532.50 286.48 533.00 286.51 533.50 286.64 534.00 286.53 534.50 286.48 535.00 286.63 535.50 286.47 536.00 286.43 536.50 286.76 537.00 287.02 537.50 286.43 538.00 286.84 538.50 286.70 539.00 286.63 539.50 287.11" fill="none" stroke="#2eaaee" stroke-width="2.5" stroke-linejoin="round"/>
<path d="M318.50 286.42 318.80 286.76 319.10 287.20 319.40 286.89 319.70 286.81 320.00 286.29 320.30 286.63 320.60 286.27 320.90 287.04 321.20 286.24 321.50 286.43 321.80 287.06 322.10 286.51 322.40 286.14 322.70 287.22 323.00 286.24 323.30 287.26 323.60 287.13 323.90 286.38 324.20 286.97 324.50 285.48 324.80 286.26 325.10 287.29 325.40 286.67 325.70 286.63 326.00 286.86 326.30 286.89 326.60 286.68 326.90 286.33 327.20 285.80 327.50 286.04M327.80 287.73 328.10 289.15 328.40 290.41 328.70 288.99 329.00 289.21 329.30 289.05 329.60 289.52 329.90 290.33 330.20 290.21 330.50 289.09 330.80 288.85 331.10 290.22 331.40 289.37 331.70 289.80 332.00 288.46 332.30 290.21 332.60 289.00 332.90 289.40 333.20 288.76 333.50 289.25 333.80 290.16 334.10 290.16 334.40 289.39 334.70 290.05 335.00 289.37 335.30 289.19 335.60 289.58 335.90 288.83 336.20 289.09 336.50 289.95 336.80 290.10 337.10 288.54 337.40 290.03 337.70 290.23 338.00 289.41 338.30 288.58 338.60 289.95 338.90 289.00 339.20 289.88 339.50 289.30 339.80 289.88 340.10 289.05 340.40 289.54 340.70 289.65 341.00 289.89 341.30 288.96 341.60 290.63 341.90 289.16 342.20 289.20 342.50 289.10 342.80 288.69 343.10 289.48 343.40 290.26 343.70 290.13 344.00 289.00 344.30 288.88 344.60 289.29 344.90 290.28 345.20 289.67 345.50 290.64 345.80 290.06 346.10 289.99 346.40 290.32 346.70 290.29 347.00 289.40 347.30 289.21 347.60 289.62 347.90 289.74 348.20 288.98 348.50 289.65 348.80 290.09 349.10 288.99 349.40 289.00 349.70 289.09 350.00 289.33 350.30 290.83 350.60 288.78 350.90 289.14 351.20 289.10 351.50 289.79 351.80 288.79 352.10 289.77 352.40 289.12 352.70 289.37 353.00 290.52 353.30 289.19 353.60 290.15 353.90 289.72 354.20 289.93 354.50 291.00 354.80 289.74 355.10 291.60 355.40 291.72 355.70 291.50 356.00 290.68 356.30 292.58 356.60 292.61 356.90 292.28 357.20 290.34 357.50 291.46 357.80 291.20 358.10 289.39 358.40 289.71 358.70 288.98 359.00 290.73 359.30 290.91 359.60 291.08M359.90 278.54 360.20 278.66 360.50 278.68 360.80 278.44 361.10 279.28 361.40 278.51 361.70 277.91 362.00 278.29 362.30 277.20 362.60 278.75 362.90 278.68 363.20 278.08 363.50 279.02 363.80 278.80 364.10 277.88 364.40 277.30 364.70 277.42 365.00 277.53 365.30 277.79 365.60 278.10 365.90 279.15 366.20 277.72 366.50 279.08 366.80 278.59 367.10 278.97 367.40 277.97 367.70 277.09 368.00 278.81 368.30 277.61 368.60 277.38 368.90 278.82 369.20 278.57 369.50 277.52 369.80 277.64 370.10 279.11 370.40 277.63 370.70 278.58 371.00 277.32 371.30 278.82 371.60 277.28 371.90 278.16 372.20 277.09 372.50 278.22 372.80 278.87 373.10 277.19 373.40 277.59 373.70 278.61 374.00 278.22 374.30 277.51 374.60 278.16 374.90 277.72 375.20 278.56 375.50 277.26 375.80 278.23 376.10 277.91 376.40 278.08 376.70 277.24 377.00 277.95 377.30 277.83 377.60 277.11 377.90 276.27 378.20 276.42 378.50 275.87 378.80 274.75 379.10 275.91 379.40 274.91 379.70 275.33 380.00 276.19 380.30 275.29 380.60 274.93 380.90 275.04 381.20 274.81 381.50 275.40 381.80 275.63 382.10 275.18 382.40 274.72 382.70 275.38 383.00 274.60 383.30 275.73 383.60 276.13 383.90 274.70 384.20 275.36 384.50 275.21 384.80 274.27 385.10 274.37 385.40 276.05 385.70 275.14 386.00 275.87 386.30 274.25 386.60 275.41 386.90 276.00 387.20 276.01 387.50 274.22 387.80 276.04 388.10 276.38 388.40 277.92 388.70 277.03 389.00 276.53 389.30 276.80 389.60 275.12 389.90 274.87 390.20 275.97 390.50 274.50 390.80 273.85 391.10 274.59 391.40 274.03 391.70 273.83 392.00 274.86 392.30 275.68 392.60 274.82 392.90 274.93 393.20 274.18 393.50 274.69 393.80 275.05 394.10 274.66 394.40 275.09 394.70 274.50 395.00 273.69 395.30 274.50 395.60 274.28 395.90 273.57 396.20 274.57 396.50 275.00 396.80 273.51 397.10 274.41 397.40 274.83 397.70 274.10 398.00 273.81 398.30 274.04 398.60 274.41 398.90 274.73 399.20 274.45 399.50 273.46 399.80 275.02 400.10 275.26 400.40 273.45 400.70 273.78 401.00 273.61 401.30 275.10 401.60 275.24 401.90 273.34 402.20 273.97 402.50 273.66 402.80 274.28 403.10 275.27 403.40 273.40 403.70 273.62 404.00 274.32 404.30 274.40 404.60 274.89 404.90 274.22 405.20 273.57 405.50 274.04 405.80 275.42 406.10 274.91 406.40 273.52 406.70 275.04 407.00 273.95 407.30 274.99 407.60 273.30 407.90 275.19 408.20 273.63 408.50 274.28 408.80 274.73 409.10 274.40 409.40 273.65 409.70 273.59 410.00 273.91 410.30 273.40 410.60 273.76 410.90 273.58 411.20 274.31 411.50 274.08 411.80 274.59 412.10 273.91 412.40 273.37M412.70 285.63 413.00 286.56 413.30 285.46 413.60 285.78 413.90 286.55 414.20 285.78 414.50 286.84 414.80 286.90 415.10 285.56 415.40 286.49 415.70 285.43 416.00 285.18 416.30 285.83 416.60 286.19 416.90 286.92 417.20 285.18 417.50 286.42 417.80 285.90 418.10 285.14 418.40 286.99 418.70 286.38 419.00 285.13 419.30 286.83 419.60 285.06 419.90 285.04 420.20 285.56 420.50 286.89 420.80 284.90 421.10 286.84 421.40 286.17 421.70 284.96 422.00 286.07 422.30 285.82 422.60 286.05 422.90 286.43 423.20 286.30 423.50 286.99 423.80 285.14 424.10 286.58 424.40 285.70 424.70 286.51 425.00 286.75 425.30 286.97 425.60 285.37 425.90 285.78 426.20 286.85 426.50 286.85 426.80 285.59 427.10 286.84 427.40 285.66 427.70 285.59 428.00 286.42 428.30 285.79 428.60 285.74 428.90 285.60 429.20 285.70 429.50 285.05 429.80 284.88 430.10 286.40 430.40 285.98 430.70 286.21 431.00 286.50 431.30 285.24 431.60 285.24 431.90 285.33 432.20 285.39 432.50 286.39 432.80 285.54 433.10 285.42 433.40 286.11 433.70 285.12 434.00 284.94 434.30 286.24 434.60 286.36 434.90 285.35 435.20 286.09 435.50 284.77 435.80 285.58 436.10 285.96 436.40 285.24 436.70 285.45 437.00 286.02 437.30 285.97 437.60 285.01 437.90 286.22 438.20 284.84 438.50 286.80 438.80 285.11 439.10 285.22 439.40 285.10 439.70 286.83 440.00 285.28 440.30 285.98 440.60 286.82 440.90 286.73 441.20 284.73 441.50 285.78 441.80 285.96 442.10 286.18 442.40 285.37 442.70 285.35 443.00 284.63 443.30 284.70 443.60 285.83 443.90 284.78 444.20 285.06 444.50 285.34 444.80 284.76 445.10 284.67 445.40 286.64 445.70 285.56 446.00 285.05 446.30 286.16 446.60 284.62 446.90 285.14 447.20 286.71 447.50 286.57 447.80 286.00 448.10 284.81 448.40 285.30 448.70 284.66 449.00 285.08 449.30 284.66 449.60 284.88 449.90 285.99 450.20 284.82 450.50 284.94 450.80 286.59 451.10 285.34 451.40 285.33 451.70 284.79 452.00 286.35 452.30 286.09 452.60 285.80 452.90 285.96 453.20 284.82 453.50 285.17 453.80 285.88 454.10 286.69 454.40 286.40 454.70 286.01 455.00 285.74 455.30 284.63 455.60 286.56 455.90 284.75 456.20 284.88 456.50 286.12 456.80 286.39 457.10 286.33 457.40 285.60 457.70 284.99 458.00 284.68 458.30 286.47 458.60 286.75 458.90 285.14 459.20 286.51 459.50 285.49 459.80 285.28 460.10 285.71 460.40 284.63 460.70 285.86 461.00 285.60 461.30 287.00 461.60 286.81 461.90 287.89 462.20 288.22 462.50 287.21 462.80 287.41 463.10 289.13 463.40 288.44 463.70 287.82 464.00 287.98 464.30 290.32 464.60 289.68 464.90 288.59 465.20 289.66M465.50 280.68 465.80 277.86 466.10 278.68 466.40 278.36 466.70 276.24 467.00 275.99 467.30 276.24 467.60 276.87 467.90 276.09 468.20 276.02 468.50 275.37 468.80 274.35 469.10 275.66 469.40 273.86 469.70 275.34 470.00 274.20 470.30 274.78 470.60 275.86 470.90 274.87 471.20 273.78 471.50 274.57 471.80 275.05 472.10 273.69 472.40 274.09 472.70 273.55 473.00 274.67 473.30 274.29 473.60 274.53 473.90 274.04 474.20 274.81 474.50 273.71 474.80 275.30 475.10 275.39 475.40 274.33 475.70 274.24 476.00 275.09 476.30 273.84 476.60 274.97 476.90 273.83 477.20 274.78 477.50 273.93 477.80 274.52 478.10 275.23 478.40 273.31 478.70 274.97 479.00 274.38 479.30 274.03 479.60 273.96 479.90 273.34 480.20 273.76 480.50 274.56 480.80 273.40 481.10 274.66 481.40 275.30 481.70 275.34 482.00 275.14 482.30 274.96 482.60 273.58 482.90 275.32 483.20 273.63 483.50 275.09 483.80 275.11 484.10 274.55 484.40 274.33 484.70 273.62 485.00 274.32 485.30 273.82 485.60 273.45 485.90 273.46 486.20 274.94 486.50 275.20 486.80 273.49 487.10 273.20 487.40 273.75 487.70 273.47 488.00 273.59 488.30 274.45 488.60 274.10 488.90 274.11 489.20 273.62 489.50 274.63 489.80 273.80 490.10 274.04 490.40 274.19 490.70 275.15 491.00 273.71 491.30 274.74 491.60 273.84 491.90 275.13 492.20 274.03 492.50 274.27 492.80 275.09 493.10 274.64 493.40 273.37 493.70 273.46 494.00 275.34 494.30 273.22 494.60 273.82 494.90 275.26 495.20 273.19 495.50 273.51 495.80 273.62 496.10 273.34 496.40 274.19 496.70 274.45 497.00 273.85 497.30 273.39 497.60 274.93 497.90 274.92 498.20 274.38 498.50 273.45 498.80 274.34 499.10 274.53 499.40 274.09 499.70 275.04 500.00 274.00 500.30 274.27 500.60 273.39 500.90 274.38 501.20 274.83 501.50 274.75 501.80 273.70 502.10 275.32 502.40 274.72 502.70 274.07 503.00 274.05 503.30 274.85 503.60 273.52 503.90 274.54 504.20 274.71 504.50 274.27 504.80 275.05 505.10 274.16 505.40 274.15 505.70 273.76 506.00 275.15 506.30 273.82 506.60 274.66 506.90 274.03 507.20 275.18 507.50 275.21 507.80 273.19 508.10 275.31 508.40 274.45 508.70 273.28 509.00 274.21 509.30 273.23 509.60 274.33 509.90 273.53 510.20 273.93 510.50 273.79 510.80 274.44 511.10 274.93 511.40 275.18 511.70 273.84 512.00 274.37 512.30 273.13 512.60 273.93 512.90 275.23 513.20 273.37 513.50 275.02 513.80 274.55 514.10 273.76 514.40 274.82 514.70 273.74 515.00 275.08 515.30 273.29 515.60 273.37 515.90 274.76 516.20 274.09 516.50 273.43 516.80 274.23 517.10 273.76 517.40 274.31 517.70 274.74 518.00 274.99M518.30 285.04 518.60 286.22 518.90 287.10 519.20 285.96 519.50 286.65 519.80 285.19 520.10 286.91 520.40 286.28 520.70 286.96 521.00 286.75 521.30 286.95 521.60 285.17 521.90 286.63 522.20 285.51 522.50 285.67 522.80 285.81 523.10 286.41 523.40 286.50 523.70 287.18 524.00 285.18 524.30 285.59 524.60 285.97 524.90 286.99 525.20 286.41 525.50 286.34 525.80 286.90 526.10 286.68 526.40 285.89 526.70 285.45 527.00 286.29 527.30 287.22 527.60 286.62 527.90 285.43 528.20 286.29 528.50 286.18 528.80 286.63 529.10 286.65 529.40 287.47 529.70 286.13 530.00 286.30 530.30 286.76 530.60 287.38 530.90 286.99 531.20 286.49 531.50 287.26 531.80 286.54 532.10 287.61 532.40 286.12 532.70 285.79 533.00 287.35 533.30 286.19 533.60 287.42 533.90 286.91 534.20 286.70 534.50 285.78 534.80 287.33 535.10 285.76 535.40 287.75 535.70 287.57 536.00 286.32 536.30 285.95 536.60 287.63 536.90 286.75 537.20 285.98 537.50 286.81 537.80 286.27 538.10 286.64 538.40 287.16 538.70 287.78 539.00 287.54 539.30 286.15" fill="none" stroke="#2eaaee" stroke-width="0.5" stroke-linejoin="round"/>
<path d="M359.72 290.00V278.30M412.67 274.40V286.00M465.49 289.68V278.30M518.09 274.20V286.00" fill="none" stroke="#2eaaee" stroke-width="0.9"/>
<path d="M318.50 388.19 319.00 388.33 319.50 388.32 320.00 388.68 320.50 387.99 321.00 388.73 321.50 388.46 322.00 389.11 322.50 389.13 323.00 389.29 323.50 389.07 324.00 388.78 324.50 389.10 325.00 389.33 325.50 388.57 326.00 389.01 326.50 388.79 327.00 389.30 327.50 388.83 328.00 389.59 328.50 389.83 329.00 389.79 329.50 389.13 330.00 389.83 330.50 389.66 331.00 389.62 331.50 389.65 332.00 389.78 332.50 389.06 333.00 390.24 333.50 389.40 334.00 388.92 334.50 389.67 335.00 390.21 335.50 389.52 336.00 390.24 336.50 390.24 337.00 389.40 337.50 388.84 338.00 389.27 338.50 390.12 339.00 389.41 339.50 389.17 340.00 389.23 340.50 389.70 341.00 389.69 341.50 390.01 342.00 390.05 342.50 389.37 343.00 389.65 343.50 389.30 344.00 389.73 344.50 389.30 345.00 389.28 345.50 390.44 346.00 389.71 346.50 389.93 347.00 390.59 347.50 389.98 348.00 389.66 348.50 389.72 349.00 389.44 349.50 390.08 350.00 389.58 350.50 390.32 351.00 389.58 351.50 389.58 352.00 389.55 352.50 389.92 353.00 389.77 353.50 390.18 354.00 389.51 354.50 389.80 355.00 390.38 355.50 389.62 356.00 390.14 356.50 390.84 357.00 390.76 357.50 390.01 358.00 389.17 358.50 390.54 359.00 389.85 359.50 390.14 360.00 389.53 360.50 390.34 361.00 389.88 361.50 389.72 362.00 389.38 362.50 389.83 363.00 389.53 363.50 389.62 364.00 389.13 364.50 389.53 365.00 389.76 365.50 389.26 366.00 389.73 366.50 389.93 367.00 389.59 367.50 389.48 368.00 389.48 368.50 390.03 369.00 389.16 369.50 389.59 370.00 389.55 370.50 389.75 371.00 389.68 371.50 389.31 372.00 390.41 372.50 389.76 373.00 389.23 373.50 389.39 374.00 389.73 374.50 389.91 375.00 389.23 375.50 389.95 376.00 389.22 376.50 389.42 377.00 390.00 377.50 389.88 378.00 388.37 378.50 388.30 379.00 388.86 379.50 388.05 380.00 388.53 380.50 388.53 381.00 388.81 381.50 388.57 382.00 388.38 382.50 388.70 383.00 388.10 383.50 388.78 384.00 388.27 384.50 388.20 385.00 388.40 385.50 388.55 386.00 388.79 386.50 388.48 387.00 388.82 387.50 388.91 388.00 388.54 388.50 388.24 389.00 388.92 389.50 388.70 390.00 387.88 390.50 388.29 391.00 388.70 391.50 388.18 392.00 388.44 392.50 388.09 393.00 388.85 393.50 388.81 394.00 388.80 394.50 389.26 395.00 388.64 395.50 388.68 396.00 389.50 396.50 388.35 397.00 389.08 397.50 388.37 398.00 388.93 398.50 389.60 399.00 388.97 399.50 388.62 400.00 389.74 400.50 388.73 401.00 388.86 401.50 389.05 402.00 388.49 402.50 389.37 403.00 389.56 403.50 389.27 404.00 389.13 404.50 388.98 405.00 389.36 405.50 387.96 406.00 389.03 406.50 389.18 407.00 388.41 407.50 389.25 408.00 389.06 408.50 389.10 409.00 389.15 409.50 389.32 410.00 389.28 410.50 388.77 411.00 389.09 411.50 389.07 412.00 389.15 412.50 388.94 413.00 389.49 413.50 389.61 414.00 389.69 414.50 389.83 415.00 389.69 415.50 389.01 416.00 388.96 416.50 389.04 417.00 389.37 417.50 389.14 418.00 389.53 418.50 389.77 419.00 389.04 419.50 389.54 420.00 389.06 420.50 388.76 421.00 388.77 421.50 389.10 422.00 388.55 422.50 389.40 423.00 389.75 423.50 388.82 424.00 389.12 424.50 389.78 425.00 389.36 425.50 389.31 426.00 389.16 426.50 389.61 427.00 389.37 427.50 388.88 428.00 388.41 428.50 388.33 429.00 389.50 429.50 389.18 430.00 389.79 430.50 389.46 431.00 388.84 431.50 389.39 432.00 389.71 432.50 388.98 433.00 389.13 433.50 389.92 434.00 388.70 434.50 388.93 435.00 389.69 435.50 389.39 436.00 388.93 436.50 388.82 437.00 389.50 437.50 389.76 438.00 389.63 438.50 389.49 439.00 389.87 439.50 389.46 440.00 389.07 440.50 390.07 441.00 388.93 441.50 389.32 442.00 389.35 442.50 389.88 443.00 389.11 443.50 389.29 444.00 388.77 444.50 389.51 445.00 389.55 445.50 389.63 446.00 389.07 446.50 389.48 447.00 389.08 447.50 389.22 448.00 389.36 448.50 389.83 449.00 389.22 449.50 389.44 450.00 389.08 450.50 389.17 451.00 389.12 451.50 389.31 452.00 389.63 452.50 388.97 453.00 389.60 453.50 389.02 454.00 389.46 454.50 389.15 455.00 389.23 455.50 389.20 456.00 389.72 456.50 389.42 457.00 389.70 457.50 389.19 458.00 389.23 458.50 389.88 459.00 388.73 459.50 389.00 460.00 389.24 460.50 389.94 461.00 389.09 461.50 389.57 462.00 389.85 462.50 389.53 463.00 390.00 463.50 391.10 464.00 390.70 464.50 390.52 465.00 391.18 465.50 390.71 466.00 391.35 466.50 390.74 467.00 389.49 467.50 389.75 468.00 389.20 468.50 388.51 469.00 388.88 469.50 387.87 470.00 388.05 470.50 388.31 471.00 388.77 471.50 387.95 472.00 388.26 472.50 388.23 473.00 387.95 473.50 388.35 474.00 388.08 474.50 388.32 475.00 388.58 475.50 388.16 476.00 388.17 476.50 388.13 477.00 388.18 477.50 387.92 478.00 388.06 478.50 388.51 479.00 388.16 479.50 389.62 480.00 388.18 480.50 388.63 481.00 387.94 481.50 388.37 482.00 388.27 482.50 388.44 483.00 388.93 483.50 388.41 484.00 388.04 484.50 388.51 485.00 388.13 485.50 388.42 486.00 389.03 486.50 388.80 487.00 388.85 487.50 388.66 488.00 388.46 488.50 387.93 489.00 388.30 489.50 388.28 490.00 388.71 490.50 388.82 491.00 388.64 491.50 388.19 492.00 389.11 492.50 388.96 493.00 388.39 493.50 388.53 494.00 388.69 494.50 388.50 495.00 388.43 495.50 388.64 496.00 388.47 496.50 388.53 497.00 387.90 497.50 387.90 498.00 389.07 498.50 387.93 499.00 388.63 499.50 388.57 500.00 388.53 500.50 388.21 501.00 388.81 501.50 388.58 502.00 388.33 502.50 387.96 503.00 388.37 503.50 388.24 504.00 388.01 504.50 388.58 505.00 388.65 505.50 388.74 506.00 388.49 506.50 388.36 507.00 388.85 507.50 388.72 508.00 389.26 508.50 388.65 509.00 388.12 509.50 388.79 510.00 389.27 510.50 388.55 511.00 388.39 511.50 388.24 512.00 389.12 512.50 388.38 513.00 388.36 513.50 388.56 514.00 387.95 514.50 388.35 515.00 388.00 515.50 388.40 516.00 388.62 516.50 388.77 517.00 388.30 517.50 388.74 518.00 388.31 518.50 387.87 519.00 388.65 519.50 388.37 520.00 388.49 520.50 387.53 521.00 388.52 521.50 388.53 522.00 388.53 522.50 388.81 523.00 388.32 523.50 389.20 524.00 388.70 524.50 388.64 525.00 387.57 525.50 387.76 526.00 388.97 526.50 388.59 527.00 388.77 527.50 388.32 528.00 388.41 528.50 388.66 529.00 388.17 529.50 388.91 530.00 388.06 530.50 388.53 531.00 388.36 531.50 388.58 532.00 388.89 532.50 388.06 533.00 388.61 533.50 388.50 534.00 388.75 534.50 388.45 535.00 388.28 535.50 388.63 536.00 388.92 536.50 388.74 537.00 388.51 537.50 388.60 538.00 387.91 538.50 388.26 539.00 388.36 539.50 388.26" fill="none" stroke="#c000c8" stroke-width="3.4" stroke-linejoin="round"/>
<path d="M318.50 390.50 318.80 387.05 319.10 389.50 319.40 388.16 319.70 388.04 320.00 387.22 320.30 387.88 320.60 390.27 320.90 390.29 321.20 390.43 321.50 388.82 321.80 387.52 322.10 387.22 322.40 388.08 322.70 388.74 323.00 388.79 323.30 390.14 323.60 388.76 323.90 389.83 324.20 387.93 324.50 390.50 324.80 390.37 325.10 388.21 325.40 390.24 325.70 389.19 326.00 388.37 326.30 388.24 326.60 388.68 326.90 387.21 327.20 389.82 327.50 388.32 327.80 390.71 328.10 388.36 328.40 389.61 328.70 388.39 329.00 389.68 329.30 390.41 329.60 389.83 329.90 388.45 330.20 391.28 330.50 391.14 330.80 391.32 331.10 389.58 331.40 389.82 331.70 388.55 332.00 388.59 332.30 390.23 332.60 390.53 332.90 389.46 333.20 390.31 333.50 390.34 333.80 389.67 334.10 389.38 334.40 391.27 334.70 388.50 335.00 389.05 335.30 391.11 335.60 390.12 335.90 389.94 336.20 389.68 336.50 388.95 336.80 390.32 337.10 389.91 337.40 389.16 337.70 389.81 338.00 389.87 338.30 390.19 338.60 388.46 338.90 388.04 339.20 388.13 339.50 389.40 339.80 389.90 340.10 390.76 340.40 389.54 340.70 390.94 341.00 389.53 341.30 388.23 341.60 388.03 341.90 389.74 342.20 389.16 342.50 388.24 342.80 389.09 343.10 390.73 343.40 391.45 343.70 388.09 344.00 388.09 344.30 388.15 344.60 389.18 344.90 389.26 345.20 388.93 345.50 390.74 345.80 388.85 346.10 389.15 346.40 389.22 346.70 389.44 347.00 388.73 347.30 390.34 347.60 389.88 347.90 390.24 348.20 389.48 348.50 389.01 348.80 389.63 349.10 390.67 349.40 391.28 349.70 390.59 350.00 388.73 350.30 389.34 350.60 390.47 350.90 390.98 351.20 388.85 351.50 388.62 351.80 388.47 352.10 390.40 352.40 388.59 352.70 390.31 353.00 389.89 353.30 390.75 353.60 389.37 353.90 390.02 354.20 391.24 354.50 388.52 354.80 389.34 355.10 389.90 355.40 390.90 355.70 389.40 356.00 389.44 356.30 390.71 356.60 390.01 356.90 390.16 357.20 390.57 357.50 389.11 357.80 388.29 358.10 389.68 358.40 389.97 358.70 389.32 359.00 389.18 359.30 389.82 359.60 388.55 359.90 388.15 360.20 389.50 360.50 388.46 360.80 388.95 361.10 389.22 361.40 388.79 361.70 389.70 362.00 390.20 362.30 388.39 362.60 391.13 362.90 390.21 363.20 391.47 363.50 390.91 363.80 389.83 364.10 390.38 364.40 390.04 364.70 388.33 365.00 391.35 365.30 388.94 365.60 389.04 365.90 388.09 366.20 389.55 366.50 388.82 366.80 390.81 367.10 389.93 367.40 390.41 367.70 388.89 368.00 389.61 368.30 389.49 368.60 388.62 368.90 389.62 369.20 389.84 369.50 390.40 369.80 389.11 370.10 389.20 370.40 389.87 370.70 391.04 371.00 388.76 371.30 390.78 371.60 390.81 371.90 388.36 372.20 389.39 372.50 388.32 372.80 389.73 373.10 391.02 373.40 391.26 373.70 388.27 374.00 388.11 374.30 390.83 374.60 387.98 374.90 390.89 375.20 389.33 375.50 390.27 375.80 391.22 376.10 388.70 376.40 390.46 376.70 389.99 377.00 391.02 377.30 390.16 377.60 389.90 377.90 390.11 378.20 388.07 378.50 388.12 378.80 386.90 379.10 389.59 379.40 388.47 379.70 390.21 380.00 387.92 380.30 389.87 380.60 388.17 380.90 389.66 381.20 387.34 381.50 386.93 381.80 387.64 382.10 389.67 382.40 389.76 382.70 387.27 383.00 387.76 383.30 389.03 383.60 387.57 383.90 389.73 384.20 389.90 384.50 387.57 384.80 387.10 385.10 388.19 385.40 388.37 385.70 388.12 386.00 388.83 386.30 390.33 386.60 387.57 386.90 390.17 387.20 389.44 387.50 388.61 387.80 387.80 388.10 387.32 388.40 387.21 388.70 386.87 389.00 388.23 389.30 388.38 389.60 387.96 389.90 389.87 390.20 389.74 390.50 387.13 390.80 388.93 391.10 387.45 391.40 386.89 391.70 390.38 392.00 388.12 392.30 388.12 392.60 387.68 392.90 390.06 393.20 387.20 393.50 389.01 393.80 389.99 394.10 389.80 394.40 388.43 394.70 389.19 395.00 387.03 395.30 390.11 395.60 387.00 395.90 389.09 396.20 388.90 396.50 387.19 396.80 387.05 397.10 387.83 397.40 388.50 397.70 389.60 398.00 388.89 398.30 390.13 398.60 389.66 398.90 389.70 399.20 387.93 399.50 389.57 399.80 389.38 400.10 389.78 400.40 389.60 400.70 389.05 401.00 388.04 401.30 387.93 401.60 388.80 401.90 387.61 402.20 388.99 402.50 387.45 402.80 387.71 403.10 390.74 403.40 388.46 403.70 390.44 404.00 390.25 404.30 389.29 404.60 390.64 404.90 389.85 405.20 387.54 405.50 388.52 405.80 389.60 406.10 388.68 406.40 388.45 406.70 388.78 407.00 388.72 407.30 389.99 407.60 390.22 407.90 389.95 408.20 389.71 408.50 390.09 408.80 388.61 409.10 390.32 409.40 388.61 409.70 390.36 410.00 389.93 410.30 389.28 410.60 387.87 410.90 389.74 411.20 387.90 411.50 388.34 411.80 390.12 412.10 389.28 412.40 388.29 412.70 390.71 413.00 387.64 413.30 390.14 413.60 390.58 413.90 388.06 414.20 390.76 414.50 387.91 414.80 388.22 415.10 389.25 415.40 390.94 415.70 388.65 416.00 387.41 416.30 389.53 416.60 388.50 416.90 390.74 417.20 388.14 417.50 389.81 417.80 387.41 418.10 389.72 418.40 388.18 418.70 390.59 419.00 388.23 419.30 389.20 419.60 390.25 419.90 387.79 420.20 388.55 420.50 390.50 420.80 390.22 421.10 390.35 421.40 390.20 421.70 389.84 422.00 388.88 422.30 390.94 422.60 388.74 422.90 390.41 423.20 389.68 423.50 388.90 423.80 387.71 424.10 387.56 424.40 388.34 424.70 390.20 425.00 389.89 425.30 387.95 425.60 389.20 425.90 388.28 426.20 388.08 426.50 389.94 426.80 389.08 427.10 389.83 427.40 389.10 427.70 390.67 428.00 387.47 428.30 389.27 428.60 387.78 428.90 387.64 429.20 389.92 429.50 387.65 429.80 390.56 430.10 388.04 430.40 388.05 430.70 389.60 431.00 388.32 431.30 389.99 431.60 389.18 431.90 390.71 432.20 390.02 432.50 389.43 432.80 389.55 433.10 390.73 433.40 389.09 433.70 389.88 434.00 390.21 434.30 389.73 434.60 389.65 434.90 389.81 435.20 388.50 435.50 388.04 435.80 389.00 436.10 389.38 436.40 388.69 436.70 389.66 437.00 389.90 437.30 390.40 437.60 389.96 437.90 390.80 438.20 390.02 438.50 388.74 438.80 389.58 439.10 387.91 439.40 389.86 439.70 391.13 440.00 390.17 440.30 387.58 440.60 389.52 440.90 388.01 441.20 390.18 441.50 387.92 441.80 390.11 442.10 387.64 442.40 390.17 442.70 389.84 443.00 390.22 443.30 390.39 443.60 389.52 443.90 390.79 444.20 390.07 444.50 389.08 444.80 389.08 445.10 388.95 445.40 388.99 445.70 390.39 446.00 387.78 446.30 388.62 446.60 390.72 446.90 388.94 447.20 390.25 447.50 388.34 447.80 390.66 448.10 387.91 448.40 389.85 448.70 387.99 449.00 389.71 449.30 389.73 449.60 388.13 449.90 388.60 450.20 387.86 450.50 388.80 450.80 388.12 451.10 388.11 451.40 388.53 451.70 388.20 452.00 390.92 452.30 390.29 452.60 387.73 452.90 388.12 453.20 390.91 453.50 389.59 453.80 389.18 454.10 387.76 454.40 387.77 454.70 389.05 455.00 388.98 455.30 388.86 455.60 387.67 455.90 388.53 456.20 390.08 456.50 389.33 456.80 388.81 457.10 390.41 457.40 387.94 457.70 389.94 458.00 388.41 458.30 390.20 458.60 388.67 458.90 387.84 459.20 389.25 459.50 387.93 459.80 390.21 460.10 390.79 460.40 389.39 460.70 390.31 461.00 389.36 461.30 390.67 461.60 388.30 461.90 388.11 462.20 387.76 462.50 388.89 462.80 389.74 463.10 389.72 463.40 388.98 463.70 390.77 464.00 389.29 464.30 390.56 464.60 391.96 464.90 391.08 465.20 391.23 465.50 390.72 465.80 390.71 466.10 389.38 466.40 389.07 466.70 389.93 467.00 391.28 467.30 390.02 467.60 390.09 467.90 390.63 468.20 390.30 468.50 389.58 468.80 388.45 469.10 386.84 469.40 388.10 469.70 387.89 470.00 388.70 470.30 389.43 470.60 389.83 470.90 389.54 471.20 389.00 471.50 388.73 471.80 388.33 472.10 386.76 472.40 387.86 472.70 388.31 473.00 388.07 473.30 390.14 473.60 389.04 473.90 389.89 474.20 389.26 474.50 388.52 474.80 388.76 475.10 388.67 475.40 388.21 475.70 387.28 476.00 386.80 476.30 387.24 476.60 387.53 476.90 390.12 477.20 388.01 477.50 387.82 477.80 387.46 478.10 389.53 478.40 388.50 478.70 387.94 479.00 388.68 479.30 387.77 479.60 388.69 479.90 389.76 480.20 387.61 480.50 389.83 480.80 388.26 481.10 387.00 481.40 386.69 481.70 387.44 482.00 387.96 482.30 389.71 482.60 388.09 482.90 389.21 483.20 388.38 483.50 388.42 483.80 386.73 484.10 388.56 484.40 389.41 484.70 389.26 485.00 389.30 485.30 389.09 485.60 386.99 485.90 388.40 486.20 388.28 486.50 388.59 486.80 387.28 487.10 387.97 487.40 388.73 487.70 388.46 488.00 387.97 488.30 387.78 488.60 386.92 488.90 386.92 489.20 389.94 489.50 388.98 489.80 387.10 490.10 389.62 490.40 389.72 490.70 389.16 491.00 388.39 491.30 390.05 491.60 387.01 491.90 388.89 492.20 388.85 492.50 387.19 492.80 387.57 493.10 387.25 493.40 388.11 493.70 389.13 494.00 386.79 494.30 387.19 494.60 389.12 494.90 389.88 495.20 389.25 495.50 388.49 495.80 389.54 496.10 388.06 496.40 389.63 496.70 388.46 497.00 389.59 497.30 389.59 497.60 387.54 497.90 386.72 498.20 388.81 498.50 389.06 498.80 389.15 499.10 387.70 499.40 386.74 499.70 388.90 500.00 389.20 500.30 386.88 500.60 387.36 500.90 387.78 501.20 387.11 501.50 388.95 501.80 389.78 502.10 389.91 502.40 389.62 502.70 388.56 503.00 388.06 503.30 389.34 503.60 387.79 503.90 387.98 504.20 388.14 504.50 388.23 504.80 389.94 505.10 388.46 505.40 388.25 505.70 387.63 506.00 388.44 506.30 388.70 506.60 388.56 506.90 389.08 507.20 388.43 507.50 387.73 507.80 388.99 508.10 388.50 508.40 389.36 508.70 387.63 509.00 387.75 509.30 388.39 509.60 388.61 509.90 388.32 510.20 388.59 510.50 387.80 510.80 386.76 511.10 386.72 511.40 387.57 511.70 386.86 512.00 387.36 512.30 387.67 512.60 388.89 512.90 390.23 513.20 389.12 513.50 387.95 513.80 389.46 514.10 387.64 514.40 389.59 514.70 388.27 515.00 388.03 515.30 386.70 515.60 387.44 515.90 388.87 516.20 390.11 516.50 388.66 516.80 389.22 517.10 388.22 517.40 388.65 517.70 389.41 518.00 386.73 518.30 388.05 518.60 388.84 518.90 387.98 519.20 388.10 519.50 386.73 519.80 388.27 520.10 387.50 520.40 387.37 520.70 390.14 521.00 386.77 521.30 387.84 521.60 388.45 521.90 386.94 522.20 388.18 522.50 389.35 522.80 387.53 523.10 388.00 523.40 389.11 523.70 388.88 524.00 387.01 524.30 387.81 524.60 388.89 524.90 389.40 525.20 387.25 525.50 387.95 525.80 389.15 526.10 386.89 526.40 387.40 526.70 386.76 527.00 389.88 527.30 387.29 527.60 388.75 527.90 387.24 528.20 387.92 528.50 389.58 528.80 387.78 529.10 389.61 529.40 388.29 529.70 390.21 530.00 387.25 530.30 389.41 530.60 388.52 530.90 387.38 531.20 388.36 531.50 388.90 531.80 388.75 532.10 388.14 532.40 388.24 532.70 386.71 533.00 388.50 533.30 389.27 533.60 387.76 533.90 386.85 534.20 388.25 534.50 389.50 534.80 389.51 535.10 387.26 535.40 387.76 535.70 388.06 536.00 387.30 536.30 387.43 536.60 389.34 536.90 388.46 537.20 387.15 537.50 387.04 537.80 388.92 538.10 389.69 538.40 389.24 538.70 386.99 539.00 390.03 539.30 388.63" fill="none" stroke="#c000c8" stroke-width="0.5" stroke-linejoin="round"/>
<path d="M360.75 389.70v-2.98M422.00 389.22v2.38M411.86 389.14v2.78M534.82 388.41v2.40M533.53 388.41v-2.28M490.80 388.47v2.62M524.63 388.42v2.13M485.80 388.48v2.78M496.00 388.46v-2.04M403.10 388.99v-2.63M438.65 389.35v2.95M430.26 389.28v2.33M375.90 389.70v-2.93M331.14 389.70v2.42M468.07 389.15v2.39M493.04 388.47v-2.72M532.89 388.41v-2.84M383.78 388.50v-2.02M395.99 388.79v-2.97M411.85 389.14v-2.04M440.54 389.36v2.99M523.04 388.42v-2.41M530.15 388.41v-2.58M485.32 388.48v-2.84M482.81 388.48v-2.81M392.17 388.68v2.65M484.44 388.48v2.08M419.75 389.20v2.66M395.09 388.77v-2.55M526.99 388.42v2.12M463.85 390.84v2.03M511.52 388.44v-2.04M454.61 389.34v2.54M459.53 389.32v-2.13M458.28 389.32v-2.20M370.41 389.70v2.08M422.93 389.23v2.76M429.10 389.27v-3.01M413.34 389.15v2.04M493.84 388.46v-2.62M320.68 388.80v3.01M511.72 388.44v2.06M362.32 389.70v-2.41M342.04 389.70v-2.28M535.33 388.41v-2.59M533.45 388.41v-2.25M353.35 389.70v-2.03M531.64 388.41v3.02M373.07 389.70v-3.08M442.59 389.38v-2.10M459.52 389.32v-3.09M332.26 389.70v2.02M370.59 389.70v2.17M369.16 389.70v2.43M340.04 389.70v-2.85M346.65 389.70v-2.97M357.96 389.92v2.47M324.57 388.80v-2.21M460.66 389.31v-2.95M398.23 388.85v2.67M475.08 388.49v-2.76M401.66 388.95v2.48M530.29 388.41v-2.34M473.18 388.49v2.00M515.69 388.43v2.94M348.98 389.70v-2.46M527.60 388.42v-2.26M375.47 389.70v-2.89M514.47 388.44v2.25M408.07 389.11v2.16M528.47 388.42v-3.02M525.13 388.42v-2.42M456.84 389.33v-2.87M485.74 388.48v-2.82M499.85 388.46v2.94M408.99 389.12v2.77M444.65 389.39v3.03M453.82 389.35v2.81M444.00 389.39v2.32M415.40 389.17v-2.71M421.76 389.22v-2.32M385.29 388.53v2.21M356.37 390.20v-2.17M442.13 389.37v-2.98M515.21 388.43v2.43M375.29 389.70v2.21M494.60 388.46v2.47M444.29 389.39v-2.62M466.41 390.64v2.94M476.35 388.49v-2.66M536.82 388.40v-2.08M530.39 388.41v-2.79M395.36 388.77v2.03M420.53 389.21v-2.81M391.60 388.67v-3.01M481.29 388.48v-2.76M462.94 390.01v-2.95M494.47 388.46v-3.08M467.35 389.79v2.14M382.39 388.48v-2.89" fill="none" stroke="#c000c8" stroke-width="0.6"/>
<path d="M359.61 389.70V402.00M412.29 389.14V361.20M465.24 390.90V402.20M518.20 388.43V363.20M356.91 390.48V392.50M389.22 388.60V392.30M475.85 388.49V392.50M467.01 390.22V394.50" fill="none" stroke="#c000c8" stroke-width="0.9"/>
<g font-family='"Liberation Serif", "Times New Roman", serif' fill="#222" stroke="#222" stroke-width="0.18">
<rect x="28.5" y="17.5" width="220" height="76" fill="none" stroke="#a4a4a4" stroke-width="1.4"/>
<path d="M28.5 93.5v-2.0M28.5 17.5v2.0M72.5 93.5v-2.0M72.5 17.5v2.0M116.5 93.5v-2.0M116.5 17.5v2.0M160.5 93.5v-2.0M160.5 17.5v2.0M204.5 93.5v-2.0M204.5 17.5v2.0M248.5 93.5v-2.0M248.5 17.5v2.0M28.5 93.5h2.0M248.5 93.5h-2.0M28.5 68.17h2.0M248.5 68.17h-2.0M28.5 42.83h2.0M248.5 42.83h-2.0M28.5 17.5h2.0M248.5 17.5h-2.0" stroke="#a4a4a4" stroke-width="1.4" fill="none"/>
<text transform="translate(28.5 104.3) scale(1 1.1)" text-anchor="middle" font-size="7.5" fill="#383838" stroke-width="0.1">0</text>
<text transform="translate(72.5 104.3) scale(1 1.1)" text-anchor="middle" font-size="7.5" fill="#383838" stroke-width="0.1">100</text>
<text transform="translate(116.5 104.3) scale(1 1.1)" text-anchor="middle" font-size="7.5" fill="#383838" stroke-width="0.1">200</text>
<text transform="translate(160.5 104.3) scale(1 1.1)" text-anchor="middle" font-size="7.5" fill="#383838" stroke-width="0.1">300</text>
<text transform="translate(204.5 104.3) scale(1 1.1)" text-anchor="middle" font-size="7.5" fill="#383838" stroke-width="0.1">400</text>
<text transform="translate(249.2 104.3) scale(1 1.1)" text-anchor="middle" font-size="7.5" fill="#383838" stroke-width="0.1">500</text>
<text transform="translate(25.2 96.64) scale(1 1.1)" text-anchor="end" font-size="7.5" fill="#383838" stroke-width="0.1">20</text>
<text transform="translate(25.2 71.31) scale(1 1.1)" text-anchor="end" font-size="7.5" fill="#383838" stroke-width="0.1">30</text>
<text transform="translate(25.2 45.97) scale(1 1.1)" text-anchor="end" font-size="7.5" fill="#383838" stroke-width="0.1">40</text>
<text transform="translate(25.2 20.64) scale(1 1.1)" text-anchor="end" font-size="7.5" fill="#383838" stroke-width="0.1">50</text>
<rect x="28.5" y="128.5" width="220" height="76.2" fill="none" stroke="#a4a4a4" stroke-width="1.4"/>
<path d="M28.5 204.7v-2.0M28.5 128.5v2.0M72.5 204.7v-2.0M72.5 128.5v2.0M116.5 204.7v-2.0M116.5 128.5v2.0M160.5 204.7v-2.0M160.5 128.5v2.0M204.5 204.7v-2.0M204.5 128.5v2.0M248.5 204.7v-2.0M248.5 128.5v2.0M28.5 204.7h2.0M248.5 204.7h-2.0M28.5 182.93h2.0M248.5 182.93h-2.0M28.5 161.16h2.0M248.5 161.16h-2.0M28.5 139.39h2.0M248.5 139.39h-2.0" stroke="#a4a4a4" stroke-width="1.4" fill="none"/>
<text transform="translate(28.5 215.5) scale(1 1.1)" text-anchor="middle" font-size="7.5" fill="#383838" stroke-width="0.1">0</text>
<text transform="translate(72.5 215.5) scale(1 1.1)" text-anchor="middle" font-size="7.5" fill="#383838" stroke-width="0.1">100</text>
<text transform="translate(116.5 215.5) scale(1 1.1)" text-anchor="middle" font-size="7.5" fill="#383838" stroke-width="0.1">200</text>
<text transform="translate(160.5 215.5) scale(1 1.1)" text-anchor="middle" font-size="7.5" fill="#383838" stroke-width="0.1">300</text>
<text transform="translate(204.5 215.5) scale(1 1.1)" text-anchor="middle" font-size="7.5" fill="#383838" stroke-width="0.1">400</text>
<text transform="translate(249.2 215.5) scale(1 1.1)" text-anchor="middle" font-size="7.5" fill="#383838" stroke-width="0.1">500</text>
<text transform="translate(25.2 207.84) scale(1 1.1)" text-anchor="end" font-size="7.5" fill="#383838" stroke-width="0.1">0</text>
<text transform="translate(25.2 186.07) scale(1 1.1)" text-anchor="end" font-size="7.5" fill="#383838" stroke-width="0.1">10</text>
<text transform="translate(25.2 164.3) scale(1 1.1)" text-anchor="end" font-size="7.5" fill="#383838" stroke-width="0.1">20</text>
<text transform="translate(25.2 142.52) scale(1 1.1)" text-anchor="end" font-size="7.5" fill="#383838" stroke-width="0.1">30</text>
<rect x="28.5" y="240.3" width="220" height="76.2" fill="none" stroke="#a4a4a4" stroke-width="1.4"/>
<path d="M28.5 316.5v-2.0M28.5 240.3v2.0M72.5 316.5v-2.0M72.5 240.3v2.0M116.5 316.5v-2.0M116.5 240.3v2.0M160.5 316.5v-2.0M160.5 240.3v2.0M204.5 316.5v-2.0M204.5 240.3v2.0M248.5 316.5v-2.0M248.5 240.3v2.0M28.5 316.5h2.0M248.5 316.5h-2.0M28.5 278.4h2.0M248.5 278.4h-2.0M28.5 240.3h2.0M248.5 240.3h-2.0" stroke="#a4a4a4" stroke-width="1.4" fill="none"/>
<text transform="translate(28.5 327.3) scale(1 1.1)" text-anchor="middle" font-size="7.5" fill="#383838" stroke-width="0.1">0</text>
<text transform="translate(72.5 327.3) scale(1 1.1)" text-anchor="middle" font-size="7.5" fill="#383838" stroke-width="0.1">100</text>
<text transform="translate(116.5 327.3) scale(1 1.1)" text-anchor="middle" font-size="7.5" fill="#383838" stroke-width="0.1">200</text>
<text transform="translate(160.5 327.3) scale(1 1.1)" text-anchor="middle" font-size="7.5" fill="#383838" stroke-width="0.1">300</text>
<text transform="translate(204.5 327.3) scale(1 1.1)" text-anchor="middle" font-size="7.5" fill="#383838" stroke-width="0.1">400</text>
<text transform="translate(249.2 327.3) scale(1 1.1)" text-anchor="middle" font-size="7.5" fill="#383838" stroke-width="0.1">500</text>
<text transform="translate(25.2 319.64) scale(1 1.1)" text-anchor="end" font-size="7.5" fill="#383838" stroke-width="0.1">0</text>
<text transform="translate(25.2 281.54) scale(1 1.1)" text-anchor="end" font-size="7.5" fill="#383838" stroke-width="0.1">5</text>
<text transform="translate(25.2 243.44) scale(1 1.1)" text-anchor="end" font-size="7.5" fill="#383838" stroke-width="0.1">10</text>
<rect x="28.5" y="351.4" width="220" height="76.8" fill="none" stroke="#a4a4a4" stroke-width="1.4"/>
<path d="M28.5 428.2v-2.0M28.5 351.4v2.0M72.5 428.2v-2.0M72.5 351.4v2.0M116.5 428.2v-2.0M116.5 351.4v2.0M160.5 428.2v-2.0M160.5 351.4v2.0M204.5 428.2v-2.0M204.5 351.4v2.0M248.5 428.2v-2.0M248.5 351.4v2.0M28.5 428.2h2.0M248.5 428.2h-2.0M28.5 402.6h2.0M248.5 402.6h-2.0M28.5 377h2.0M248.5 377h-2.0M28.5 351.4h2.0M248.5 351.4h-2.0" stroke="#a4a4a4" stroke-width="1.4" fill="none"/>
<text transform="translate(28.5 439) scale(1 1.1)" text-anchor="middle" font-size="7.5" fill="#383838" stroke-width="0.1">0</text>
<text transform="translate(72.5 439) scale(1 1.1)" text-anchor="middle" font-size="7.5" fill="#383838" stroke-width="0.1">100</text>
<text transform="translate(116.5 439) scale(1 1.1)" text-anchor="middle" font-size="7.5" fill="#383838" stroke-width="0.1">200</text>
<text transform="translate(160.5 439) scale(1 1.1)" text-anchor="middle" font-size="7.5" fill="#383838" stroke-width="0.1">300</text>
<text transform="translate(204.5 439) scale(1 1.1)" text-anchor="middle" font-size="7.5" fill="#383838" stroke-width="0.1">400</text>
<text transform="translate(249.2 439) scale(1 1.1)" text-anchor="middle" font-size="7.5" fill="#383838" stroke-width="0.1">500</text>
<text transform="translate(25.2 431.34) scale(1 1.1)" text-anchor="end" font-size="7.5" fill="#383838" stroke-width="0.1">0</text>
<text transform="translate(25.2 405.74) scale(1 1.1)" text-anchor="end" font-size="7.5" fill="#383838" stroke-width="0.1">100</text>
<text transform="translate(25.2 380.14) scale(1 1.1)" text-anchor="end" font-size="7.5" fill="#383838" stroke-width="0.1">200</text>
<text transform="translate(25.2 354.54) scale(1 1.1)" text-anchor="end" font-size="7.5" fill="#383838" stroke-width="0.1">300</text>
<rect x="318.5" y="17.5" width="221" height="76" fill="none" stroke="#a4a4a4" stroke-width="1.4"/>
<path d="M318.5 93.5v-2.0M318.5 17.5v2.0M362.7 93.5v-2.0M362.7 17.5v2.0M406.9 93.5v-2.0M406.9 17.5v2.0M451.1 93.5v-2.0M451.1 17.5v2.0M495.3 93.5v-2.0M495.3 17.5v2.0M539.5 93.5v-2.0M539.5 17.5v2.0M318.5 93.5h2.0M539.5 93.5h-2.0M318.5 68.17h2.0M539.5 68.17h-2.0M318.5 42.83h2.0M539.5 42.83h-2.0M318.5 17.5h2.0M539.5 17.5h-2.0" stroke="#a4a4a4" stroke-width="1.4" fill="none"/>
<text transform="translate(318.5 104.3) scale(1 1.1)" text-anchor="middle" font-size="7.5" fill="#383838" stroke-width="0.1">0</text>
<text transform="translate(362.7 104.3) scale(1 1.1)" text-anchor="middle" font-size="7.5" fill="#383838" stroke-width="0.1">100</text>
<text transform="translate(406.9 104.3) scale(1 1.1)" text-anchor="middle" font-size="7.5" fill="#383838" stroke-width="0.1">200</text>
<text transform="translate(451.1 104.3) scale(1 1.1)" text-anchor="middle" font-size="7.5" fill="#383838" stroke-width="0.1">300</text>
<text transform="translate(495.3 104.3) scale(1 1.1)" text-anchor="middle" font-size="7.5" fill="#383838" stroke-width="0.1">400</text>
<text transform="translate(539.5 104.3) scale(1 1.1)" text-anchor="middle" font-size="7.5" fill="#383838" stroke-width="0.1">500</text>
<text transform="translate(315.2 96.64) scale(1 1.1)" text-anchor="end" font-size="7.5" fill="#383838" stroke-width="0.1">60</text>
<text transform="translate(315.2 71.31) scale(1 1.1)" text-anchor="end" font-size="7.5" fill="#383838" stroke-width="0.1">70</text>
<text transform="translate(315.2 45.97) scale(1 1.1)" text-anchor="end" font-size="7.5" fill="#383838" stroke-width="0.1">80</text>
<text transform="translate(315.2 20.64) scale(1 1.1)" text-anchor="end" font-size="7.5" fill="#383838" stroke-width="0.1">90</text>
<rect x="318.5" y="128.5" width="221" height="76.2" fill="none" stroke="#a4a4a4" stroke-width="1.4"/>
<path d="M318.5 204.7v-2.0M318.5 128.5v2.0M362.7 204.7v-2.0M362.7 128.5v2.0M406.9 204.7v-2.0M406.9 128.5v2.0M451.1 204.7v-2.0M451.1 128.5v2.0M495.3 204.7v-2.0M495.3 128.5v2.0M539.5 204.7v-2.0M539.5 128.5v2.0M318.5 204.7h2.0M539.5 204.7h-2.0M318.5 185.65h2.0M539.5 185.65h-2.0M318.5 166.6h2.0M539.5 166.6h-2.0M318.5 147.55h2.0M539.5 147.55h-2.0M318.5 128.5h2.0M539.5 128.5h-2.0" stroke="#a4a4a4" stroke-width="1.4" fill="none"/>
<text transform="translate(318.5 215.5) scale(1 1.1)" text-anchor="middle" font-size="7.5" fill="#383838" stroke-width="0.1">0</text>
<text transform="translate(362.7 215.5) scale(1 1.1)" text-anchor="middle" font-size="7.5" fill="#383838" stroke-width="0.1">100</text>
<text transform="translate(406.9 215.5) scale(1 1.1)" text-anchor="middle" font-size="7.5" fill="#383838" stroke-width="0.1">200</text>
<text transform="translate(451.1 215.5) scale(1 1.1)" text-anchor="middle" font-size="7.5" fill="#383838" stroke-width="0.1">300</text>
<text transform="translate(495.3 215.5) scale(1 1.1)" text-anchor="middle" font-size="7.5" fill="#383838" stroke-width="0.1">400</text>
<text transform="translate(539.5 215.5) scale(1 1.1)" text-anchor="middle" font-size="7.5" fill="#383838" stroke-width="0.1">500</text>
<text transform="translate(315.2 207.84) scale(1 1.1)" text-anchor="end" font-size="7.5" fill="#383838" stroke-width="0.1">0</text>
<text transform="translate(315.2 188.79) scale(1 1.1)" text-anchor="end" font-size="7.5" fill="#383838" stroke-width="0.1">1</text>
<text transform="translate(315.2 169.74) scale(1 1.1)" text-anchor="end" font-size="7.5" fill="#383838" stroke-width="0.1">2</text>
<text transform="translate(315.2 150.69) scale(1 1.1)" text-anchor="end" font-size="7.5" fill="#383838" stroke-width="0.1">3</text>
<text transform="translate(315.2 131.64) scale(1 1.1)" text-anchor="end" font-size="7.5" fill="#383838" stroke-width="0.1">4</text>
<rect x="318.5" y="240.3" width="221" height="76.2" fill="none" stroke="#a4a4a4" stroke-width="1.4"/>
<path d="M318.5 316.5v-2.0M318.5 240.3v2.0M362.7 316.5v-2.0M362.7 240.3v2.0M406.9 316.5v-2.0M406.9 240.3v2.0M451.1 316.5v-2.0M451.1 240.3v2.0M495.3 316.5v-2.0M495.3 240.3v2.0M539.5 316.5v-2.0M539.5 240.3v2.0M318.5 316.5h2.0M539.5 316.5h-2.0M318.5 297.45h2.0M539.5 297.45h-2.0M318.5 278.4h2.0M539.5 278.4h-2.0M318.5 259.35h2.0M539.5 259.35h-2.0M318.5 240.3h2.0M539.5 240.3h-2.0" stroke="#a4a4a4" stroke-width="1.4" fill="none"/>
<text transform="translate(318.5 327.3) scale(1 1.1)" text-anchor="middle" font-size="7.5" fill="#383838" stroke-width="0.1">0</text>
<text transform="translate(362.7 327.3) scale(1 1.1)" text-anchor="middle" font-size="7.5" fill="#383838" stroke-width="0.1">100</text>
<text transform="translate(406.9 327.3) scale(1 1.1)" text-anchor="middle" font-size="7.5" fill="#383838" stroke-width="0.1">200</text>
<text transform="translate(451.1 327.3) scale(1 1.1)" text-anchor="middle" font-size="7.5" fill="#383838" stroke-width="0.1">300</text>
<text transform="translate(495.3 327.3) scale(1 1.1)" text-anchor="middle" font-size="7.5" fill="#383838" stroke-width="0.1">400</text>
<text transform="translate(539.5 327.3) scale(1 1.1)" text-anchor="middle" font-size="7.5" fill="#383838" stroke-width="0.1">500</text>
<text transform="translate(315.2 319.64) scale(1 1.1)" text-anchor="end" font-size="7.5" fill="#383838" stroke-width="0.1">0.5</text>
<text transform="translate(315.2 300.59) scale(1 1.1)" text-anchor="end" font-size="7.5" fill="#383838" stroke-width="0.1">0.55</text>
<text transform="translate(315.2 281.54) scale(1 1.1)" text-anchor="end" font-size="7.5" fill="#383838" stroke-width="0.1">0.6</text>
<text transform="translate(315.2 262.49) scale(1 1.1)" text-anchor="end" font-size="7.5" fill="#383838" stroke-width="0.1">0.65</text>
<text transform="translate(315.2 243.44) scale(1 1.1)" text-anchor="end" font-size="7.5" fill="#383838" stroke-width="0.1">0.7</text>
<rect x="318.5" y="351.4" width="221" height="76.8" fill="none" stroke="#a4a4a4" stroke-width="1.4"/>
<path d="M318.5 428.2v-2.0M318.5 351.4v2.0M362.7 428.2v-2.0M362.7 351.4v2.0M406.9 428.2v-2.0M406.9 351.4v2.0M451.1 428.2v-2.0M451.1 351.4v2.0M495.3 428.2v-2.0M495.3 351.4v2.0M539.5 428.2v-2.0M539.5 351.4v2.0M318.5 428.2h2.0M539.5 428.2h-2.0M318.5 409h2.0M539.5 409h-2.0M318.5 389.8h2.0M539.5 389.8h-2.0M318.5 370.6h2.0M539.5 370.6h-2.0M318.5 351.4h2.0M539.5 351.4h-2.0" stroke="#a4a4a4" stroke-width="1.4" fill="none"/>
<text transform="translate(318.5 439) scale(1 1.1)" text-anchor="middle" font-size="7.5" fill="#383838" stroke-width="0.1">0</text>
<text transform="translate(362.7 439) scale(1 1.1)" text-anchor="middle" font-size="7.5" fill="#383838" stroke-width="0.1">100</text>
<text transform="translate(406.9 439) scale(1 1.1)" text-anchor="middle" font-size="7.5" fill="#383838" stroke-width="0.1">200</text>
<text transform="translate(451.1 439) scale(1 1.1)" text-anchor="middle" font-size="7.5" fill="#383838" stroke-width="0.1">300</text>
<text transform="translate(495.3 439) scale(1 1.1)" text-anchor="middle" font-size="7.5" fill="#383838" stroke-width="0.1">400</text>
<text transform="translate(539.5 439) scale(1 1.1)" text-anchor="middle" font-size="7.5" fill="#383838" stroke-width="0.1">500</text>
<text transform="translate(315.2 431.34) scale(1 1.1)" text-anchor="end" font-size="7.5" fill="#383838" stroke-width="0.1">-10</text>
<text transform="translate(315.2 412.14) scale(1 1.1)" text-anchor="end" font-size="7.5" fill="#383838" stroke-width="0.1">-5</text>
<text transform="translate(315.2 392.94) scale(1 1.1)" text-anchor="end" font-size="7.5" fill="#383838" stroke-width="0.1">0</text>
<text transform="translate(315.2 373.74) scale(1 1.1)" text-anchor="end" font-size="7.5" fill="#383838" stroke-width="0.1">5</text>
<text transform="translate(315.2 354.54) scale(1 1.1)" text-anchor="end" font-size="7.5" fill="#383838" stroke-width="0.1">10</text>
<rect x="39.5" y="142.0" width="54.70" height="43.10" fill="#fff" stroke="none"/>
<path d="M39.61 173.60C39.87 173.82 40.60 173.82 41.19 174.92C41.79 176.02 42.51 180.09 43.17 180.20C43.83 180.31 44.60 176.68 45.15 175.58C45.70 174.48 46.03 173.49 46.47 173.60C46.91 173.71 47.35 176.13 47.79 176.24C48.23 176.35 48.67 174.70 49.11 174.26C49.55 173.82 49.88 172.61 50.43 173.60C50.98 174.59 51.75 179.87 52.41 180.20C53.07 180.53 53.84 176.46 54.39 175.58C54.93 174.70 55.26 175.14 55.70 174.92C56.14 174.70 56.63 175.25 57.02 174.26C57.42 173.27 57.75 172.06 58.08 168.98C58.41 165.90 58.63 159.20 59.00 155.79C59.38 152.38 59.88 149.41 60.32 148.53C60.76 147.65 61.27 148.20 61.64 150.51C62.01 152.82 62.23 158.43 62.56 162.39C62.89 166.34 63.27 171.84 63.62 174.26C63.97 176.68 64.35 177.34 64.68 176.90C65.01 176.46 65.23 173.71 65.60 171.62C65.97 169.53 66.48 165.35 66.92 164.36C67.36 163.37 67.80 164.91 68.24 165.68C68.68 166.45 69.12 167.77 69.56 168.98C70.00 170.19 70.33 172.17 70.88 172.94C71.43 173.71 72.20 173.49 72.85 173.60C73.51 173.71 74.17 172.61 74.83 173.60C75.49 174.59 76.15 179.32 76.81 179.54C77.47 179.76 78.31 175.91 78.79 174.92C79.28 173.93 79.28 172.83 79.72 173.60C80.15 174.37 80.81 179.43 81.43 179.54C82.05 179.65 82.82 175.58 83.41 174.26C84.00 172.94 84.44 170.96 84.99 171.62C85.54 172.28 86.20 177.12 86.71 178.22C87.21 179.32 87.48 179.21 88.03 178.22C88.58 177.23 89.46 173.16 90.01 172.28C90.55 171.40 90.77 171.73 91.32 172.94C91.87 174.15 92.86 178.66 93.30 179.54C93.74 180.42 93.85 178.44 93.96 178.22" fill="none" stroke="#ff4a4a" stroke-width="0.6"/>
<rect x="39.5" y="142.0" width="54.7" height="43.1" fill="none" stroke="#a4a4a4" stroke-width="1.4"/>
<path d="M39.5 185.1v-1.2M39.5 142v1.2M66.85 185.1v-1.2M66.85 142v1.2M94.2 185.1v-1.2M94.2 142v1.2M39.5 177.18h1.2M94.2 177.18h-1.2M39.5 159.59h1.2M94.2 159.59h-1.2M39.5 142h1.2M94.2 142h-1.2" stroke="#a4a4a4" stroke-width="1.4" fill="none"/>
<text transform="translate(39.5 192.9) scale(1 1.0)" text-anchor="middle" font-size="6.2" fill="#383838" stroke-width="0.1">92</text>
<text transform="translate(66.85 192.9) scale(1 1.0)" text-anchor="middle" font-size="6.2" fill="#383838" stroke-width="0.1">93</text>
<text transform="translate(94.2 192.9) scale(1 1.0)" text-anchor="middle" font-size="6.2" fill="#383838" stroke-width="0.1">94</text>
<text transform="translate(37.3 179.28) scale(1 1.0)" text-anchor="end" font-size="6.2" fill="#383838" stroke-width="0.1">32</text>
<text transform="translate(37.3 161.69) scale(1 1.0)" text-anchor="end" font-size="6.2" fill="#383838" stroke-width="0.1">34</text>
<text transform="translate(37.3 144.1) scale(1 1.0)" text-anchor="end" font-size="6.2" fill="#383838" stroke-width="0.1">36</text>
<rect x="113.3" y="142.0" width="55.10" height="44.50" fill="#fff" stroke="none"/>
<path d="M113.19 149.19C113.41 148.42 114.07 145.23 114.51 144.58C114.95 143.92 115.39 144.47 115.83 145.23C116.27 146.00 116.71 148.97 117.15 149.19C117.59 149.41 118.03 147.21 118.47 146.55C118.91 145.89 119.24 145.34 119.79 145.23C120.34 145.12 121.22 145.34 121.77 145.89C122.32 146.44 122.65 147.32 123.09 148.53C123.53 149.74 123.97 150.84 124.41 153.15C124.85 155.46 125.29 158.87 125.73 162.39C126.17 165.90 126.65 170.85 127.04 174.26C127.44 177.67 127.77 182.17 128.10 182.83C128.43 183.49 128.69 181.62 129.02 178.22C129.35 174.81 129.75 167.00 130.08 162.39C130.41 157.77 130.69 153.37 131.00 150.51C131.31 147.65 131.60 145.67 131.93 145.23C132.26 144.80 132.59 147.21 132.98 147.87C133.38 148.53 133.86 148.53 134.30 149.19C134.74 149.85 135.18 150.73 135.62 151.83C136.06 152.93 136.50 154.58 136.94 155.79C137.38 157.00 137.86 159.09 138.26 159.09C138.65 159.09 138.98 157.22 139.31 155.79C139.64 154.36 139.86 151.83 140.24 150.51C140.61 149.19 141.12 148.53 141.56 147.87C142.00 147.21 142.44 146.44 142.88 146.55C143.32 146.66 143.76 148.86 144.20 148.53C144.64 148.20 145.07 145.01 145.51 144.58C145.95 144.14 146.39 145.12 146.83 145.89C147.27 146.66 147.71 149.19 148.15 149.19C148.59 149.19 149.03 146.55 149.47 145.89C149.91 145.23 150.35 144.91 150.79 145.23C151.23 145.56 151.67 147.32 152.11 147.87C152.55 148.42 152.99 148.75 153.43 148.53C153.87 148.31 154.31 146.99 154.75 146.55C155.19 146.11 155.63 145.56 156.07 145.89C156.51 146.22 156.95 147.98 157.39 148.53C157.83 149.08 158.27 149.52 158.71 149.19C159.15 148.86 159.59 147.21 160.03 146.55C160.47 145.89 160.91 145.56 161.35 145.23C161.79 144.91 162.23 144.25 162.66 144.58C163.10 144.91 163.54 146.44 163.98 147.21C164.42 147.98 164.86 149.30 165.30 149.19C165.74 149.08 166.18 147.21 166.62 146.55C167.06 145.89 167.72 145.45 167.94 145.23" fill="none" stroke="#ff4a4a" stroke-width="0.6"/>
<rect x="113.3" y="142.0" width="55.1" height="44.5" fill="none" stroke="#a4a4a4" stroke-width="1.4"/>
<path d="M113.3 186.5v-1.2M113.3 142v1.2M140.85 186.5v-1.2M140.85 142v1.2M168.4 186.5v-1.2M168.4 142v1.2M113.3 186.5h1.2M168.4 186.5h-1.2M113.3 146.94h1.2M168.4 146.94h-1.2" stroke="#a4a4a4" stroke-width="1.4" fill="none"/>
<text transform="translate(113.3 194.3) scale(1 1.0)" text-anchor="middle" font-size="6.2" fill="#383838" stroke-width="0.1">212</text>
<text transform="translate(140.85 194.3) scale(1 1.0)" text-anchor="middle" font-size="6.2" fill="#383838" stroke-width="0.1">213</text>
<text transform="translate(168.4 194.3) scale(1 1.0)" text-anchor="middle" font-size="6.2" fill="#383838" stroke-width="0.1">214</text>
<text transform="translate(111.1 188.6) scale(1 1.0)" text-anchor="end" font-size="6.2" fill="#383838" stroke-width="0.1">24</text>
<text transform="translate(111.1 149.04) scale(1 1.0)" text-anchor="end" font-size="6.2" fill="#383838" stroke-width="0.1">32</text>
<rect x="186.3" y="141.8" width="54.90" height="45.00" fill="#fff" stroke="none"/>
<path d="M186.23 171.93C186.51 169.16 187.27 158.91 187.89 155.35C188.51 151.78 189.39 151.08 189.96 150.51C190.54 149.93 190.84 148.44 191.35 151.89C191.85 155.35 192.31 172.16 193.00 171.24C193.69 170.31 194.66 144.98 195.49 146.36C196.32 147.75 197.13 179.53 197.98 179.53C198.83 179.53 199.68 147.40 200.60 146.36C201.52 145.33 202.63 172.27 203.50 173.31C204.38 174.34 204.93 152.58 205.85 152.58C206.77 152.58 208.06 174.64 209.03 173.31C210.00 171.97 210.76 143.88 211.66 144.57C212.56 145.26 213.55 177.15 214.42 177.45C215.30 177.75 215.99 147.05 216.91 146.36C217.83 145.67 219.03 173.31 219.95 173.31C220.87 173.31 221.61 145.56 222.44 146.36C223.26 147.17 224.07 178.26 224.92 178.14C225.77 178.03 226.70 146.48 227.55 145.67C228.40 144.87 229.23 172.27 230.04 173.31C230.84 174.34 231.51 151.78 232.38 151.89C233.26 152.01 234.41 174.99 235.29 174.00C236.16 173.01 236.71 146.41 237.63 145.95C238.56 145.49 240.28 167.02 240.81 171.24" fill="none" stroke="#ff4a4a" stroke-width="0.6"/>
<rect x="186.3" y="141.8" width="54.9" height="45" fill="none" stroke="#a4a4a4" stroke-width="1.4"/>
<path d="M186.3 186.8v-1.2M186.3 141.8v1.2M213.75 186.8v-1.2M213.75 141.8v1.2M241.2 186.8v-1.2M241.2 141.8v1.2M186.3 177.74h1.2M241.2 177.74h-1.2M186.3 161.55h1.2M241.2 161.55h-1.2M186.3 145.36h1.2M241.2 145.36h-1.2" stroke="#a4a4a4" stroke-width="1.4" fill="none"/>
<text transform="translate(186.3 194.6) scale(1 1.0)" text-anchor="middle" font-size="6.2" fill="#383838" stroke-width="0.1">180</text>
<text transform="translate(213.75 194.6) scale(1 1.0)" text-anchor="middle" font-size="6.2" fill="#383838" stroke-width="0.1">185</text>
<text transform="translate(241.2 194.6) scale(1 1.0)" text-anchor="middle" font-size="6.2" fill="#383838" stroke-width="0.1">190</text>
<text transform="translate(184.1 179.83) scale(1 1.0)" text-anchor="end" font-size="6.2" fill="#383838" stroke-width="0.1">31.5</text>
<text transform="translate(184.1 163.64) scale(1 1.0)" text-anchor="end" font-size="6.2" fill="#383838" stroke-width="0.1">32</text>
<text transform="translate(184.1 147.46) scale(1 1.0)" text-anchor="end" font-size="6.2" fill="#383838" stroke-width="0.1">32.5</text>
<text x="139" y="114.7" text-anchor="middle" font-size="8.6">Time (s)</text>
<text x="139" y="225.9" text-anchor="middle" font-size="8.6">Time (s)</text>
<text x="139" y="337.7" text-anchor="middle" font-size="8.6">Time (s)</text>
<text x="139" y="449.4" text-anchor="middle" font-size="8.6">Time (s)</text>
<text x="429.5" y="114.7" text-anchor="middle" font-size="8.6">Time (s)</text>
<text x="429.5" y="225.9" text-anchor="middle" font-size="8.6">Time (s)</text>
<text x="429.5" y="337.7" text-anchor="middle" font-size="8.6">Time (s)</text>
<text x="429.5" y="449.4" text-anchor="middle" font-size="8.6">Time (s)</text>
<text transform="translate(14 60.3) rotate(-90)" text-anchor="middle" font-size="8.6">Load resistance(Ω)</text>
<text transform="translate(13.2 165.9) rotate(-90)" text-anchor="middle" font-size="8.9">Voltage (V)</text>
<text transform="translate(13 278.6) rotate(-90)" text-anchor="middle" font-size="8.6">Current (A)</text>
<text transform="translate(8.8 389) rotate(-90)" text-anchor="middle" font-size="8.9">Power (W)</text>
<text transform="translate(303.5 55.2) rotate(-90)" text-anchor="middle" font-size="8.9">Voltage (V)</text>
<text transform="translate(307.7 166.9) rotate(-90)" text-anchor="middle" font-size="8.6">Current (A)</text>
<text transform="translate(297.8 277.9) rotate(-90)" text-anchor="middle" font-size="8.6">Duty cycle</text>
<text transform="translate(301 389.2) rotate(-90)" text-anchor="middle" font-size="8.6">Error (V)</text>
<text x="30" y="12.2" font-size="13" stroke-width="0.15" letter-spacing="-0.2">(<tspan font-weight="bold">a</tspan>)</text>
<text x="27" y="123.8" font-size="13" stroke-width="0.15" letter-spacing="-0.2">(<tspan font-weight="bold">b</tspan>)</text>
<text x="26.7" y="234" font-size="13" stroke-width="0.15" letter-spacing="-0.2">(<tspan font-weight="bold">c</tspan>)</text>
<text x="27.6" y="347" font-size="13" stroke-width="0.15" letter-spacing="-0.2">(<tspan font-weight="bold">d</tspan>)</text>
<text x="318.7" y="13" font-size="13" stroke-width="0.15" letter-spacing="-0.2">(<tspan font-weight="bold">e</tspan>)</text>
<text x="318.8" y="122.5" font-size="13" stroke-width="0.15" letter-spacing="-0.2">(<tspan font-weight="bold">f</tspan>)</text>
<text x="317.2" y="235" font-size="13" stroke-width="0.15" letter-spacing="-0.2">(<tspan font-weight="bold">g</tspan>)</text>
<text x="317.6" y="346.6" font-size="13" stroke-width="0.15" letter-spacing="-0.2">(<tspan font-weight="bold">h</tspan>)</text>
</g>
</svg>
</body></html>
